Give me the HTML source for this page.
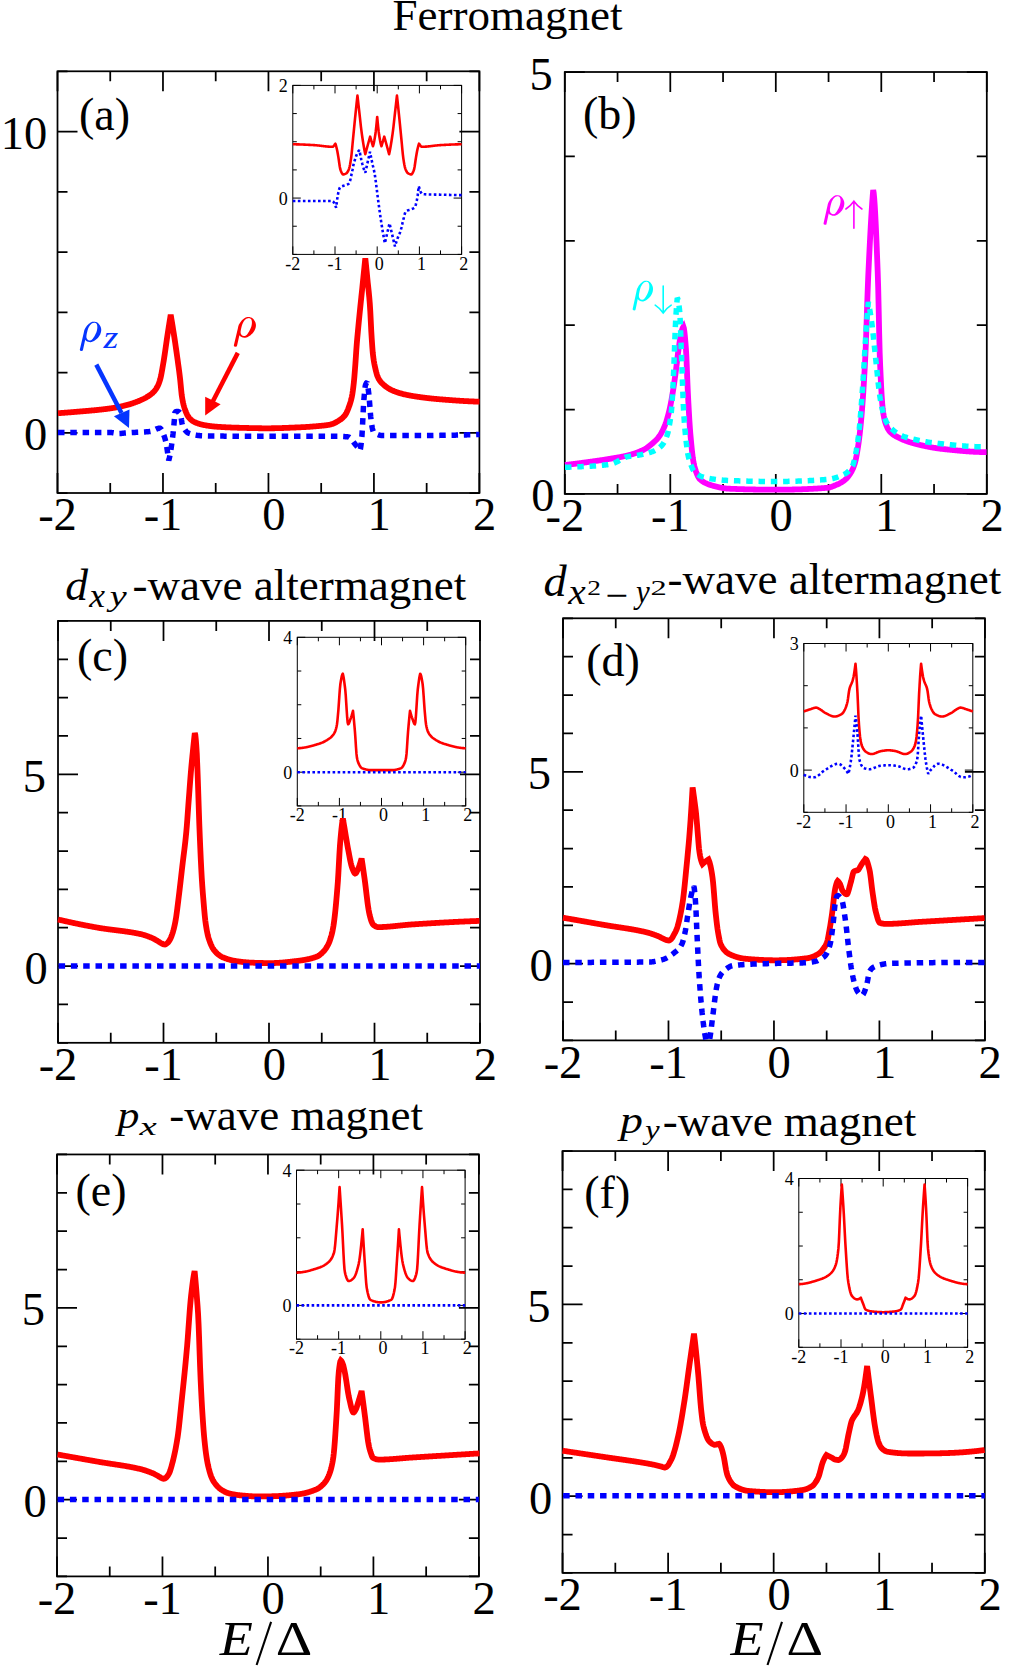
<!DOCTYPE html>
<html><head><meta charset="utf-8"><title>Figure</title>
<style>html,body{margin:0;padding:0;background:#fff;overflow:hidden;} svg{display:block;}</style>
</head><body>
<svg width="1025" height="1668" viewBox="0 0 1025 1668" font-family='"Liberation Serif", serif'>
<rect width="1025" height="1668" fill="#fff"/>
<text x="392.5" y="29.8" font-size="45" text-anchor="start" fill="#000" >Ferromagnet</text>
<rect x="292.8" y="85.4" width="168.8" height="169.0" fill="#fff"/>
<path d="M292.80 254.40L292.80 246.40M292.80 85.40L292.80 93.40M335.00 254.40L335.00 246.40M335.00 85.40L335.00 93.40M377.20 254.40L377.20 246.40M377.20 85.40L377.20 93.40M419.40 254.40L419.40 246.40M419.40 85.40L419.40 93.40M461.60 254.40L461.60 246.40M461.60 85.40L461.60 93.40M313.90 254.40L313.90 250.40M313.90 85.40L313.90 89.40M356.10 254.40L356.10 250.40M356.10 85.40L356.10 89.40M398.30 254.40L398.30 250.40M398.30 85.40L398.30 89.40M440.50 254.40L440.50 250.40M440.50 85.40L440.50 89.40M292.80 198.07L300.80 198.07M461.60 198.07L453.60 198.07M292.80 85.40L300.80 85.40M461.60 85.40L453.60 85.40M292.80 254.40L296.80 254.40M461.60 254.40L457.60 254.40M292.80 226.23L296.80 226.23M461.60 226.23L457.60 226.23M292.80 169.90L296.80 169.90M461.60 169.90L457.60 169.90M292.80 141.73L296.80 141.73M461.60 141.73L457.60 141.73M292.80 113.57L296.80 113.57M461.60 113.57L457.60 113.57" stroke="#000" stroke-width="1.0" fill="none"/>
<rect x="292.8" y="85.4" width="168.8" height="169.0" fill="none" stroke="#000" stroke-width="1.0"/>
<path d="M292.80 144.27 L293.30 144.28 L293.79 144.28 L294.29 144.29 L294.78 144.30 L295.28 144.31 L295.77 144.32 L296.27 144.33 L296.76 144.35 L297.26 144.36 L297.75 144.37 L298.25 144.39 L298.74 144.40 L299.24 144.42 L299.73 144.44 L300.23 144.45 L300.72 144.47 L301.22 144.49 L301.71 144.51 L302.21 144.53 L302.70 144.55 L303.20 144.57 L303.69 144.59 L304.19 144.61 L304.68 144.64 L305.18 144.66 L305.67 144.68 L306.17 144.71 L306.66 144.73 L307.16 144.75 L307.65 144.78 L308.15 144.80 L308.64 144.83 L309.14 144.85 L309.63 144.88 L310.13 144.91 L310.62 144.93 L311.12 144.96 L311.61 144.99 L312.11 145.01 L312.60 145.04 L313.10 145.07 L313.59 145.10 L314.09 145.12 L314.59 145.16 L315.08 145.19 L315.58 145.23 L316.07 145.27 L316.57 145.32 L317.06 145.37 L317.56 145.42 L318.05 145.47 L318.55 145.52 L319.04 145.58 L319.54 145.64 L320.03 145.70 L320.53 145.76 L321.02 145.82 L321.52 145.88 L322.01 145.94 L322.51 146.00 L323.00 146.07 L323.50 146.13 L323.99 146.19 L324.49 146.24 L324.98 146.30 L325.48 146.36 L325.97 146.41 L326.47 146.46 L326.96 146.51 L327.46 146.56 L327.95 146.60 L328.45 146.64 L328.94 146.67 L329.44 146.71 L329.93 146.73 L330.43 146.76 L330.92 146.78 L331.42 146.79 L331.91 146.80 L332.41 146.80 L332.90 146.68 L333.40 146.30 L333.89 145.74 L334.39 145.06 L334.88 144.36 L335.38 143.71 L335.87 145.20 L336.36 147.00 L336.85 149.04 L337.34 151.30 L337.83 154.01 L338.32 156.88 L338.81 160.02 L339.30 163.50 L339.79 166.76 L340.28 169.24 L340.77 170.66 L341.27 171.86 L341.76 172.90 L342.25 173.72 L342.74 174.24 L343.23 174.41 L343.72 174.37 L344.21 174.27 L344.70 174.12 L345.19 173.92 L345.68 173.68 L346.17 173.41 L346.66 173.09 L347.15 172.56 L347.64 171.84 L348.13 170.92 L348.62 169.84 L349.11 168.61 L349.60 166.86 L350.09 164.46 L350.58 161.58 L351.07 158.37 L351.56 154.30 L352.06 149.33 L352.55 144.00 L353.04 138.89 L353.53 133.92 L354.02 128.90 L354.51 123.88 L355.00 118.93 L355.49 114.11 L355.98 109.37 L356.47 104.69 L356.96 100.08 L357.45 95.54 L357.94 99.95 L358.43 104.33 L358.92 108.69 L359.41 113.01 L359.90 117.40 L360.39 121.89 L360.88 126.29 L361.38 130.41 L361.87 134.07 L362.36 137.47 L362.85 140.73 L363.34 143.84 L363.83 146.76 L364.32 149.46 L364.81 151.93 L365.30 154.13 L365.78 152.32 L366.27 150.53 L366.76 148.75 L367.24 146.99 L367.73 145.23 L368.21 143.49 L368.70 141.76 L369.18 140.05 L369.67 138.35 L370.15 136.66 L372.90 146.24 L373.37 144.82 L373.85 142.87 L374.33 140.49 L374.81 137.80 L375.29 134.82 L375.77 131.21 L376.24 126.95 L376.72 122.16 L377.20 116.95 L377.68 122.16 L378.16 126.95 L378.63 131.21 L379.11 134.82 L379.59 137.80 L380.07 140.49 L380.55 142.87 L381.03 144.82 L381.50 146.24 L384.25 136.66 L384.73 138.35 L385.22 140.05 L385.70 141.76 L386.19 143.49 L386.67 145.23 L387.16 146.99 L387.64 148.75 L388.13 150.53 L388.62 152.32 L389.10 154.13 L389.59 151.93 L390.08 149.46 L390.57 146.76 L391.06 143.84 L391.55 140.73 L392.04 137.47 L392.53 134.07 L393.03 130.41 L393.52 126.29 L394.01 121.89 L394.50 117.40 L394.99 113.01 L395.48 108.69 L395.97 104.33 L396.46 99.95 L396.95 95.54 L397.44 100.08 L397.93 104.69 L398.42 109.37 L398.91 114.11 L399.40 118.93 L399.89 123.88 L400.38 128.90 L400.87 133.92 L401.36 138.89 L401.85 144.00 L402.34 149.33 L402.84 154.30 L403.33 158.37 L403.82 161.58 L404.31 164.46 L404.80 166.86 L405.29 168.61 L405.78 169.84 L406.27 170.92 L406.76 171.84 L407.25 172.56 L407.74 173.09 L408.23 173.41 L408.72 173.68 L409.21 173.92 L409.70 174.12 L410.19 174.27 L410.68 174.37 L411.17 174.41 L411.66 174.24 L412.15 173.72 L412.64 172.90 L413.13 171.86 L413.63 170.66 L414.12 169.24 L414.61 166.76 L415.10 163.50 L415.59 160.02 L416.08 156.88 L416.57 154.01 L417.06 151.30 L417.55 149.04 L418.04 147.00 L418.53 145.20 L419.02 143.71 L419.52 144.36 L420.01 145.06 L420.51 145.74 L421.00 146.30 L421.50 146.68 L421.99 146.80 L422.49 146.80 L422.98 146.79 L423.48 146.78 L423.97 146.76 L424.47 146.73 L424.96 146.71 L425.46 146.67 L425.95 146.64 L426.45 146.60 L426.94 146.56 L427.44 146.51 L427.93 146.46 L428.43 146.41 L428.92 146.36 L429.42 146.30 L429.91 146.24 L430.41 146.19 L430.90 146.13 L431.40 146.07 L431.89 146.00 L432.39 145.94 L432.88 145.88 L433.38 145.82 L433.87 145.76 L434.37 145.70 L434.86 145.64 L435.36 145.58 L435.85 145.52 L436.35 145.47 L436.84 145.42 L437.34 145.37 L437.83 145.32 L438.33 145.27 L438.82 145.23 L439.32 145.19 L439.81 145.16 L440.31 145.12 L440.81 145.10 L441.30 145.07 L441.80 145.04 L442.29 145.01 L442.79 144.99 L443.28 144.96 L443.78 144.93 L444.27 144.91 L444.77 144.88 L445.26 144.85 L445.76 144.83 L446.25 144.80 L446.75 144.78 L447.24 144.75 L447.74 144.73 L448.23 144.71 L448.73 144.68 L449.22 144.66 L449.72 144.64 L450.21 144.61 L450.71 144.59 L451.20 144.57 L451.70 144.55 L452.19 144.53 L452.69 144.51 L453.18 144.49 L453.68 144.47 L454.17 144.45 L454.67 144.44 L455.16 144.42 L455.66 144.40 L456.15 144.39 L456.65 144.37 L457.14 144.36 L457.64 144.35 L458.13 144.33 L458.63 144.32 L459.12 144.31 L459.62 144.30 L460.11 144.29 L460.61 144.28 L461.10 144.28 L461.60 144.27" fill="none" stroke="#ff0000" stroke-width="2.6" stroke-miterlimit="4" stroke-linejoin="round"/>
<path d="M292.80 201.00 L293.30 201.00 L293.80 201.00 L294.30 201.00 L294.79 201.00 L295.29 201.00 L295.79 201.00 L296.29 201.00 L296.79 201.00 L297.29 201.00 L297.79 201.00 L298.29 201.00 L298.78 201.00 L299.28 201.00 L299.78 201.00 L300.28 201.00 L300.78 201.00 L301.28 201.00 L301.78 201.00 L302.27 201.00 L302.77 201.00 L303.27 201.00 L303.77 201.00 L304.27 201.00 L304.77 201.00 L305.27 201.00 L305.76 201.00 L306.26 201.00 L306.76 201.00 L307.26 201.00 L307.76 201.00 L308.26 201.00 L308.76 201.00 L309.26 201.00 L309.75 201.00 L310.25 201.00 L310.75 201.00 L311.25 201.00 L311.75 201.00 L312.25 201.00 L312.75 201.00 L313.24 201.00 L313.74 201.00 L314.24 201.00 L314.74 201.00 L315.24 201.00 L315.74 201.00 L316.24 201.00 L316.73 201.00 L317.23 201.00 L317.73 201.00 L318.23 201.00 L318.73 201.00 L319.23 201.00 L319.73 201.00 L320.23 201.00 L320.72 201.00 L321.22 201.00 L321.72 201.00 L322.22 201.00 L322.72 201.00 L323.22 201.00 L323.72 201.00 L324.21 201.00 L324.71 201.00 L325.21 201.00 L325.71 201.00 L326.21 201.00 L326.71 201.00 L327.21 201.00 L327.70 201.00 L328.20 201.00 L328.70 201.00 L329.20 201.00 L329.70 201.00 L330.20 201.00 L330.70 201.00 L331.20 201.00 L331.69 201.00 L332.19 201.00 L332.69 201.04 L333.19 201.43 L333.69 202.15 L334.19 203.12 L334.69 204.24 L335.18 205.43 L335.68 206.59 L336.18 207.64 L336.68 203.31 L337.17 199.43 L337.67 196.10 L338.16 193.39 L338.66 191.29 L339.15 189.44 L339.64 188.02 L340.14 187.30 L340.63 186.94 L341.13 186.64 L341.62 186.40 L342.12 186.20 L342.61 186.03 L343.11 185.88 L343.60 185.75 L344.10 185.61 L344.59 185.47 L345.09 185.30 L345.58 185.10 L346.08 184.90 L346.57 184.72 L347.07 184.54 L347.56 184.35 L348.06 184.11 L348.55 183.81 L349.04 183.43 L349.54 182.58 L350.03 181.02 L350.53 178.98 L351.02 176.68 L351.52 174.33 L352.01 172.13 L352.51 169.69 L353.00 167.08 L353.50 164.64 L353.99 162.71 L354.49 161.10 L354.98 159.53 L355.48 158.00 L355.97 156.56 L356.47 155.21 L356.96 153.97 L357.45 152.87 L357.95 151.92 L358.44 151.14 L358.94 150.56 L359.43 150.18 L359.92 152.86 L360.41 155.41 L360.90 157.82 L361.39 160.07 L361.88 162.14 L362.37 164.04 L362.86 165.77 L363.34 167.41 L363.83 168.95 L364.32 170.35 L364.81 171.61 L365.30 172.72 L369.98 151.87 L370.48 154.34 L370.97 156.77 L371.47 159.15 L371.96 161.50 L372.46 163.81 L372.95 166.01 L373.45 168.06 L373.94 170.19 L374.44 172.63 L374.94 175.54 L375.43 178.90 L375.93 182.58 L376.42 186.48 L376.92 190.50 L377.41 194.52 L377.91 198.44 L378.40 202.15 L378.90 205.76 L379.39 209.37 L379.89 212.95 L380.38 216.46 L380.88 219.86 L381.37 223.11 L381.87 226.23 L382.36 229.27 L382.86 232.23 L383.35 235.10 L383.85 237.88 L384.34 240.56 L384.84 243.13 L389.52 223.42 L394.97 246.51 L395.46 244.81 L395.96 243.17 L396.45 241.59 L396.95 240.09 L397.44 238.67 L397.94 237.38 L398.43 236.23 L398.93 235.13 L399.42 234.02 L399.92 232.81 L400.41 231.43 L400.91 229.76 L401.40 227.80 L401.90 225.66 L402.39 223.47 L402.89 221.35 L403.38 219.41 L403.88 217.45 L404.37 215.40 L404.87 213.53 L405.36 212.14 L405.86 211.48 L406.35 211.12 L406.85 210.82 L407.34 210.58 L407.84 210.38 L408.33 210.21 L408.83 210.06 L409.32 209.91 L409.82 209.76 L410.31 209.60 L410.81 209.40 L411.30 209.19 L411.80 209.00 L412.29 208.83 L412.79 208.65 L413.28 208.44 L413.78 208.17 L414.27 207.83 L414.77 207.34 L415.26 206.32 L415.75 204.83 L416.25 202.94 L416.74 200.74 L417.24 198.32 L417.73 195.23 L418.23 191.02 L418.72 186.24 L419.22 187.62 L419.72 189.11 L420.22 190.58 L420.72 191.92 L421.22 193.04 L421.72 193.81 L422.21 194.12 L422.71 194.16 L423.21 194.20 L423.71 194.23 L424.21 194.26 L424.71 194.29 L425.21 194.32 L425.70 194.34 L426.20 194.36 L426.70 194.39 L427.20 194.41 L427.70 194.42 L428.20 194.44 L428.70 194.46 L429.19 194.47 L429.69 194.49 L430.19 194.50 L430.69 194.51 L431.19 194.52 L431.69 194.53 L432.19 194.54 L432.68 194.55 L433.18 194.56 L433.68 194.57 L434.18 194.57 L434.68 194.58 L435.18 194.59 L435.68 194.60 L436.17 194.60 L436.67 194.61 L437.17 194.62 L437.67 194.63 L438.17 194.64 L438.67 194.65 L439.17 194.66 L439.66 194.67 L440.16 194.68 L440.66 194.69 L441.16 194.70 L441.66 194.72 L442.16 194.73 L442.66 194.74 L443.15 194.75 L443.65 194.77 L444.15 194.78 L444.65 194.79 L445.15 194.80 L445.65 194.81 L446.14 194.82 L446.64 194.84 L447.14 194.85 L447.64 194.86 L448.14 194.87 L448.64 194.88 L449.14 194.89 L449.63 194.90 L450.13 194.92 L450.63 194.93 L451.13 194.94 L451.63 194.95 L452.13 194.96 L452.63 194.97 L453.12 194.98 L453.62 194.99 L454.12 195.00 L454.62 195.01 L455.12 195.02 L455.62 195.03 L456.12 195.04 L456.61 195.05 L457.11 195.06 L457.61 195.07 L458.11 195.08 L458.61 195.09 L459.11 195.09 L459.61 195.10 L460.10 195.11 L460.60 195.12 L461.10 195.13 L461.60 195.14" fill="none" stroke="#0000ff" stroke-width="2.6" stroke-dasharray="2.6 2.44" stroke-linejoin="bevel" stroke-miterlimit="4" />
<text x="292.8" y="269.6" font-size="18" text-anchor="middle" fill="#000" >-2</text>
<text x="335.0" y="269.6" font-size="18" text-anchor="middle" fill="#000" >-1</text>
<text x="379.3" y="269.6" font-size="18" text-anchor="middle" fill="#000" >0</text>
<text x="421.5" y="269.6" font-size="18" text-anchor="middle" fill="#000" >1</text>
<text x="463.7" y="269.6" font-size="18" text-anchor="middle" fill="#000" >2</text>
<text x="287.8" y="92.2" font-size="18" text-anchor="end" fill="#000" >2</text>
<text x="287.8" y="204.9" font-size="18" text-anchor="end" fill="#000" >0</text>
<rect x="297.3" y="637.3" width="168.39999999999998" height="168.60000000000002" fill="#fff"/>
<path d="M297.30 805.90L297.30 797.90M297.30 637.30L297.30 645.30M339.40 805.90L339.40 797.90M339.40 637.30L339.40 645.30M381.50 805.90L381.50 797.90M381.50 637.30L381.50 645.30M423.60 805.90L423.60 797.90M423.60 637.30L423.60 645.30M465.70 805.90L465.70 797.90M465.70 637.30L465.70 645.30M318.35 805.90L318.35 801.90M318.35 637.30L318.35 641.30M360.45 805.90L360.45 801.90M360.45 637.30L360.45 641.30M402.55 805.90L402.55 801.90M402.55 637.30L402.55 641.30M444.65 805.90L444.65 801.90M444.65 637.30L444.65 641.30M297.30 772.18L305.30 772.18M465.70 772.18L457.70 772.18M297.30 637.30L305.30 637.30M465.70 637.30L457.70 637.30M297.30 805.90L301.30 805.90M465.70 805.90L461.70 805.90M297.30 738.46L301.30 738.46M465.70 738.46L461.70 738.46M297.30 704.74L301.30 704.74M465.70 704.74L461.70 704.74M297.30 671.02L301.30 671.02M465.70 671.02L461.70 671.02" stroke="#000" stroke-width="1.0" fill="none"/>
<rect x="297.3" y="637.3" width="168.39999999999998" height="168.60000000000002" fill="none" stroke="#000" stroke-width="1.0"/>
<path d="M297.30 748.24 L297.80 748.23 L298.29 748.22 L298.79 748.20 L299.28 748.17 L299.78 748.14 L300.27 748.10 L300.77 748.05 L301.26 748.00 L301.76 747.95 L302.25 747.89 L302.75 747.82 L303.24 747.75 L303.74 747.68 L304.23 747.59 L304.73 747.51 L305.22 747.42 L305.72 747.33 L306.21 747.23 L306.71 747.13 L307.20 747.02 L307.70 746.91 L308.19 746.80 L308.69 746.69 L309.18 746.57 L309.68 746.45 L310.17 746.32 L310.67 746.19 L311.16 746.06 L311.66 745.93 L312.15 745.80 L312.65 745.66 L313.14 745.52 L313.64 745.38 L314.13 745.24 L314.63 745.09 L315.12 744.95 L315.62 744.80 L316.12 744.66 L316.61 744.51 L317.11 744.36 L317.60 744.21 L318.10 744.06 L318.59 743.91 L319.09 743.76 L319.58 743.60 L320.08 743.43 L320.57 743.25 L321.07 743.06 L321.56 742.87 L322.06 742.66 L322.55 742.45 L323.05 742.22 L323.54 741.99 L324.04 741.74 L324.53 741.49 L325.03 741.23 L325.52 740.95 L326.02 740.67 L326.51 740.38 L327.01 740.08 L327.50 739.76 L328.00 739.44 L328.49 739.11 L328.99 738.77 L329.48 738.41 L329.98 738.04 L330.47 737.65 L330.97 737.23 L331.46 736.77 L331.96 736.27 L332.45 735.72 L332.95 735.12 L333.44 734.45 L333.94 733.72 L334.43 732.92 L334.93 731.92 L335.43 730.65 L335.92 729.07 L336.42 727.12 L336.91 724.78 L337.41 720.82 L337.90 715.45 L338.40 709.77 L338.89 702.85 L339.39 695.49 L339.88 688.83 L340.38 684.00 L340.87 680.94 L341.37 678.15 L341.86 675.85 L342.36 674.29 L342.85 673.72 L343.34 676.00 L343.82 678.81 L344.30 682.09 L344.78 685.75 L345.27 689.74 L345.75 695.45 L346.23 702.86 L346.72 710.70 L347.20 717.73 L347.68 722.67 L348.17 724.29 L348.65 723.88 L349.13 722.91 L349.62 721.60 L350.10 720.14 L350.58 718.72 L351.07 717.37 L351.55 715.89 L352.03 714.29 L352.52 712.60 L353.00 710.81 L353.49 715.68 L353.99 720.86 L354.49 726.35 L354.98 732.10 L355.48 739.09 L355.97 746.97 L356.47 753.88 L356.96 757.92 L357.46 760.06 L357.96 761.76 L358.45 763.12 L358.95 764.22 L359.44 765.15 L359.94 765.99 L360.43 766.76 L360.93 767.42 L361.42 767.91 L361.92 768.18 L362.42 768.38 L362.91 768.57 L363.41 768.75 L363.90 768.92 L364.40 769.07 L364.89 769.22 L365.39 769.35 L365.89 769.48 L366.38 769.59 L366.88 769.69 L367.37 769.79 L367.87 769.87 L368.36 769.94 L368.86 770.00 L369.36 770.05 L369.85 770.10 L370.35 770.13 L370.84 770.15 L371.34 770.16 L371.83 770.16 L372.33 770.16 L372.83 770.16 L373.32 770.16 L373.82 770.16 L374.31 770.16 L374.81 770.16 L375.30 770.16 L375.80 770.16 L376.30 770.16 L376.79 770.16 L377.29 770.16 L377.78 770.16 L378.28 770.16 L378.77 770.16 L379.27 770.16 L379.77 770.16 L380.26 770.16 L380.76 770.16 L381.25 770.16 L381.75 770.16 L382.24 770.16 L382.74 770.16 L383.23 770.16 L383.73 770.16 L384.23 770.16 L384.72 770.16 L385.22 770.16 L385.71 770.16 L386.21 770.16 L386.70 770.16 L387.20 770.16 L387.70 770.16 L388.19 770.16 L388.69 770.16 L389.18 770.16 L389.68 770.16 L390.17 770.16 L390.67 770.16 L391.17 770.16 L391.66 770.16 L392.16 770.15 L392.65 770.13 L393.15 770.10 L393.64 770.05 L394.14 770.00 L394.64 769.94 L395.13 769.87 L395.63 769.79 L396.12 769.69 L396.62 769.59 L397.11 769.48 L397.61 769.35 L398.11 769.22 L398.60 769.07 L399.10 768.92 L399.59 768.75 L400.09 768.57 L400.58 768.38 L401.08 768.18 L401.58 767.91 L402.07 767.42 L402.57 766.76 L403.06 765.99 L403.56 765.15 L404.05 764.22 L404.55 763.12 L405.04 761.76 L405.54 760.06 L406.04 757.92 L406.53 753.88 L407.03 746.97 L407.52 739.09 L408.02 732.10 L408.51 726.35 L409.01 720.86 L409.51 715.68 L410.00 710.81 L410.48 712.60 L410.97 714.29 L411.45 715.89 L411.93 717.37 L412.42 718.72 L412.90 720.14 L413.38 721.60 L413.87 722.91 L414.35 723.88 L414.83 724.29 L415.32 722.67 L415.80 717.73 L416.28 710.70 L416.77 702.86 L417.25 695.45 L417.73 689.74 L418.22 685.75 L418.70 682.09 L419.18 678.81 L419.66 676.00 L420.15 673.72 L420.64 674.29 L421.14 675.85 L421.63 678.15 L422.13 680.94 L422.62 684.00 L423.12 688.83 L423.61 695.49 L424.11 702.85 L424.60 709.77 L425.10 715.45 L425.59 720.82 L426.09 724.78 L426.58 727.12 L427.08 729.07 L427.57 730.65 L428.07 731.92 L428.57 732.92 L429.06 733.72 L429.56 734.45 L430.05 735.12 L430.55 735.72 L431.04 736.27 L431.54 736.77 L432.03 737.23 L432.53 737.65 L433.02 738.04 L433.52 738.41 L434.01 738.77 L434.51 739.11 L435.00 739.44 L435.50 739.76 L435.99 740.08 L436.49 740.38 L436.98 740.67 L437.48 740.95 L437.97 741.23 L438.47 741.49 L438.96 741.74 L439.46 741.99 L439.95 742.22 L440.45 742.45 L440.94 742.66 L441.44 742.87 L441.93 743.06 L442.43 743.25 L442.92 743.43 L443.42 743.60 L443.91 743.76 L444.41 743.91 L444.90 744.06 L445.40 744.21 L445.89 744.36 L446.39 744.51 L446.88 744.66 L447.38 744.80 L447.88 744.95 L448.37 745.09 L448.87 745.24 L449.36 745.38 L449.86 745.52 L450.35 745.66 L450.85 745.80 L451.34 745.93 L451.84 746.06 L452.33 746.19 L452.83 746.32 L453.32 746.45 L453.82 746.57 L454.31 746.69 L454.81 746.80 L455.30 746.91 L455.80 747.02 L456.29 747.13 L456.79 747.23 L457.28 747.33 L457.78 747.42 L458.27 747.51 L458.77 747.59 L459.26 747.68 L459.76 747.75 L460.25 747.82 L460.75 747.89 L461.24 747.95 L461.74 748.00 L462.23 748.05 L462.73 748.10 L463.22 748.14 L463.72 748.17 L464.21 748.20 L464.71 748.22 L465.20 748.23 L465.70 748.24" fill="none" stroke="#ff0000" stroke-width="2.6" stroke-miterlimit="4" stroke-linejoin="round"/>
<path d="M297.30 772.18 L465.70 772.18" fill="none" stroke="#0000ff" stroke-width="2.6" stroke-dasharray="2.6 2.44" stroke-linejoin="bevel" stroke-miterlimit="4" />
<text x="297.3" y="821.1" font-size="18" text-anchor="middle" fill="#000" >-2</text>
<text x="339.4" y="821.1" font-size="18" text-anchor="middle" fill="#000" >-1</text>
<text x="383.6" y="821.1" font-size="18" text-anchor="middle" fill="#000" >0</text>
<text x="425.7" y="821.1" font-size="18" text-anchor="middle" fill="#000" >1</text>
<text x="467.8" y="821.1" font-size="18" text-anchor="middle" fill="#000" >2</text>
<text x="292.3" y="644.1" font-size="18" text-anchor="end" fill="#000" >4</text>
<text x="292.3" y="779.0" font-size="18" text-anchor="end" fill="#000" >0</text>
<rect x="803.8" y="643.5" width="169.0" height="168.79999999999995" fill="#fff"/>
<path d="M803.80 812.30L803.80 804.30M803.80 643.50L803.80 651.50M846.05 812.30L846.05 804.30M846.05 643.50L846.05 651.50M888.30 812.30L888.30 804.30M888.30 643.50L888.30 651.50M930.55 812.30L930.55 804.30M930.55 643.50L930.55 651.50M972.80 812.30L972.80 804.30M972.80 643.50L972.80 651.50M824.92 812.30L824.92 808.30M824.92 643.50L824.92 647.50M867.17 812.30L867.17 808.30M867.17 643.50L867.17 647.50M909.42 812.30L909.42 808.30M909.42 643.50L909.42 647.50M951.67 812.30L951.67 808.30M951.67 643.50L951.67 647.50M803.80 770.10L811.80 770.10M972.80 770.10L964.80 770.10M803.80 643.50L811.80 643.50M972.80 643.50L964.80 643.50M803.80 812.30L807.80 812.30M972.80 812.30L968.80 812.30M803.80 727.90L807.80 727.90M972.80 727.90L968.80 727.90M803.80 685.70L807.80 685.70M972.80 685.70L968.80 685.70" stroke="#000" stroke-width="1.0" fill="none"/>
<rect x="803.8" y="643.5" width="169.0" height="168.79999999999995" fill="none" stroke="#000" stroke-width="1.0"/>
<path d="M803.80 711.44 L804.30 711.27 L804.79 711.09 L805.29 710.92 L805.79 710.75 L806.29 710.58 L806.78 710.41 L807.28 710.24 L807.78 710.08 L808.28 709.92 L808.77 709.76 L809.27 709.60 L809.77 709.45 L810.26 709.29 L810.76 709.13 L811.26 708.95 L811.76 708.76 L812.25 708.57 L812.75 708.38 L813.25 708.21 L813.74 708.05 L814.24 707.90 L814.74 707.79 L815.24 707.70 L815.73 707.65 L816.23 707.65 L816.73 707.72 L817.23 707.86 L817.72 708.05 L818.22 708.29 L818.72 708.57 L819.21 708.87 L819.71 709.17 L820.21 709.47 L820.71 709.76 L821.20 710.06 L821.70 710.40 L822.20 710.77 L822.70 711.16 L823.19 711.54 L823.69 711.92 L824.19 712.27 L824.68 712.58 L825.18 712.84 L825.68 713.11 L826.18 713.38 L826.67 713.64 L827.17 713.91 L827.67 714.18 L828.17 714.44 L828.66 714.70 L829.16 714.95 L829.66 715.18 L830.15 715.40 L830.65 715.61 L831.15 715.81 L831.65 715.98 L832.14 716.13 L832.64 716.26 L833.14 716.36 L833.63 716.44 L834.13 716.49 L834.63 716.51 L835.13 716.49 L835.62 716.45 L836.12 716.38 L836.62 716.28 L837.12 716.16 L837.61 716.01 L838.11 715.84 L838.61 715.65 L839.10 715.43 L839.60 715.20 L840.10 714.95 L840.60 714.69 L841.09 714.41 L841.59 714.12 L842.09 713.79 L842.59 713.30 L843.08 712.67 L843.58 711.92 L844.08 711.09 L844.57 710.21 L845.07 709.21 L845.57 708.06 L846.07 706.75 L846.56 705.25 L847.06 703.55 L847.56 701.46 L848.06 698.24 L848.55 694.49 L849.05 691.03 L849.55 688.63 L850.04 686.98 L850.54 685.66 L851.04 684.54 L851.54 683.47 L852.03 682.31 L852.53 680.92 L853.03 679.18 L853.52 676.91 L854.02 674.13 L854.52 670.95 L855.02 667.46 L855.51 663.76 L856.01 669.80 L856.51 676.94 L857.00 684.96 L857.50 693.68 L858.00 704.96 L858.49 716.80 L858.99 724.88 L859.49 731.04 L859.98 736.18 L860.48 740.09 L860.98 742.63 L861.48 744.50 L861.97 746.00 L862.47 747.20 L862.97 748.18 L863.46 749.04 L863.96 749.80 L864.46 750.46 L864.95 751.01 L865.45 751.44 L865.95 751.79 L866.44 752.12 L866.94 752.44 L867.44 752.74 L867.93 753.02 L868.43 753.28 L868.93 753.50 L869.42 753.70 L869.92 753.85 L870.42 753.97 L870.91 754.04 L871.41 754.06 L871.91 754.04 L872.40 753.99 L872.90 753.91 L873.40 753.79 L873.89 753.66 L874.39 753.50 L874.89 753.32 L875.38 753.13 L875.88 752.93 L876.38 752.73 L876.87 752.52 L877.37 752.31 L877.87 752.11 L878.36 751.91 L878.86 751.72 L879.36 751.55 L879.86 751.39 L880.35 751.26 L880.85 751.15 L881.35 751.07 L881.84 750.98 L882.34 750.90 L882.84 750.82 L883.33 750.74 L883.83 750.66 L884.33 750.59 L884.82 750.52 L885.32 750.46 L885.82 750.40 L886.31 750.36 L886.81 750.32 L887.31 750.29 L887.80 750.27 L888.30 750.27 L888.80 750.27 L889.29 750.29 L889.79 750.32 L890.29 750.36 L890.78 750.40 L891.28 750.46 L891.78 750.52 L892.27 750.59 L892.77 750.66 L893.27 750.74 L893.76 750.82 L894.26 750.90 L894.76 750.98 L895.25 751.07 L895.75 751.15 L896.25 751.26 L896.74 751.39 L897.24 751.55 L897.74 751.72 L898.24 751.91 L898.73 752.11 L899.23 752.31 L899.73 752.52 L900.22 752.73 L900.72 752.93 L901.22 753.13 L901.71 753.32 L902.21 753.50 L902.71 753.66 L903.20 753.79 L903.70 753.91 L904.20 753.99 L904.69 754.04 L905.19 754.06 L905.69 754.04 L906.18 753.97 L906.68 753.85 L907.18 753.70 L907.67 753.50 L908.17 753.28 L908.67 753.02 L909.16 752.74 L909.66 752.44 L910.16 752.12 L910.65 751.79 L911.15 751.44 L911.65 751.01 L912.14 750.46 L912.64 749.80 L913.14 749.04 L913.63 748.18 L914.13 747.20 L914.63 746.00 L915.12 744.50 L915.62 742.63 L916.12 740.09 L916.62 736.18 L917.11 731.04 L917.61 724.88 L918.11 716.80 L918.60 704.96 L919.10 693.68 L919.60 684.96 L920.09 676.94 L920.59 669.80 L921.09 663.76 L921.58 667.46 L922.08 670.95 L922.58 674.13 L923.07 676.91 L923.57 679.18 L924.07 680.92 L924.57 682.31 L925.06 683.47 L925.56 684.54 L926.06 685.66 L926.56 686.98 L927.05 688.63 L927.55 691.03 L928.05 694.49 L928.54 698.24 L929.04 701.46 L929.54 703.55 L930.04 705.25 L930.53 706.75 L931.03 708.06 L931.53 709.21 L932.03 710.21 L932.52 711.09 L933.02 711.92 L933.52 712.67 L934.01 713.30 L934.51 713.79 L935.01 714.12 L935.51 714.41 L936.00 714.69 L936.50 714.95 L937.00 715.20 L937.50 715.43 L937.99 715.65 L938.49 715.84 L938.99 716.01 L939.48 716.16 L939.98 716.28 L940.48 716.38 L940.98 716.45 L941.47 716.49 L941.97 716.51 L942.47 716.49 L942.96 716.44 L943.46 716.36 L943.96 716.26 L944.46 716.13 L944.95 715.98 L945.45 715.81 L945.95 715.61 L946.45 715.40 L946.94 715.18 L947.44 714.95 L947.94 714.70 L948.43 714.44 L948.93 714.18 L949.43 713.91 L949.93 713.64 L950.42 713.38 L950.92 713.11 L951.42 712.84 L951.92 712.58 L952.41 712.27 L952.91 711.92 L953.41 711.54 L953.90 711.16 L954.40 710.77 L954.90 710.40 L955.40 710.06 L955.89 709.76 L956.39 709.47 L956.89 709.17 L957.39 708.87 L957.88 708.57 L958.38 708.29 L958.88 708.05 L959.37 707.86 L959.87 707.72 L960.37 707.65 L960.87 707.65 L961.36 707.70 L961.86 707.79 L962.36 707.90 L962.85 708.05 L963.35 708.21 L963.85 708.38 L964.35 708.57 L964.84 708.76 L965.34 708.95 L965.84 709.13 L966.34 709.29 L966.83 709.45 L967.33 709.60 L967.83 709.76 L968.32 709.92 L968.82 710.08 L969.32 710.24 L969.82 710.41 L970.31 710.58 L970.81 710.75 L971.31 710.92 L971.81 711.09 L972.30 711.27 L972.80 711.44" fill="none" stroke="#ff0000" stroke-width="2.6" stroke-miterlimit="4" stroke-linejoin="round"/>
<path d="M803.80 774.57 L804.30 774.92 L804.80 775.23 L805.30 775.51 L805.80 775.77 L806.30 776.00 L806.80 776.20 L807.30 776.39 L807.80 776.55 L808.30 776.69 L808.80 776.81 L809.30 776.91 L809.80 777.00 L810.30 777.07 L810.80 777.13 L811.30 777.18 L811.80 777.21 L812.30 777.24 L812.80 777.26 L813.30 777.27 L813.80 777.27 L814.30 777.27 L814.80 777.22 L815.30 777.11 L815.80 776.94 L816.30 776.73 L816.80 776.46 L817.30 776.16 L817.80 775.82 L818.30 775.45 L818.80 775.06 L819.30 774.65 L819.80 774.22 L820.30 773.78 L820.80 773.33 L821.30 772.89 L821.80 772.45 L822.30 772.01 L822.80 771.60 L823.30 771.20 L823.80 770.83 L824.30 770.48 L824.79 770.17 L825.29 769.89 L825.79 769.60 L826.29 769.29 L826.79 768.98 L827.29 768.67 L827.79 768.35 L828.29 768.03 L828.79 767.71 L829.29 767.39 L829.79 767.07 L830.29 766.76 L830.79 766.45 L831.29 766.15 L831.79 765.86 L832.29 765.59 L832.79 765.32 L833.29 765.07 L833.79 764.84 L834.29 764.62 L834.79 764.43 L835.29 764.26 L835.79 764.11 L836.29 763.98 L836.79 763.89 L837.29 763.82 L837.79 763.78 L838.29 763.77 L838.79 763.84 L839.29 763.97 L839.79 764.18 L840.29 764.44 L840.79 764.77 L841.29 765.14 L841.79 765.57 L842.29 766.03 L842.79 766.52 L843.29 767.05 L843.79 767.60 L844.29 768.16 L844.79 768.74 L845.29 769.32 L845.79 769.90 L846.29 770.51 L846.79 771.25 L847.29 772.08 L847.79 772.98 L848.29 773.90 L848.77 772.26 L849.25 770.19 L849.73 767.76 L850.22 765.02 L850.70 762.05 L851.18 758.72 L851.66 754.70 L852.14 750.18 L852.62 745.39 L853.11 740.53 L853.59 735.79 L854.07 730.95 L854.55 725.98 L855.03 720.88 L855.51 715.66 L856.01 719.61 L856.51 724.07 L857.00 728.99 L857.50 734.30 L858.00 741.35 L858.49 749.49 L858.99 756.40 L859.49 759.87 L859.98 761.56 L860.48 763.03 L860.98 764.28 L861.48 765.34 L861.97 766.22 L862.47 766.91 L862.97 767.44 L863.46 767.82 L863.96 768.06 L864.46 768.26 L864.95 768.44 L865.45 768.61 L865.95 768.76 L866.44 768.89 L866.94 769.00 L867.44 769.10 L867.93 769.17 L868.43 769.22 L868.93 769.25 L869.42 769.25 L869.92 769.23 L870.42 769.16 L870.91 769.07 L871.41 768.94 L871.91 768.80 L872.40 768.63 L872.90 768.44 L873.40 768.24 L873.89 768.03 L874.39 767.81 L874.89 767.59 L875.38 767.37 L875.88 767.15 L876.38 766.93 L876.87 766.72 L877.37 766.53 L877.87 766.36 L878.36 766.20 L878.86 766.06 L879.36 765.96 L879.86 765.88 L880.35 765.82 L880.85 765.76 L881.35 765.70 L881.84 765.64 L882.34 765.58 L882.84 765.53 L883.33 765.48 L883.83 765.43 L884.33 765.39 L884.82 765.35 L885.32 765.31 L885.82 765.28 L886.31 765.25 L886.81 765.23 L887.31 765.22 L887.80 765.21 L888.30 765.20 L888.80 765.21 L889.29 765.22 L889.79 765.23 L890.29 765.25 L890.78 765.28 L891.28 765.31 L891.78 765.35 L892.27 765.39 L892.77 765.43 L893.27 765.48 L893.76 765.53 L894.26 765.58 L894.76 765.64 L895.25 765.70 L895.75 765.76 L896.25 765.82 L896.74 765.88 L897.24 765.96 L897.74 766.06 L898.24 766.20 L898.73 766.36 L899.23 766.53 L899.73 766.72 L900.22 766.93 L900.72 767.15 L901.22 767.37 L901.71 767.59 L902.21 767.81 L902.71 768.03 L903.20 768.24 L903.70 768.44 L904.20 768.63 L904.69 768.80 L905.19 768.94 L905.69 769.07 L906.18 769.16 L906.68 769.23 L907.18 769.25 L907.67 769.25 L908.17 769.22 L908.67 769.17 L909.16 769.10 L909.66 769.00 L910.16 768.89 L910.65 768.76 L911.15 768.61 L911.65 768.44 L912.14 768.26 L912.64 768.06 L913.14 767.82 L913.63 767.44 L914.13 766.91 L914.63 766.22 L915.12 765.34 L915.62 764.28 L916.12 763.03 L916.62 761.56 L917.11 759.87 L917.61 756.40 L918.11 749.49 L918.60 741.35 L919.10 734.30 L919.60 728.99 L920.09 724.07 L920.59 719.61 L921.09 715.66 L921.57 720.88 L922.05 725.98 L922.53 730.95 L923.01 735.79 L923.49 740.53 L923.98 745.39 L924.46 750.18 L924.94 754.70 L925.42 758.72 L925.90 762.05 L926.38 765.02 L926.87 767.76 L927.35 770.19 L927.83 772.26 L928.31 773.90 L928.81 772.98 L929.31 772.08 L929.81 771.25 L930.31 770.51 L930.81 769.90 L931.31 769.32 L931.81 768.74 L932.31 768.16 L932.81 767.60 L933.31 767.05 L933.81 766.52 L934.31 766.03 L934.81 765.57 L935.31 765.14 L935.81 764.77 L936.31 764.44 L936.81 764.18 L937.31 763.97 L937.81 763.84 L938.31 763.77 L938.81 763.78 L939.31 763.82 L939.81 763.89 L940.31 763.98 L940.81 764.11 L941.31 764.26 L941.81 764.43 L942.31 764.62 L942.81 764.84 L943.31 765.07 L943.81 765.32 L944.31 765.59 L944.81 765.86 L945.31 766.15 L945.81 766.45 L946.31 766.76 L946.81 767.07 L947.31 767.39 L947.81 767.71 L948.31 768.03 L948.81 768.35 L949.31 768.67 L949.81 768.98 L950.31 769.29 L950.81 769.60 L951.31 769.89 L951.81 770.17 L952.30 770.48 L952.80 770.83 L953.30 771.20 L953.80 771.60 L954.30 772.01 L954.80 772.45 L955.30 772.89 L955.80 773.33 L956.30 773.78 L956.80 774.22 L957.30 774.65 L957.80 775.06 L958.30 775.45 L958.80 775.82 L959.30 776.16 L959.80 776.46 L960.30 776.73 L960.80 776.94 L961.30 777.11 L961.80 777.22 L962.30 777.27 L962.80 777.27 L963.30 777.27 L963.80 777.26 L964.30 777.24 L964.80 777.21 L965.30 777.18 L965.80 777.13 L966.30 777.07 L966.80 777.00 L967.30 776.91 L967.80 776.81 L968.30 776.69 L968.80 776.55 L969.30 776.39 L969.80 776.20 L970.30 776.00 L970.80 775.77 L971.30 775.51 L971.80 775.23 L972.30 774.92 L972.80 774.57" fill="none" stroke="#0000ff" stroke-width="2.6" stroke-dasharray="2.6 2.44" stroke-linejoin="bevel" stroke-miterlimit="4" />
<text x="803.8" y="827.5" font-size="18" text-anchor="middle" fill="#000" >-2</text>
<text x="846.0" y="827.5" font-size="18" text-anchor="middle" fill="#000" >-1</text>
<text x="890.4" y="827.5" font-size="18" text-anchor="middle" fill="#000" >0</text>
<text x="932.6" y="827.5" font-size="18" text-anchor="middle" fill="#000" >1</text>
<text x="974.9" y="827.5" font-size="18" text-anchor="middle" fill="#000" >2</text>
<text x="798.8" y="650.3" font-size="18" text-anchor="end" fill="#000" >3</text>
<text x="798.8" y="776.9" font-size="18" text-anchor="end" fill="#000" >0</text>
<rect x="296.5" y="1170.2" width="168.60000000000002" height="169.0" fill="#fff"/>
<path d="M296.50 1339.20L296.50 1331.20M296.50 1170.20L296.50 1178.20M338.65 1339.20L338.65 1331.20M338.65 1170.20L338.65 1178.20M380.80 1339.20L380.80 1331.20M380.80 1170.20L380.80 1178.20M422.95 1339.20L422.95 1331.20M422.95 1170.20L422.95 1178.20M465.10 1339.20L465.10 1331.20M465.10 1170.20L465.10 1178.20M317.57 1339.20L317.57 1335.20M317.57 1170.20L317.57 1174.20M359.73 1339.20L359.73 1335.20M359.73 1170.20L359.73 1174.20M401.88 1339.20L401.88 1335.20M401.88 1170.20L401.88 1174.20M444.03 1339.20L444.03 1335.20M444.03 1170.20L444.03 1174.20M296.50 1305.40L304.50 1305.40M465.10 1305.40L457.10 1305.40M296.50 1170.20L304.50 1170.20M465.10 1170.20L457.10 1170.20M296.50 1339.20L300.50 1339.20M465.10 1339.20L461.10 1339.20M296.50 1271.60L300.50 1271.60M465.10 1271.60L461.10 1271.60M296.50 1237.80L300.50 1237.80M465.10 1237.80L461.10 1237.80M296.50 1204.00L300.50 1204.00M465.10 1204.00L461.10 1204.00" stroke="#000" stroke-width="1.0" fill="none"/>
<rect x="296.5" y="1170.2" width="168.60000000000002" height="169.0" fill="none" stroke="#000" stroke-width="1.0"/>
<path d="M296.50 1272.61 L297.00 1272.61 L297.49 1272.60 L297.99 1272.58 L298.48 1272.56 L298.98 1272.53 L299.47 1272.49 L299.97 1272.45 L300.46 1272.40 L300.96 1272.34 L301.45 1272.28 L301.95 1272.22 L302.44 1272.15 L302.94 1272.07 L303.43 1271.99 L303.93 1271.90 L304.42 1271.81 L304.92 1271.71 L305.41 1271.61 L305.91 1271.51 L306.40 1271.40 L306.90 1271.29 L307.39 1271.17 L307.89 1271.05 L308.38 1270.92 L308.88 1270.80 L309.37 1270.66 L309.87 1270.53 L310.36 1270.39 L310.86 1270.25 L311.35 1270.11 L311.85 1269.97 L312.34 1269.82 L312.84 1269.67 L313.33 1269.52 L313.83 1269.36 L314.33 1269.21 L314.82 1269.05 L315.32 1268.89 L315.81 1268.74 L316.31 1268.57 L316.80 1268.41 L317.30 1268.25 L317.79 1268.09 L318.29 1267.93 L318.78 1267.76 L319.28 1267.59 L319.77 1267.41 L320.27 1267.22 L320.76 1267.02 L321.26 1266.81 L321.75 1266.58 L322.25 1266.35 L322.74 1266.11 L323.24 1265.85 L323.73 1265.58 L324.23 1265.29 L324.72 1264.99 L325.22 1264.67 L325.71 1264.34 L326.21 1263.99 L326.70 1263.62 L327.20 1263.24 L327.69 1262.83 L328.19 1262.41 L328.68 1261.96 L329.18 1261.49 L329.67 1260.98 L330.17 1260.42 L330.66 1259.78 L331.16 1259.07 L331.66 1258.25 L332.15 1257.33 L332.65 1256.29 L333.14 1255.12 L333.64 1253.79 L334.13 1252.25 L334.63 1249.38 L335.12 1245.03 L335.62 1239.66 L336.11 1233.68 L336.61 1227.55 L337.10 1221.65 L337.60 1215.52 L338.09 1208.97 L338.59 1202.02 L339.08 1194.71 L339.58 1187.10 L340.07 1194.41 L340.56 1201.83 L341.05 1209.37 L341.54 1217.03 L342.03 1224.85 L342.53 1233.95 L343.02 1244.03 L343.51 1254.01 L344.00 1262.81 L344.49 1269.37 L344.98 1272.67 L345.47 1274.56 L345.97 1276.26 L346.46 1277.73 L346.95 1278.95 L347.44 1279.92 L347.93 1280.60 L348.42 1280.98 L348.91 1281.06 L349.41 1281.00 L349.90 1280.85 L350.39 1280.65 L350.88 1280.38 L351.37 1280.05 L351.86 1279.68 L352.36 1279.26 L352.85 1278.82 L353.34 1278.34 L353.83 1277.83 L354.32 1277.17 L354.81 1276.31 L355.30 1275.27 L355.80 1274.06 L356.29 1272.69 L356.78 1271.16 L357.27 1269.48 L357.76 1267.67 L358.25 1265.72 L358.74 1263.60 L359.24 1260.93 L359.73 1257.65 L360.22 1253.85 L360.71 1249.60 L361.20 1244.95 L361.69 1239.98 L362.18 1234.76 L362.68 1229.35 L363.17 1237.68 L363.67 1245.70 L364.17 1253.39 L364.66 1260.73 L365.16 1268.10 L365.65 1275.79 L366.15 1282.62 L366.65 1287.37 L367.14 1290.12 L367.64 1292.55 L368.14 1294.68 L368.63 1296.47 L369.13 1297.90 L369.63 1298.94 L370.12 1299.56 L370.62 1299.85 L371.12 1300.11 L371.61 1300.35 L372.11 1300.57 L372.61 1300.78 L373.10 1300.98 L373.60 1301.16 L374.10 1301.33 L374.59 1301.48 L375.09 1301.62 L375.59 1301.75 L376.08 1301.87 L376.58 1301.97 L377.08 1302.06 L377.57 1302.13 L378.07 1302.20 L378.57 1302.25 L379.06 1302.29 L379.56 1302.33 L380.06 1302.35 L380.55 1302.36 L381.05 1302.36 L381.54 1302.35 L382.04 1302.33 L382.54 1302.29 L383.03 1302.25 L383.53 1302.20 L384.03 1302.13 L384.52 1302.06 L385.02 1301.97 L385.52 1301.87 L386.01 1301.75 L386.51 1301.62 L387.01 1301.48 L387.50 1301.33 L388.00 1301.16 L388.50 1300.98 L388.99 1300.78 L389.49 1300.57 L389.99 1300.35 L390.48 1300.11 L390.98 1299.85 L391.48 1299.56 L391.97 1298.94 L392.47 1297.90 L392.97 1296.47 L393.46 1294.68 L393.96 1292.55 L394.46 1290.12 L394.95 1287.37 L395.45 1282.62 L395.95 1275.79 L396.44 1268.10 L396.94 1260.73 L397.43 1253.39 L397.93 1245.70 L398.43 1237.68 L398.92 1229.35 L399.42 1234.76 L399.91 1239.98 L400.40 1244.95 L400.89 1249.60 L401.38 1253.85 L401.87 1257.65 L402.36 1260.93 L402.86 1263.60 L403.35 1265.72 L403.84 1267.67 L404.33 1269.48 L404.82 1271.16 L405.31 1272.69 L405.80 1274.06 L406.30 1275.27 L406.79 1276.31 L407.28 1277.17 L407.77 1277.83 L408.26 1278.34 L408.75 1278.82 L409.24 1279.26 L409.74 1279.68 L410.23 1280.05 L410.72 1280.38 L411.21 1280.65 L411.70 1280.85 L412.19 1281.00 L412.69 1281.06 L413.18 1280.98 L413.67 1280.60 L414.16 1279.92 L414.65 1278.95 L415.14 1277.73 L415.63 1276.26 L416.13 1274.56 L416.62 1272.67 L417.11 1269.37 L417.60 1262.81 L418.09 1254.01 L418.58 1244.03 L419.07 1233.95 L419.57 1224.85 L420.06 1217.03 L420.55 1209.37 L421.04 1201.83 L421.53 1194.41 L422.02 1187.10 L422.52 1194.71 L423.01 1202.02 L423.51 1208.97 L424.00 1215.52 L424.50 1221.65 L424.99 1227.55 L425.49 1233.68 L425.98 1239.66 L426.48 1245.03 L426.97 1249.38 L427.47 1252.25 L427.96 1253.79 L428.46 1255.12 L428.95 1256.29 L429.45 1257.33 L429.94 1258.25 L430.44 1259.07 L430.94 1259.78 L431.43 1260.42 L431.93 1260.98 L432.42 1261.49 L432.92 1261.96 L433.41 1262.41 L433.91 1262.83 L434.40 1263.24 L434.90 1263.62 L435.39 1263.99 L435.89 1264.34 L436.38 1264.67 L436.88 1264.99 L437.37 1265.29 L437.87 1265.58 L438.36 1265.85 L438.86 1266.11 L439.35 1266.35 L439.85 1266.58 L440.34 1266.81 L440.84 1267.02 L441.33 1267.22 L441.83 1267.41 L442.32 1267.59 L442.82 1267.76 L443.31 1267.93 L443.81 1268.09 L444.30 1268.25 L444.80 1268.41 L445.29 1268.57 L445.79 1268.74 L446.28 1268.89 L446.78 1269.05 L447.27 1269.21 L447.77 1269.36 L448.27 1269.52 L448.76 1269.67 L449.26 1269.82 L449.75 1269.97 L450.25 1270.11 L450.74 1270.25 L451.24 1270.39 L451.73 1270.53 L452.23 1270.66 L452.72 1270.80 L453.22 1270.92 L453.71 1271.05 L454.21 1271.17 L454.70 1271.29 L455.20 1271.40 L455.69 1271.51 L456.19 1271.61 L456.68 1271.71 L457.18 1271.81 L457.67 1271.90 L458.17 1271.99 L458.66 1272.07 L459.16 1272.15 L459.65 1272.22 L460.15 1272.28 L460.64 1272.34 L461.14 1272.40 L461.63 1272.45 L462.13 1272.49 L462.62 1272.53 L463.12 1272.56 L463.61 1272.58 L464.11 1272.60 L464.60 1272.61 L465.10 1272.61" fill="none" stroke="#ff0000" stroke-width="2.6" stroke-miterlimit="4" stroke-linejoin="round"/>
<path d="M296.50 1305.40 L465.10 1305.40" fill="none" stroke="#0000ff" stroke-width="2.6" stroke-dasharray="2.6 2.44" stroke-linejoin="bevel" stroke-miterlimit="4" />
<text x="296.5" y="1354.4" font-size="18" text-anchor="middle" fill="#000" >-2</text>
<text x="338.6" y="1354.4" font-size="18" text-anchor="middle" fill="#000" >-1</text>
<text x="382.9" y="1354.4" font-size="18" text-anchor="middle" fill="#000" >0</text>
<text x="425.1" y="1354.4" font-size="18" text-anchor="middle" fill="#000" >1</text>
<text x="467.2" y="1354.4" font-size="18" text-anchor="middle" fill="#000" >2</text>
<text x="291.5" y="1177.0" font-size="18" text-anchor="end" fill="#000" >4</text>
<text x="291.5" y="1312.2" font-size="18" text-anchor="end" fill="#000" >0</text>
<rect x="798.8" y="1178.5" width="168.80000000000007" height="168.79999999999995" fill="#fff"/>
<path d="M798.80 1347.30L798.80 1339.30M798.80 1178.50L798.80 1186.50M841.00 1347.30L841.00 1339.30M841.00 1178.50L841.00 1186.50M883.20 1347.30L883.20 1339.30M883.20 1178.50L883.20 1186.50M925.40 1347.30L925.40 1339.30M925.40 1178.50L925.40 1186.50M967.60 1347.30L967.60 1339.30M967.60 1178.50L967.60 1186.50M819.90 1347.30L819.90 1343.30M819.90 1178.50L819.90 1182.50M862.10 1347.30L862.10 1343.30M862.10 1178.50L862.10 1182.50M904.30 1347.30L904.30 1343.30M904.30 1178.50L904.30 1182.50M946.50 1347.30L946.50 1343.30M946.50 1178.50L946.50 1182.50M798.80 1313.54L806.80 1313.54M967.60 1313.54L959.60 1313.54M798.80 1178.50L806.80 1178.50M967.60 1178.50L959.60 1178.50M798.80 1347.30L802.80 1347.30M967.60 1347.30L963.60 1347.30M798.80 1279.78L802.80 1279.78M967.60 1279.78L963.60 1279.78M798.80 1246.02L802.80 1246.02M967.60 1246.02L963.60 1246.02M798.80 1212.26L802.80 1212.26M967.60 1212.26L963.60 1212.26" stroke="#000" stroke-width="1.0" fill="none"/>
<rect x="798.8" y="1178.5" width="168.80000000000007" height="168.79999999999995" fill="none" stroke="#000" stroke-width="1.0"/>
<path d="M798.80 1284.17 L799.29 1284.16 L799.79 1284.14 L800.28 1284.11 L800.78 1284.07 L801.27 1284.03 L801.77 1283.99 L802.26 1283.94 L802.76 1283.88 L803.25 1283.81 L803.75 1283.75 L804.24 1283.67 L804.74 1283.59 L805.23 1283.51 L805.73 1283.42 L806.22 1283.32 L806.72 1283.22 L807.21 1283.12 L807.71 1283.01 L808.20 1282.90 L808.70 1282.78 L809.19 1282.66 L809.68 1282.54 L810.18 1282.41 L810.67 1282.28 L811.17 1282.15 L811.66 1282.01 L812.16 1281.87 L812.65 1281.73 L813.15 1281.58 L813.64 1281.44 L814.14 1281.29 L814.63 1281.14 L815.13 1280.98 L815.62 1280.83 L816.12 1280.67 L816.61 1280.51 L817.11 1280.36 L817.60 1280.20 L818.10 1280.03 L818.59 1279.87 L819.09 1279.71 L819.58 1279.55 L820.07 1279.38 L820.57 1279.22 L821.06 1279.04 L821.56 1278.86 L822.05 1278.67 L822.55 1278.48 L823.04 1278.27 L823.54 1278.06 L824.03 1277.83 L824.53 1277.60 L825.02 1277.35 L825.52 1277.09 L826.01 1276.82 L826.51 1276.53 L827.00 1276.23 L827.50 1275.91 L827.99 1275.58 L828.49 1275.23 L828.98 1274.87 L829.48 1274.48 L829.97 1274.08 L830.46 1273.64 L830.96 1273.17 L831.45 1272.65 L831.95 1272.07 L832.44 1271.44 L832.94 1270.73 L833.43 1269.94 L833.93 1269.07 L834.42 1268.10 L834.92 1267.04 L835.41 1265.86 L835.91 1264.44 L836.40 1262.51 L836.90 1260.02 L837.39 1256.94 L837.89 1253.24 L838.38 1248.89 L838.88 1241.95 L839.37 1230.66 L839.86 1218.20 L840.36 1207.83 L840.85 1199.32 L841.35 1191.54 L841.84 1184.58 L842.34 1191.29 L842.84 1198.50 L843.34 1206.19 L843.84 1214.56 L844.34 1224.03 L844.84 1233.83 L845.34 1243.10 L845.84 1251.17 L846.34 1259.09 L846.84 1266.73 L847.34 1273.53 L847.84 1278.93 L848.34 1282.48 L848.84 1285.33 L849.34 1287.89 L849.84 1290.15 L850.34 1292.08 L850.84 1293.68 L851.34 1294.93 L851.84 1295.81 L852.34 1296.41 L852.84 1296.95 L853.34 1297.44 L853.84 1297.90 L854.34 1298.30 L854.84 1298.64 L855.34 1298.92 L855.84 1299.14 L856.34 1299.28 L856.84 1299.35 L857.34 1299.35 L857.84 1299.29 L858.34 1299.17 L858.84 1299.00 L859.33 1298.76 L859.83 1298.46 L860.33 1298.10 L860.83 1297.67 L861.33 1299.07 L861.83 1300.44 L862.33 1301.75 L862.82 1303.03 L863.32 1304.28 L863.82 1305.65 L864.31 1307.03 L864.81 1308.26 L865.31 1309.16 L865.80 1309.58 L866.30 1309.85 L866.80 1310.10 L867.30 1310.32 L867.79 1310.51 L868.29 1310.69 L868.79 1310.84 L869.28 1310.97 L869.78 1311.09 L870.28 1311.19 L870.77 1311.28 L871.27 1311.36 L871.77 1311.43 L872.27 1311.49 L872.76 1311.54 L873.26 1311.60 L873.76 1311.65 L874.25 1311.70 L874.75 1311.75 L875.25 1311.79 L875.74 1311.84 L876.24 1311.88 L876.74 1311.92 L877.24 1311.96 L877.73 1311.99 L878.23 1312.02 L878.73 1312.05 L879.22 1312.08 L879.72 1312.11 L880.22 1312.13 L880.71 1312.15 L881.21 1312.16 L881.71 1312.17 L882.21 1312.18 L882.70 1312.19 L883.20 1312.19 L883.70 1312.19 L884.19 1312.18 L884.69 1312.17 L885.19 1312.16 L885.69 1312.15 L886.18 1312.13 L886.68 1312.11 L887.18 1312.08 L887.67 1312.05 L888.17 1312.02 L888.67 1311.99 L889.16 1311.96 L889.66 1311.92 L890.16 1311.88 L890.66 1311.84 L891.15 1311.79 L891.65 1311.75 L892.15 1311.70 L892.64 1311.65 L893.14 1311.60 L893.64 1311.54 L894.13 1311.49 L894.63 1311.43 L895.13 1311.36 L895.63 1311.28 L896.12 1311.19 L896.62 1311.09 L897.12 1310.97 L897.61 1310.84 L898.11 1310.69 L898.61 1310.51 L899.10 1310.32 L899.60 1310.10 L900.10 1309.85 L900.60 1309.58 L901.09 1309.16 L901.59 1308.26 L902.09 1307.03 L902.58 1305.65 L903.08 1304.28 L903.58 1303.03 L904.07 1301.75 L904.57 1300.44 L905.07 1299.07 L905.57 1297.67 L906.07 1298.10 L906.57 1298.46 L907.07 1298.76 L907.56 1299.00 L908.06 1299.17 L908.56 1299.29 L909.06 1299.35 L909.56 1299.35 L910.06 1299.28 L910.56 1299.14 L911.06 1298.92 L911.56 1298.64 L912.06 1298.30 L912.56 1297.90 L913.06 1297.44 L913.56 1296.95 L914.06 1296.41 L914.56 1295.81 L915.06 1294.93 L915.56 1293.68 L916.06 1292.08 L916.56 1290.15 L917.06 1287.89 L917.56 1285.33 L918.06 1282.48 L918.56 1278.93 L919.06 1273.53 L919.56 1266.73 L920.06 1259.09 L920.56 1251.17 L921.06 1243.10 L921.56 1233.83 L922.06 1224.03 L922.56 1214.56 L923.06 1206.19 L923.56 1198.50 L924.06 1191.29 L924.56 1184.58 L925.05 1191.54 L925.55 1199.32 L926.04 1207.83 L926.54 1218.20 L927.03 1230.66 L927.52 1241.95 L928.02 1248.89 L928.51 1253.24 L929.01 1256.94 L929.50 1260.02 L930.00 1262.51 L930.49 1264.44 L930.99 1265.86 L931.48 1267.04 L931.98 1268.10 L932.47 1269.07 L932.97 1269.94 L933.46 1270.73 L933.96 1271.44 L934.45 1272.07 L934.95 1272.65 L935.44 1273.17 L935.94 1273.64 L936.43 1274.08 L936.92 1274.48 L937.42 1274.87 L937.91 1275.23 L938.41 1275.58 L938.90 1275.91 L939.40 1276.23 L939.89 1276.53 L940.39 1276.82 L940.88 1277.09 L941.38 1277.35 L941.87 1277.60 L942.37 1277.83 L942.86 1278.06 L943.36 1278.27 L943.85 1278.48 L944.35 1278.67 L944.84 1278.86 L945.34 1279.04 L945.83 1279.22 L946.33 1279.38 L946.82 1279.55 L947.31 1279.71 L947.81 1279.87 L948.30 1280.03 L948.80 1280.20 L949.29 1280.36 L949.79 1280.51 L950.28 1280.67 L950.78 1280.83 L951.27 1280.98 L951.77 1281.14 L952.26 1281.29 L952.76 1281.44 L953.25 1281.58 L953.75 1281.73 L954.24 1281.87 L954.74 1282.01 L955.23 1282.15 L955.73 1282.28 L956.22 1282.41 L956.72 1282.54 L957.21 1282.66 L957.70 1282.78 L958.20 1282.90 L958.69 1283.01 L959.19 1283.12 L959.68 1283.22 L960.18 1283.32 L960.67 1283.42 L961.17 1283.51 L961.66 1283.59 L962.16 1283.67 L962.65 1283.75 L963.15 1283.81 L963.64 1283.88 L964.14 1283.94 L964.63 1283.99 L965.13 1284.03 L965.62 1284.07 L966.12 1284.11 L966.61 1284.14 L967.11 1284.16 L967.60 1284.17" fill="none" stroke="#ff0000" stroke-width="2.6" stroke-miterlimit="4" stroke-linejoin="round"/>
<path d="M798.80 1313.54 L967.60 1313.54" fill="none" stroke="#0000ff" stroke-width="2.6" stroke-dasharray="2.6 2.44" stroke-linejoin="bevel" stroke-miterlimit="4" />
<text x="798.8" y="1362.5" font-size="18" text-anchor="middle" fill="#000" >-2</text>
<text x="841.0" y="1362.5" font-size="18" text-anchor="middle" fill="#000" >-1</text>
<text x="885.3" y="1362.5" font-size="18" text-anchor="middle" fill="#000" >0</text>
<text x="927.5" y="1362.5" font-size="18" text-anchor="middle" fill="#000" >1</text>
<text x="969.7" y="1362.5" font-size="18" text-anchor="middle" fill="#000" >2</text>
<text x="793.8" y="1185.3" font-size="18" text-anchor="end" fill="#000" >4</text>
<text x="793.8" y="1320.3" font-size="18" text-anchor="end" fill="#000" >0</text>
<path d="M57.50 493.00L57.50 473.00M57.50 71.30L57.50 91.30M162.97 493.00L162.97 473.00M162.97 71.30L162.97 91.30M268.45 493.00L268.45 473.00M268.45 71.30L268.45 91.30M373.92 493.00L373.92 473.00M373.92 71.30L373.92 91.30M479.40 493.00L479.40 473.00M479.40 71.30L479.40 91.30M110.24 493.00L110.24 483.00M110.24 71.30L110.24 81.30M215.71 493.00L215.71 483.00M215.71 71.30L215.71 81.30M321.19 493.00L321.19 483.00M321.19 71.30L321.19 81.30M426.66 493.00L426.66 483.00M426.66 71.30L426.66 81.30M57.50 432.76L77.50 432.76M479.40 432.76L459.40 432.76M57.50 131.54L77.50 131.54M479.40 131.54L459.40 131.54M57.50 493.00L67.50 493.00M479.40 493.00L469.40 493.00M57.50 372.51L67.50 372.51M479.40 372.51L469.40 372.51M57.50 312.27L67.50 312.27M479.40 312.27L469.40 312.27M57.50 252.03L67.50 252.03M479.40 252.03L469.40 252.03M57.50 191.79L67.50 191.79M479.40 191.79L469.40 191.79M57.50 71.30L67.50 71.30M479.40 71.30L469.40 71.30" stroke="#000" stroke-width="1.75" fill="none"/>
<rect x="57.5" y="71.3" width="421.9" height="421.7" fill="none" stroke="#000" stroke-width="1.75"/>
<text x="57.5" y="530.2" font-size="46.5" text-anchor="middle" fill="#000" >-2</text>
<text x="163.0" y="530.2" font-size="46.5" text-anchor="middle" fill="#000" >-1</text>
<text x="273.8" y="530.2" font-size="46.5" text-anchor="middle" fill="#000" >0</text>
<text x="379.2" y="530.2" font-size="46.5" text-anchor="middle" fill="#000" >1</text>
<text x="484.7" y="530.2" font-size="46.5" text-anchor="middle" fill="#000" >2</text>
<text x="47.3" y="149.0" font-size="46.5" text-anchor="end" fill="#000" >10</text>
<text x="47.3" y="450.3" font-size="46.5" text-anchor="end" fill="#000" >0</text>
<path d="M564.80 493.90L564.80 473.90M564.80 72.00L564.80 92.00M670.30 493.90L670.30 473.90M670.30 72.00L670.30 92.00M775.80 493.90L775.80 473.90M775.80 72.00L775.80 92.00M881.30 493.90L881.30 473.90M881.30 72.00L881.30 92.00M986.80 493.90L986.80 473.90M986.80 72.00L986.80 92.00M617.55 493.90L617.55 483.90M617.55 72.00L617.55 82.00M723.05 493.90L723.05 483.90M723.05 72.00L723.05 82.00M828.55 493.90L828.55 483.90M828.55 72.00L828.55 82.00M934.05 493.90L934.05 483.90M934.05 72.00L934.05 82.00M564.80 493.90L584.80 493.90M986.80 493.90L966.80 493.90M564.80 72.00L584.80 72.00M986.80 72.00L966.80 72.00M564.80 409.52L574.80 409.52M986.80 409.52L976.80 409.52M564.80 325.14L574.80 325.14M986.80 325.14L976.80 325.14M564.80 240.76L574.80 240.76M986.80 240.76L976.80 240.76M564.80 156.38L574.80 156.38M986.80 156.38L976.80 156.38" stroke="#000" stroke-width="1.75" fill="none"/>
<rect x="564.8" y="72.0" width="422.0" height="421.9" fill="none" stroke="#000" stroke-width="1.75"/>
<text x="564.8" y="531.1" font-size="46.5" text-anchor="middle" fill="#000" >-2</text>
<text x="670.3" y="531.1" font-size="46.5" text-anchor="middle" fill="#000" >-1</text>
<text x="781.1" y="531.1" font-size="46.5" text-anchor="middle" fill="#000" >0</text>
<text x="886.6" y="531.1" font-size="46.5" text-anchor="middle" fill="#000" >1</text>
<text x="992.1" y="531.1" font-size="46.5" text-anchor="middle" fill="#000" >2</text>
<text x="552.8" y="89.5" font-size="46.5" text-anchor="end" fill="#000" >5</text>
<text x="554.6" y="511.4" font-size="46.5" text-anchor="end" fill="#000" >0</text>
<path d="M58.00 1042.80L58.00 1022.80M58.00 620.90L58.00 640.90M163.50 1042.80L163.50 1022.80M163.50 620.90L163.50 640.90M269.00 1042.80L269.00 1022.80M269.00 620.90L269.00 640.90M374.50 1042.80L374.50 1022.80M374.50 620.90L374.50 640.90M480.00 1042.80L480.00 1022.80M480.00 620.90L480.00 640.90M110.75 1042.80L110.75 1032.80M110.75 620.90L110.75 630.90M216.25 1042.80L216.25 1032.80M216.25 620.90L216.25 630.90M321.75 1042.80L321.75 1032.80M321.75 620.90L321.75 630.90M427.25 1042.80L427.25 1032.80M427.25 620.90L427.25 630.90M58.00 966.09L78.00 966.09M480.00 966.09L460.00 966.09M58.00 774.32L78.00 774.32M480.00 774.32L460.00 774.32M58.00 1042.80L68.00 1042.80M480.00 1042.80L470.00 1042.80M58.00 1004.45L68.00 1004.45M480.00 1004.45L470.00 1004.45M58.00 927.74L68.00 927.74M480.00 927.74L470.00 927.74M58.00 889.38L68.00 889.38M480.00 889.38L470.00 889.38M58.00 851.03L68.00 851.03M480.00 851.03L470.00 851.03M58.00 812.67L68.00 812.67M480.00 812.67L470.00 812.67M58.00 735.96L68.00 735.96M480.00 735.96L470.00 735.96M58.00 697.61L68.00 697.61M480.00 697.61L470.00 697.61M58.00 659.25L68.00 659.25M480.00 659.25L470.00 659.25M58.00 620.90L68.00 620.90M480.00 620.90L470.00 620.90" stroke="#000" stroke-width="1.75" fill="none"/>
<rect x="58.0" y="620.9" width="422.0" height="421.9" fill="none" stroke="#000" stroke-width="1.75"/>
<text x="58.0" y="1080.0" font-size="46.5" text-anchor="middle" fill="#000" >-2</text>
<text x="163.5" y="1080.0" font-size="46.5" text-anchor="middle" fill="#000" >-1</text>
<text x="274.3" y="1080.0" font-size="46.5" text-anchor="middle" fill="#000" >0</text>
<text x="379.8" y="1080.0" font-size="46.5" text-anchor="middle" fill="#000" >1</text>
<text x="485.3" y="1080.0" font-size="46.5" text-anchor="middle" fill="#000" >2</text>
<text x="46.0" y="791.8" font-size="46.5" text-anchor="end" fill="#000" >5</text>
<text x="47.8" y="983.6" font-size="46.5" text-anchor="end" fill="#000" >0</text>
<path d="M563.00 1040.40L563.00 1020.40M563.00 618.30L563.00 638.30M668.48 1040.40L668.48 1020.40M668.48 618.30L668.48 638.30M773.95 1040.40L773.95 1020.40M773.95 618.30L773.95 638.30M879.42 1040.40L879.42 1020.40M879.42 618.30L879.42 638.30M984.90 1040.40L984.90 1020.40M984.90 618.30L984.90 638.30M615.74 1040.40L615.74 1030.40M615.74 618.30L615.74 628.30M721.21 1040.40L721.21 1030.40M721.21 618.30L721.21 628.30M826.69 1040.40L826.69 1030.40M826.69 618.30L826.69 628.30M932.16 1040.40L932.16 1030.40M932.16 618.30L932.16 628.30M563.00 963.65L583.00 963.65M984.90 963.65L964.90 963.65M563.00 771.79L583.00 771.79M984.90 771.79L964.90 771.79M563.00 1040.40L573.00 1040.40M984.90 1040.40L974.90 1040.40M563.00 1002.03L573.00 1002.03M984.90 1002.03L974.90 1002.03M563.00 925.28L573.00 925.28M984.90 925.28L974.90 925.28M563.00 886.91L573.00 886.91M984.90 886.91L974.90 886.91M563.00 848.54L573.00 848.54M984.90 848.54L974.90 848.54M563.00 810.16L573.00 810.16M984.90 810.16L974.90 810.16M563.00 733.42L573.00 733.42M984.90 733.42L974.90 733.42M563.00 695.05L573.00 695.05M984.90 695.05L974.90 695.05M563.00 656.67L573.00 656.67M984.90 656.67L974.90 656.67M563.00 618.30L573.00 618.30M984.90 618.30L974.90 618.30" stroke="#000" stroke-width="1.75" fill="none"/>
<rect x="563.0" y="618.3" width="421.9" height="422.10000000000014" fill="none" stroke="#000" stroke-width="1.75"/>
<text x="563.0" y="1077.6" font-size="46.5" text-anchor="middle" fill="#000" >-2</text>
<text x="668.5" y="1077.6" font-size="46.5" text-anchor="middle" fill="#000" >-1</text>
<text x="779.2" y="1077.6" font-size="46.5" text-anchor="middle" fill="#000" >0</text>
<text x="884.7" y="1077.6" font-size="46.5" text-anchor="middle" fill="#000" >1</text>
<text x="990.2" y="1077.6" font-size="46.5" text-anchor="middle" fill="#000" >2</text>
<text x="551.0" y="789.3" font-size="46.5" text-anchor="end" fill="#000" >5</text>
<text x="552.8" y="981.2" font-size="46.5" text-anchor="end" fill="#000" >0</text>
<path d="M57.00 1576.40L57.00 1556.40M57.00 1154.45L57.00 1174.45M162.47 1576.40L162.47 1556.40M162.47 1154.45L162.47 1174.45M267.95 1576.40L267.95 1556.40M267.95 1154.45L267.95 1174.45M373.42 1576.40L373.42 1556.40M373.42 1154.45L373.42 1174.45M478.90 1576.40L478.90 1556.40M478.90 1154.45L478.90 1174.45M109.74 1576.40L109.74 1566.40M109.74 1154.45L109.74 1164.45M215.21 1576.40L215.21 1566.40M215.21 1154.45L215.21 1164.45M320.69 1576.40L320.69 1566.40M320.69 1154.45L320.69 1164.45M426.16 1576.40L426.16 1566.40M426.16 1154.45L426.16 1164.45M57.00 1499.68L77.00 1499.68M478.90 1499.68L458.90 1499.68M57.00 1307.89L77.00 1307.89M478.90 1307.89L458.90 1307.89M57.00 1576.40L67.00 1576.40M478.90 1576.40L468.90 1576.40M57.00 1538.04L67.00 1538.04M478.90 1538.04L468.90 1538.04M57.00 1461.32L67.00 1461.32M478.90 1461.32L468.90 1461.32M57.00 1422.96L67.00 1422.96M478.90 1422.96L468.90 1422.96M57.00 1384.60L67.00 1384.60M478.90 1384.60L468.90 1384.60M57.00 1346.25L67.00 1346.25M478.90 1346.25L468.90 1346.25M57.00 1269.53L67.00 1269.53M478.90 1269.53L468.90 1269.53M57.00 1231.17L67.00 1231.17M478.90 1231.17L468.90 1231.17M57.00 1192.81L67.00 1192.81M478.90 1192.81L468.90 1192.81M57.00 1154.45L67.00 1154.45M478.90 1154.45L468.90 1154.45" stroke="#000" stroke-width="1.75" fill="none"/>
<rect x="57.0" y="1154.45" width="421.9" height="421.95000000000005" fill="none" stroke="#000" stroke-width="1.75"/>
<text x="57.0" y="1613.6" font-size="46.5" text-anchor="middle" fill="#000" >-2</text>
<text x="162.5" y="1613.6" font-size="46.5" text-anchor="middle" fill="#000" >-1</text>
<text x="273.2" y="1613.6" font-size="46.5" text-anchor="middle" fill="#000" >0</text>
<text x="378.7" y="1613.6" font-size="46.5" text-anchor="middle" fill="#000" >1</text>
<text x="484.2" y="1613.6" font-size="46.5" text-anchor="middle" fill="#000" >2</text>
<text x="45.0" y="1325.4" font-size="46.5" text-anchor="end" fill="#000" >5</text>
<text x="46.8" y="1517.2" font-size="46.5" text-anchor="end" fill="#000" >0</text>
<path d="M562.55 1572.85L562.55 1552.85M562.55 1151.05L562.55 1171.05M668.11 1572.85L668.11 1552.85M668.11 1151.05L668.11 1171.05M773.67 1572.85L773.67 1552.85M773.67 1151.05L773.67 1171.05M879.24 1572.85L879.24 1552.85M879.24 1151.05L879.24 1171.05M984.80 1572.85L984.80 1552.85M984.80 1151.05L984.80 1171.05M615.33 1572.85L615.33 1562.85M615.33 1151.05L615.33 1161.05M720.89 1572.85L720.89 1562.85M720.89 1151.05L720.89 1161.05M826.46 1572.85L826.46 1562.85M826.46 1151.05L826.46 1161.05M932.02 1572.85L932.02 1562.85M932.02 1151.05L932.02 1161.05M562.55 1496.16L582.55 1496.16M984.80 1496.16L964.80 1496.16M562.55 1304.43L582.55 1304.43M984.80 1304.43L964.80 1304.43M562.55 1572.85L572.55 1572.85M984.80 1572.85L974.80 1572.85M562.55 1534.50L572.55 1534.50M984.80 1534.50L974.80 1534.50M562.55 1457.81L572.55 1457.81M984.80 1457.81L974.80 1457.81M562.55 1419.47L572.55 1419.47M984.80 1419.47L974.80 1419.47M562.55 1381.12L572.55 1381.12M984.80 1381.12L974.80 1381.12M562.55 1342.78L572.55 1342.78M984.80 1342.78L974.80 1342.78M562.55 1266.09L572.55 1266.09M984.80 1266.09L974.80 1266.09M562.55 1227.74L572.55 1227.74M984.80 1227.74L974.80 1227.74M562.55 1189.40L572.55 1189.40M984.80 1189.40L974.80 1189.40M562.55 1151.05L572.55 1151.05M984.80 1151.05L974.80 1151.05" stroke="#000" stroke-width="1.75" fill="none"/>
<rect x="562.55" y="1151.05" width="422.25" height="421.79999999999995" fill="none" stroke="#000" stroke-width="1.75"/>
<text x="562.5" y="1610.0" font-size="46.5" text-anchor="middle" fill="#000" >-2</text>
<text x="668.1" y="1610.0" font-size="46.5" text-anchor="middle" fill="#000" >-1</text>
<text x="779.0" y="1610.0" font-size="46.5" text-anchor="middle" fill="#000" >0</text>
<text x="884.5" y="1610.0" font-size="46.5" text-anchor="middle" fill="#000" >1</text>
<text x="990.1" y="1610.0" font-size="46.5" text-anchor="middle" fill="#000" >2</text>
<text x="550.5" y="1321.9" font-size="46.5" text-anchor="end" fill="#000" >5</text>
<text x="552.3" y="1513.7" font-size="46.5" text-anchor="end" fill="#000" >0</text>
<path d="M58.00 413.20 L58.50 413.17 L59.00 413.13 L59.50 413.10 L59.99 413.06 L60.49 413.03 L60.99 412.99 L61.49 412.96 L61.99 412.92 L62.49 412.89 L62.99 412.85 L63.49 412.82 L63.98 412.78 L64.48 412.74 L64.98 412.71 L65.48 412.67 L65.98 412.63 L66.48 412.59 L66.98 412.56 L67.47 412.52 L67.97 412.48 L68.47 412.44 L68.97 412.40 L69.47 412.37 L69.97 412.33 L70.47 412.29 L70.97 412.25 L71.46 412.21 L71.96 412.17 L72.46 412.13 L72.96 412.09 L73.46 412.05 L73.96 412.01 L74.46 411.97 L74.95 411.93 L75.45 411.88 L75.95 411.84 L76.45 411.80 L76.95 411.76 L77.45 411.72 L77.95 411.68 L78.45 411.63 L78.94 411.59 L79.44 411.55 L79.94 411.51 L80.44 411.46 L80.94 411.42 L81.44 411.38 L81.94 411.33 L82.43 411.29 L82.93 411.25 L83.43 411.21 L83.93 411.16 L84.43 411.12 L84.93 411.08 L85.43 411.04 L85.93 410.99 L86.42 410.95 L86.92 410.91 L87.42 410.86 L87.92 410.82 L88.42 410.78 L88.92 410.74 L89.42 410.69 L89.92 410.65 L90.41 410.60 L90.91 410.56 L91.41 410.51 L91.91 410.47 L92.41 410.42 L92.91 410.38 L93.41 410.33 L93.90 410.29 L94.40 410.24 L94.90 410.19 L95.40 410.14 L95.90 410.10 L96.40 410.05 L96.90 410.00 L97.40 409.95 L97.89 409.90 L98.39 409.85 L98.89 409.80 L99.39 409.74 L99.89 409.69 L100.39 409.64 L100.89 409.58 L101.38 409.53 L101.88 409.47 L102.38 409.42 L102.88 409.36 L103.38 409.30 L103.88 409.24 L104.38 409.18 L104.88 409.12 L105.37 409.06 L105.87 409.00 L106.37 408.94 L106.87 408.87 L107.37 408.81 L107.87 408.74 L108.37 408.68 L108.86 408.61 L109.36 408.54 L109.86 408.47 L110.36 408.39 L110.86 408.32 L111.36 408.24 L111.86 408.16 L112.36 408.08 L112.85 408.00 L113.35 407.92 L113.85 407.83 L114.35 407.74 L114.85 407.65 L115.35 407.56 L115.85 407.47 L116.34 407.38 L116.84 407.28 L117.34 407.19 L117.84 407.09 L118.34 406.99 L118.84 406.88 L119.34 406.78 L119.84 406.68 L120.33 406.57 L120.83 406.46 L121.33 406.35 L121.83 406.24 L122.33 406.13 L122.83 406.01 L123.33 405.90 L123.82 405.78 L124.32 405.66 L124.82 405.54 L125.32 405.42 L125.82 405.30 L126.32 405.17 L126.82 405.04 L127.32 404.90 L127.81 404.77 L128.31 404.63 L128.81 404.48 L129.31 404.34 L129.81 404.19 L130.31 404.03 L130.81 403.88 L131.30 403.72 L131.80 403.56 L132.30 403.39 L132.80 403.23 L133.30 403.06 L133.80 402.88 L134.30 402.71 L134.80 402.53 L135.29 402.35 L135.79 402.16 L136.29 401.97 L136.79 401.78 L137.29 401.59 L137.79 401.39 L138.29 401.19 L138.78 400.99 L139.28 400.78 L139.78 400.57 L140.28 400.36 L140.78 400.15 L141.28 399.93 L141.78 399.70 L142.28 399.47 L142.77 399.23 L143.27 398.99 L143.77 398.75 L144.27 398.49 L144.77 398.23 L145.27 397.96 L145.77 397.69 L146.27 397.41 L146.76 397.12 L147.26 396.82 L147.76 396.51 L148.26 396.19 L148.76 395.86 L149.26 395.52 L149.76 395.17 L150.25 394.82 L150.75 394.44 L151.25 394.06 L151.75 393.65 L152.25 393.22 L152.75 392.77 L153.25 392.28 L153.75 391.77 L154.24 391.23 L154.74 390.65 L155.24 390.03 L155.74 389.36 L156.24 388.65 L156.74 387.85 L157.24 386.95 L157.73 385.95 L158.23 384.84 L158.73 383.62 L159.23 382.29 L159.73 380.84 L160.23 379.23 L160.73 377.25 L161.23 374.92 L161.72 372.31 L162.22 369.51 L162.72 366.59 L163.22 363.64 L163.72 360.70 L164.22 357.58 L164.72 354.28 L165.21 350.85 L165.71 347.34 L166.21 343.82 L166.71 340.33 L167.21 336.92 L167.71 333.65 L168.21 330.43 L168.71 327.24 L169.20 324.09 L169.70 320.96 L170.20 317.87 L170.70 314.80 L171.20 317.70 L171.70 320.65 L172.20 323.66 L172.70 326.73 L173.19 329.85 L173.69 333.02 L174.19 336.26 L174.69 339.55 L175.19 342.90 L175.69 346.31 L176.19 349.77 L176.69 353.28 L177.19 356.84 L177.69 360.44 L178.18 364.07 L178.68 367.71 L179.18 371.44 L179.68 375.36 L180.18 379.62 L180.68 384.71 L181.18 390.04 L181.68 394.77 L182.18 398.14 L182.68 400.83 L183.17 403.18 L183.67 405.23 L184.17 407.03 L184.67 408.61 L185.17 410.06 L185.67 411.42 L186.17 412.68 L186.67 413.84 L187.17 414.88 L187.67 415.80 L188.16 416.58 L188.66 417.23 L189.16 417.83 L189.66 418.39 L190.16 418.92 L190.66 419.40 L191.16 419.85 L191.66 420.26 L192.16 420.64 L192.65 420.98 L193.15 421.29 L193.65 421.57 L194.15 421.83 L194.65 422.07 L195.15 422.30 L195.65 422.52 L196.15 422.73 L196.65 422.94 L197.15 423.13 L197.64 423.32 L198.14 423.50 L198.64 423.67 L199.14 423.84 L199.64 423.99 L200.14 424.14 L200.64 424.28 L201.14 424.42 L201.64 424.55 L202.14 424.67 L202.63 424.78 L203.13 424.89 L203.63 424.99 L204.13 425.09 L204.63 425.18 L205.13 425.27 L205.63 425.35 L206.13 425.44 L206.63 425.52 L207.13 425.60 L207.62 425.68 L208.12 425.76 L208.62 425.83 L209.12 425.90 L209.62 425.97 L210.12 426.04 L210.62 426.10 L211.12 426.16 L211.62 426.22 L212.11 426.28 L212.61 426.34 L213.11 426.39 L213.61 426.44 L214.11 426.49 L214.61 426.54 L215.11 426.59 L215.61 426.63 L216.11 426.67 L216.61 426.71 L217.10 426.75 L217.60 426.79 L218.10 426.82 L218.60 426.85 L219.10 426.89 L219.60 426.92 L220.10 426.95 L220.60 426.98 L221.10 427.01 L221.60 427.04 L222.09 427.07 L222.59 427.10 L223.09 427.13 L223.59 427.16 L224.09 427.18 L224.59 427.21 L225.09 427.24 L225.59 427.26 L226.09 427.29 L226.59 427.31 L227.08 427.33 L227.58 427.36 L228.08 427.38 L228.58 427.40 L229.08 427.42 L229.58 427.45 L230.08 427.47 L230.58 427.49 L231.08 427.51 L231.57 427.53 L232.07 427.55 L232.57 427.57 L233.07 427.58 L233.57 427.60 L234.07 427.62 L234.57 427.64 L235.07 427.65 L235.57 427.67 L236.07 427.69 L236.56 427.70 L237.06 427.72 L237.56 427.73 L238.06 427.75 L238.56 427.76 L239.06 427.77 L239.56 427.79 L240.06 427.80 L240.56 427.81 L241.06 427.83 L241.55 427.84 L242.05 427.85 L242.55 427.87 L243.05 427.88 L243.55 427.89 L244.05 427.91 L244.55 427.92 L245.05 427.93 L245.55 427.95 L246.05 427.96 L246.54 427.97 L247.04 427.99 L247.54 428.00 L248.04 428.01 L248.54 428.02 L249.04 428.04 L249.54 428.05 L250.04 428.06 L250.54 428.07 L251.03 428.08 L251.53 428.10 L252.03 428.11 L252.53 428.12 L253.03 428.13 L253.53 428.14 L254.03 428.15 L254.53 428.16 L255.03 428.17 L255.53 428.18 L256.02 428.19 L256.52 428.20 L257.02 428.21 L257.52 428.22 L258.02 428.22 L258.52 428.23 L259.02 428.24 L259.52 428.25 L260.02 428.25 L260.52 428.26 L261.01 428.26 L261.51 428.27 L262.01 428.28 L262.51 428.28 L263.01 428.28 L263.51 428.29 L264.01 428.29 L264.51 428.29 L265.01 428.30 L265.51 428.30 L266.00 428.30 L266.50 428.30 L267.00 428.30 L267.50 428.30 L268.00 428.30 L268.50 428.30 L269.00 428.29 L269.50 428.29 L270.00 428.29 L270.49 428.28 L270.99 428.28 L271.49 428.27 L271.99 428.27 L272.49 428.26 L272.99 428.25 L273.49 428.24 L273.99 428.24 L274.49 428.23 L274.99 428.22 L275.48 428.21 L275.98 428.20 L276.48 428.18 L276.98 428.17 L277.48 428.16 L277.98 428.15 L278.48 428.13 L278.98 428.12 L279.48 428.11 L279.98 428.09 L280.47 428.08 L280.97 428.06 L281.47 428.05 L281.97 428.03 L282.47 428.01 L282.97 428.00 L283.47 427.98 L283.97 427.96 L284.47 427.95 L284.97 427.93 L285.46 427.91 L285.96 427.89 L286.46 427.87 L286.96 427.85 L287.46 427.83 L287.96 427.81 L288.46 427.79 L288.96 427.77 L289.46 427.75 L289.95 427.73 L290.45 427.71 L290.95 427.69 L291.45 427.67 L291.95 427.65 L292.45 427.63 L292.95 427.61 L293.45 427.59 L293.95 427.56 L294.45 427.54 L294.94 427.52 L295.44 427.50 L295.94 427.48 L296.44 427.46 L296.94 427.43 L297.44 427.41 L297.94 427.39 L298.44 427.37 L298.94 427.35 L299.44 427.32 L299.93 427.30 L300.43 427.28 L300.93 427.26 L301.43 427.23 L301.93 427.21 L302.43 427.19 L302.93 427.16 L303.43 427.13 L303.93 427.11 L304.43 427.08 L304.92 427.05 L305.42 427.02 L305.92 426.99 L306.42 426.96 L306.92 426.93 L307.42 426.90 L307.92 426.87 L308.42 426.84 L308.92 426.80 L309.41 426.77 L309.91 426.74 L310.41 426.70 L310.91 426.66 L311.41 426.63 L311.91 426.59 L312.41 426.55 L312.91 426.51 L313.41 426.48 L313.91 426.44 L314.40 426.40 L314.90 426.36 L315.40 426.31 L315.90 426.27 L316.40 426.23 L316.90 426.19 L317.40 426.14 L317.90 426.10 L318.40 426.05 L318.90 426.01 L319.39 425.96 L319.89 425.92 L320.39 425.87 L320.89 425.83 L321.39 425.78 L321.89 425.73 L322.39 425.68 L322.89 425.63 L323.39 425.58 L323.89 425.52 L324.38 425.47 L324.88 425.41 L325.38 425.35 L325.88 425.28 L326.38 425.21 L326.88 425.14 L327.38 425.07 L327.88 424.99 L328.38 424.90 L328.87 424.82 L329.37 424.72 L329.87 424.63 L330.37 424.52 L330.87 424.40 L331.37 424.26 L331.87 424.10 L332.37 423.93 L332.87 423.75 L333.37 423.55 L333.86 423.34 L334.36 423.11 L334.86 422.87 L335.36 422.62 L335.86 422.36 L336.36 422.09 L336.86 421.81 L337.36 421.52 L337.86 421.22 L338.36 420.91 L338.85 420.59 L339.35 420.27 L339.85 419.94 L340.35 419.60 L340.85 419.26 L341.35 418.89 L341.85 418.49 L342.35 418.07 L342.85 417.61 L343.35 417.11 L343.84 416.58 L344.34 416.01 L344.84 415.39 L345.34 414.72 L345.84 413.98 L346.34 413.10 L346.84 412.10 L347.34 410.98 L347.84 409.76 L348.33 408.47 L348.83 407.11 L349.33 405.71 L349.83 404.25 L350.33 402.68 L350.83 400.96 L351.33 399.03 L351.83 396.83 L352.33 394.23 L352.83 390.97 L353.32 387.12 L353.82 382.76 L354.32 377.41 L354.82 371.25 L355.32 364.73 L355.82 357.45 L356.32 349.86 L356.82 343.30 L357.32 337.53 L357.82 332.15 L358.31 326.94 L358.81 321.75 L359.31 316.69 L359.81 311.75 L360.31 306.86 L360.81 301.99 L361.31 297.19 L361.81 292.44 L362.31 287.69 L362.81 282.89 L363.30 278.03 L363.80 273.12 L364.30 268.18 L364.80 263.21 L365.30 258.20 L365.80 263.04 L366.30 267.94 L366.80 272.90 L367.29 277.91 L367.79 282.93 L368.29 287.67 L368.79 292.40 L369.29 297.54 L369.79 303.51 L370.29 311.34 L370.79 321.40 L371.28 331.34 L371.78 339.40 L372.28 346.78 L372.78 352.92 L373.28 357.23 L373.78 360.65 L374.28 363.51 L374.78 365.97 L375.27 368.22 L375.77 370.34 L376.27 372.31 L376.77 374.10 L377.27 375.67 L377.77 376.98 L378.27 378.04 L378.76 378.97 L379.26 379.81 L379.76 380.56 L380.26 381.24 L380.76 381.86 L381.26 382.43 L381.76 382.96 L382.26 383.45 L382.75 383.94 L383.25 384.40 L383.75 384.85 L384.25 385.28 L384.75 385.70 L385.25 386.11 L385.75 386.49 L386.24 386.87 L386.74 387.23 L387.24 387.57 L387.74 387.91 L388.24 388.22 L388.74 388.53 L389.24 388.82 L389.74 389.10 L390.23 389.37 L390.73 389.63 L391.23 389.87 L391.73 390.11 L392.23 390.33 L392.73 390.56 L393.23 390.77 L393.73 390.98 L394.22 391.19 L394.72 391.38 L395.22 391.58 L395.72 391.77 L396.22 391.95 L396.72 392.13 L397.22 392.30 L397.71 392.47 L398.21 392.64 L398.71 392.80 L399.21 392.95 L399.71 393.11 L400.21 393.25 L400.71 393.40 L401.21 393.54 L401.70 393.67 L402.20 393.81 L402.70 393.94 L403.20 394.06 L403.70 394.19 L404.20 394.31 L404.70 394.42 L405.20 394.54 L405.69 394.65 L406.19 394.76 L406.69 394.87 L407.19 394.97 L407.69 395.07 L408.19 395.17 L408.69 395.27 L409.18 395.37 L409.68 395.46 L410.18 395.56 L410.68 395.65 L411.18 395.74 L411.68 395.83 L412.18 395.91 L412.68 396.00 L413.17 396.08 L413.67 396.16 L414.17 396.24 L414.67 396.32 L415.17 396.40 L415.67 396.48 L416.17 396.55 L416.67 396.63 L417.16 396.70 L417.66 396.77 L418.16 396.84 L418.66 396.91 L419.16 396.98 L419.66 397.05 L420.16 397.12 L420.65 397.19 L421.15 397.26 L421.65 397.32 L422.15 397.39 L422.65 397.45 L423.15 397.52 L423.65 397.58 L424.15 397.65 L424.64 397.71 L425.14 397.77 L425.64 397.83 L426.14 397.89 L426.64 397.95 L427.14 398.01 L427.64 398.07 L428.13 398.13 L428.63 398.19 L429.13 398.24 L429.63 398.30 L430.13 398.35 L430.63 398.41 L431.13 398.46 L431.63 398.52 L432.12 398.57 L432.62 398.62 L433.12 398.67 L433.62 398.72 L434.12 398.77 L434.62 398.82 L435.12 398.87 L435.62 398.92 L436.11 398.96 L436.61 399.01 L437.11 399.05 L437.61 399.10 L438.11 399.14 L438.61 399.18 L439.11 399.23 L439.60 399.27 L440.10 399.31 L440.60 399.35 L441.10 399.39 L441.60 399.43 L442.10 399.47 L442.60 399.51 L443.10 399.55 L443.59 399.59 L444.09 399.63 L444.59 399.67 L445.09 399.71 L445.59 399.74 L446.09 399.78 L446.59 399.82 L447.09 399.86 L447.58 399.90 L448.08 399.94 L448.58 399.97 L449.08 400.01 L449.58 400.05 L450.08 400.09 L450.58 400.12 L451.07 400.16 L451.57 400.20 L452.07 400.23 L452.57 400.27 L453.07 400.31 L453.57 400.34 L454.07 400.38 L454.57 400.41 L455.06 400.45 L455.56 400.48 L456.06 400.52 L456.56 400.55 L457.06 400.58 L457.56 400.62 L458.06 400.65 L458.56 400.68 L459.05 400.72 L459.55 400.75 L460.05 400.78 L460.55 400.81 L461.05 400.84 L461.55 400.87 L462.05 400.90 L462.54 400.93 L463.04 400.96 L463.54 400.99 L464.04 401.02 L464.54 401.05 L465.04 401.08 L465.54 401.11 L466.04 401.13 L466.53 401.16 L467.03 401.19 L467.53 401.21 L468.03 401.24 L468.53 401.26 L469.03 401.29 L469.53 401.31 L470.02 401.34 L470.52 401.36 L471.02 401.38 L471.52 401.41 L472.02 401.43 L472.52 401.45 L473.02 401.47 L473.52 401.49 L474.01 401.51 L474.51 401.53 L475.01 401.55 L475.51 401.57 L476.01 401.59 L476.51 401.61 L477.01 401.62 L477.51 401.64 L478.00 401.66 L478.50 401.67 L479.00 401.69 L479.50 401.70" fill="none" stroke="#ff0000" stroke-width="5.8" stroke-linejoin="miter" stroke-miterlimit="4" />
<path d="M58.00 432.50 L58.50 432.50 L59.00 432.50 L59.50 432.50 L59.99 432.50 L60.49 432.50 L60.99 432.50 L61.49 432.50 L61.99 432.50 L62.49 432.50 L62.99 432.50 L63.49 432.50 L63.98 432.50 L64.48 432.50 L64.98 432.50 L65.48 432.50 L65.98 432.50 L66.48 432.50 L66.98 432.50 L67.47 432.50 L67.97 432.50 L68.47 432.50 L68.97 432.50 L69.47 432.50 L69.97 432.50 L70.47 432.50 L70.96 432.50 L71.46 432.50 L71.96 432.50 L72.46 432.50 L72.96 432.50 L73.46 432.50 L73.96 432.50 L74.46 432.50 L74.95 432.50 L75.45 432.50 L75.95 432.50 L76.45 432.50 L76.95 432.50 L77.45 432.50 L77.95 432.50 L78.44 432.50 L78.94 432.50 L79.44 432.50 L79.94 432.50 L80.44 432.50 L80.94 432.50 L81.44 432.50 L81.94 432.50 L82.43 432.50 L82.93 432.50 L83.43 432.50 L83.93 432.50 L84.43 432.50 L84.93 432.50 L85.43 432.50 L85.92 432.50 L86.42 432.50 L86.92 432.50 L87.42 432.50 L87.92 432.50 L88.42 432.50 L88.92 432.50 L89.41 432.50 L89.91 432.50 L90.41 432.50 L90.91 432.50 L91.41 432.50 L91.91 432.50 L92.41 432.50 L92.91 432.50 L93.40 432.50 L93.90 432.50 L94.40 432.50 L94.90 432.50 L95.40 432.50 L95.90 432.50 L96.40 432.50 L96.89 432.50 L97.39 432.50 L97.89 432.50 L98.39 432.50 L98.89 432.50 L99.39 432.50 L99.89 432.50 L100.39 432.50 L100.88 432.50 L101.38 432.50 L101.88 432.50 L102.38 432.50 L102.88 432.50 L103.38 432.50 L103.88 432.50 L104.37 432.50 L104.87 432.50 L105.37 432.50 L105.87 432.50 L106.37 432.50 L106.87 432.50 L107.37 432.50 L107.86 432.50 L108.36 432.50 L108.86 432.50 L109.36 432.50 L109.86 432.50 L110.36 432.50 L110.86 432.53 L111.36 432.56 L111.85 432.61 L112.35 432.67 L112.85 432.74 L113.35 432.81 L113.85 432.89 L114.35 432.97 L114.85 433.06 L115.34 433.14 L115.84 433.22 L116.34 433.29 L116.84 433.35 L117.34 433.41 L117.84 433.45 L118.34 433.48 L118.84 433.50 L119.33 433.50 L119.83 433.48 L120.33 433.46 L120.83 433.43 L121.33 433.39 L121.83 433.35 L122.33 433.30 L122.82 433.24 L123.32 433.18 L123.82 433.13 L124.32 433.07 L124.82 433.01 L125.32 432.95 L125.82 432.90 L126.31 432.86 L126.81 432.81 L127.31 432.78 L127.81 432.74 L128.31 432.71 L128.81 432.68 L129.31 432.65 L129.81 432.62 L130.30 432.60 L130.80 432.57 L131.30 432.55 L131.80 432.52 L132.30 432.50 L132.80 432.48 L133.30 432.46 L133.79 432.44 L134.29 432.42 L134.79 432.40 L135.29 432.38 L135.79 432.36 L136.29 432.34 L136.79 432.32 L137.29 432.30 L137.78 432.28 L138.28 432.26 L138.78 432.24 L139.28 432.22 L139.78 432.20 L140.28 432.18 L140.78 432.16 L141.27 432.13 L141.77 432.11 L142.27 432.08 L142.77 432.06 L143.27 432.03 L143.77 432.00 L144.27 431.97 L144.76 431.94 L145.26 431.91 L145.76 431.87 L146.26 431.84 L146.76 431.80 L147.26 431.76 L147.76 431.72 L148.26 431.67 L148.75 431.63 L149.25 431.58 L149.75 431.53 L150.25 431.47 L150.75 431.38 L151.25 431.25 L151.75 431.10 L152.24 430.92 L152.74 430.72 L153.24 430.50 L153.74 430.27 L154.24 430.04 L154.74 429.80 L155.24 429.56 L155.74 429.33 L156.23 429.10 L156.73 428.90 L157.23 428.71 L157.73 428.54 L158.23 428.40 L158.73 428.30 L159.23 428.23 L159.72 428.20 L160.22 428.30 L160.72 428.66 L161.22 429.25 L161.72 430.05 L162.22 431.03 L162.72 432.17 L163.21 433.43 L163.71 434.80 L164.21 436.24 L164.71 437.73 L165.21 439.34 L165.71 441.39 L166.21 443.87 L166.71 446.71 L167.20 449.85 L167.70 453.24 L168.20 456.81 L168.70 460.50 L169.18 458.81 L169.67 456.69 L170.15 454.20 L170.64 451.37 L171.12 448.26 L171.61 444.92 L172.09 441.38 L172.58 437.70 L173.06 433.54 L173.55 428.78 L174.03 423.53 L174.52 417.90 L175.00 412.00 L175.50 411.79 L176.00 411.65 L176.50 411.56 L177.00 411.52 L177.50 411.50 L178.00 411.50 L178.50 411.60 L179.00 411.89 L179.50 412.33 L180.00 412.88 L180.50 414.10 L181.00 416.77 L181.50 420.09 L182.00 423.26 L182.50 425.45 L183.00 426.52 L183.50 427.48 L184.00 428.36 L184.50 429.16 L185.00 429.90 L185.50 430.56 L186.00 431.15 L186.50 431.67 L187.00 432.12 L187.50 432.51 L188.00 432.84 L188.50 433.10 L189.00 433.30 L189.50 433.47 L190.00 433.63 L190.50 433.79 L191.00 433.94 L191.50 434.08 L192.00 434.22 L192.50 434.35 L193.00 434.48 L193.50 434.60 L194.00 434.71 L194.50 434.82 L195.00 434.92 L195.50 435.02 L196.00 435.11 L196.50 435.20 L197.00 435.28 L197.50 435.35 L198.00 435.42 L198.50 435.48 L199.00 435.54 L199.50 435.59 L200.00 435.64 L200.50 435.68 L201.00 435.72 L201.50 435.74 L202.00 435.77 L202.50 435.79 L203.00 435.80 L203.50 435.81 L204.00 435.82 L204.50 435.83 L205.00 435.84 L205.50 435.85 L206.00 435.86 L206.50 435.87 L207.00 435.88 L207.50 435.89 L208.00 435.90 L208.50 435.90 L209.00 435.91 L209.50 435.92 L210.00 435.93 L210.50 435.94 L211.00 435.95 L211.50 435.96 L212.00 435.96 L212.50 435.97 L213.00 435.98 L213.50 435.99 L214.00 436.00 L214.50 436.00 L215.00 436.01 L215.50 436.02 L216.00 436.02 L216.50 436.03 L217.00 436.04 L217.50 436.05 L218.00 436.05 L218.50 436.06 L219.00 436.07 L219.50 436.07 L220.00 436.08 L220.50 436.08 L221.00 436.09 L221.50 436.10 L222.00 436.10 L222.50 436.11 L223.00 436.11 L223.50 436.12 L224.00 436.13 L224.50 436.13 L225.00 436.14 L225.50 436.14 L226.00 436.15 L226.50 436.15 L227.00 436.16 L227.50 436.16 L228.00 436.17 L228.50 436.17 L229.00 436.17 L229.50 436.18 L230.00 436.18 L230.50 436.19 L231.00 436.19 L231.50 436.20 L232.00 436.20 L232.50 436.20 L233.00 436.21 L233.50 436.21 L234.00 436.21 L234.50 436.22 L235.00 436.22 L235.50 436.23 L236.00 436.23 L236.50 436.23 L237.00 436.23 L237.50 436.24 L238.00 436.24 L238.50 436.24 L239.00 436.25 L239.50 436.25 L240.00 436.25 L240.50 436.25 L241.00 436.26 L241.50 436.26 L242.00 436.26 L242.50 436.26 L243.00 436.27 L243.50 436.27 L244.00 436.27 L244.50 436.27 L245.00 436.27 L245.50 436.28 L246.00 436.28 L246.50 436.28 L247.00 436.28 L247.50 436.28 L248.00 436.28 L248.50 436.29 L249.00 436.29 L249.50 436.29 L250.00 436.29 L250.50 436.29 L251.00 436.29 L251.50 436.29 L252.00 436.29 L252.50 436.29 L253.00 436.29 L253.50 436.30 L254.00 436.30 L254.50 436.30 L255.00 436.30 L255.50 436.30 L256.00 436.30 L256.50 436.30 L257.00 436.30 L257.50 436.30 L258.00 436.30 L258.50 436.30 L259.00 436.30 L259.50 436.30 L260.00 436.30 L260.50 436.30 L261.00 436.30 L261.50 436.30 L262.00 436.30 L262.50 436.30 L263.00 436.30 L263.50 436.30 L264.00 436.30 L264.50 436.30 L265.00 436.30 L265.50 436.30 L266.00 436.30 L266.50 436.30 L267.00 436.30 L267.50 436.30 L268.00 436.30 L268.50 436.30 L269.00 436.30 L269.50 436.30 L270.00 436.30 L270.50 436.30 L271.00 436.30 L271.50 436.30 L272.00 436.30 L272.50 436.30 L273.00 436.30 L273.50 436.30 L274.00 436.30 L274.50 436.30 L275.00 436.30 L275.50 436.30 L276.00 436.30 L276.50 436.30 L277.00 436.30 L277.50 436.30 L278.00 436.30 L278.50 436.30 L279.00 436.30 L279.50 436.30 L280.00 436.30 L280.50 436.30 L281.00 436.30 L281.50 436.30 L282.00 436.30 L282.50 436.30 L283.00 436.30 L283.50 436.30 L284.00 436.30 L284.50 436.30 L285.00 436.30 L285.50 436.30 L286.00 436.30 L286.50 436.30 L287.00 436.30 L287.50 436.30 L288.00 436.30 L288.50 436.30 L289.00 436.30 L289.50 436.30 L290.00 436.30 L290.50 436.30 L291.00 436.30 L291.50 436.30 L292.00 436.30 L292.50 436.30 L293.00 436.30 L293.50 436.30 L294.00 436.30 L294.50 436.30 L295.00 436.30 L295.50 436.30 L296.00 436.30 L296.50 436.30 L297.00 436.30 L297.50 436.30 L298.00 436.30 L298.50 436.30 L299.00 436.30 L299.50 436.30 L300.00 436.30 L300.50 436.30 L301.00 436.30 L301.50 436.30 L302.00 436.30 L302.50 436.30 L303.00 436.30 L303.50 436.30 L304.00 436.30 L304.50 436.30 L305.00 436.30 L305.50 436.30 L306.00 436.30 L306.50 436.30 L307.00 436.30 L307.50 436.30 L308.00 436.30 L308.50 436.30 L309.00 436.30 L309.50 436.30 L310.00 436.30 L310.50 436.30 L311.00 436.30 L311.50 436.30 L312.00 436.30 L312.50 436.30 L313.00 436.30 L313.50 436.30 L314.00 436.30 L314.50 436.30 L315.00 436.30 L315.50 436.30 L316.00 436.30 L316.50 436.30 L317.00 436.30 L317.50 436.30 L318.00 436.30 L318.50 436.30 L319.00 436.30 L319.50 436.30 L320.00 436.30 L320.50 436.30 L321.00 436.30 L321.50 436.30 L322.00 436.30 L322.50 436.30 L323.00 436.30 L323.50 436.30 L324.00 436.30 L324.50 436.30 L325.00 436.30 L325.50 436.30 L326.00 436.30 L326.50 436.30 L327.00 436.30 L327.50 436.30 L328.00 436.30 L328.50 436.30 L329.00 436.30 L329.50 436.30 L330.00 436.30 L330.50 436.30 L331.00 436.30 L331.50 436.30 L332.00 436.30 L332.50 436.30 L333.00 436.30 L333.50 436.30 L334.00 436.30 L334.50 436.30 L335.00 436.30 L335.50 436.30 L336.00 436.30 L336.50 436.30 L337.00 436.31 L337.50 436.31 L338.00 436.32 L338.50 436.33 L339.00 436.34 L339.50 436.36 L340.00 436.37 L340.50 436.39 L341.00 436.41 L341.50 436.43 L342.00 436.45 L342.50 436.48 L343.00 436.51 L343.50 436.54 L344.00 436.57 L344.50 436.60 L345.00 436.63 L345.50 436.67 L346.00 436.71 L346.50 436.75 L347.00 436.80 L347.50 436.84 L348.00 436.89 L348.50 436.98 L349.00 437.17 L349.50 437.47 L350.00 437.85 L350.50 438.31 L351.00 438.83 L351.50 439.41 L352.00 440.03 L352.50 440.69 L353.00 441.37 L353.50 442.05 L354.00 442.74 L354.50 443.41 L355.00 444.07 L355.50 444.68 L356.00 445.27 L356.50 445.88 L357.00 446.51 L357.50 447.14 L358.00 447.79 L358.50 448.46 L359.00 449.13 L359.50 449.81 L360.00 450.50 L360.48 448.70 L360.96 445.45 L361.44 441.18 L361.92 436.22 L362.40 428.27 L362.88 418.15 L363.36 408.16 L363.84 400.60 L364.32 394.71 L364.80 389.50 L365.28 385.89 L365.76 384.32 L366.24 383.27 L366.72 382.56 L367.20 382.30 L367.70 385.35 L368.20 388.98 L368.70 393.11 L369.20 397.94 L369.70 404.24 L370.19 410.93 L370.69 416.82 L371.19 420.89 L371.69 424.38 L372.19 427.50 L372.69 429.97 L373.19 431.50 L373.69 432.04 L374.19 432.45 L374.69 432.82 L375.19 433.16 L375.68 433.48 L376.18 433.78 L376.68 434.05 L377.18 434.29 L377.68 434.51 L378.18 434.71 L378.68 434.88 L379.18 435.04 L379.68 435.17 L380.18 435.29 L380.68 435.38 L381.18 435.46 L381.67 435.52 L382.17 435.56 L382.67 435.59 L383.17 435.60 L383.67 435.60 L384.17 435.60 L384.67 435.60 L385.17 435.60 L385.67 435.60 L386.17 435.60 L386.67 435.60 L387.16 435.60 L387.66 435.60 L388.16 435.60 L388.66 435.60 L389.16 435.60 L389.66 435.60 L390.16 435.60 L390.66 435.60 L391.16 435.60 L391.66 435.60 L392.16 435.60 L392.65 435.60 L393.15 435.60 L393.65 435.60 L394.15 435.60 L394.65 435.60 L395.15 435.60 L395.65 435.60 L396.15 435.60 L396.65 435.60 L397.15 435.60 L397.65 435.60 L398.14 435.60 L398.64 435.60 L399.14 435.60 L399.64 435.59 L400.14 435.59 L400.64 435.59 L401.14 435.59 L401.64 435.59 L402.14 435.59 L402.64 435.59 L403.14 435.59 L403.64 435.59 L404.13 435.59 L404.63 435.59 L405.13 435.59 L405.63 435.59 L406.13 435.59 L406.63 435.58 L407.13 435.58 L407.63 435.58 L408.13 435.58 L408.63 435.58 L409.13 435.58 L409.62 435.58 L410.12 435.58 L410.62 435.57 L411.12 435.57 L411.62 435.57 L412.12 435.57 L412.62 435.57 L413.12 435.57 L413.62 435.57 L414.12 435.56 L414.62 435.56 L415.11 435.56 L415.61 435.56 L416.11 435.56 L416.61 435.55 L417.11 435.55 L417.61 435.55 L418.11 435.55 L418.61 435.55 L419.11 435.54 L419.61 435.54 L420.11 435.54 L420.60 435.54 L421.10 435.53 L421.60 435.53 L422.10 435.53 L422.60 435.52 L423.10 435.52 L423.60 435.52 L424.10 435.52 L424.60 435.51 L425.10 435.51 L425.60 435.51 L426.10 435.50 L426.59 435.50 L427.09 435.50 L427.59 435.49 L428.09 435.49 L428.59 435.49 L429.09 435.48 L429.59 435.48 L430.09 435.47 L430.59 435.47 L431.09 435.47 L431.59 435.46 L432.08 435.46 L432.58 435.45 L433.08 435.45 L433.58 435.44 L434.08 435.44 L434.58 435.43 L435.08 435.43 L435.58 435.42 L436.08 435.42 L436.58 435.41 L437.08 435.41 L437.57 435.40 L438.07 435.40 L438.57 435.39 L439.07 435.39 L439.57 435.38 L440.07 435.37 L440.57 435.37 L441.07 435.36 L441.57 435.36 L442.07 435.35 L442.57 435.34 L443.06 435.34 L443.56 435.33 L444.06 435.32 L444.56 435.32 L445.06 435.31 L445.56 435.30 L446.06 435.29 L446.56 435.29 L447.06 435.28 L447.56 435.27 L448.06 435.26 L448.56 435.26 L449.05 435.25 L449.55 435.24 L450.05 435.23 L450.55 435.22 L451.05 435.22 L451.55 435.21 L452.05 435.20 L452.55 435.19 L453.05 435.18 L453.55 435.17 L454.05 435.16 L454.54 435.15 L455.04 435.14 L455.54 435.13 L456.04 435.12 L456.54 435.11 L457.04 435.10 L457.54 435.09 L458.04 435.08 L458.54 435.07 L459.04 435.06 L459.54 435.05 L460.03 435.04 L460.53 435.03 L461.03 435.02 L461.53 435.01 L462.03 435.00 L462.53 434.99 L463.03 434.97 L463.53 434.96 L464.03 434.95 L464.53 434.94 L465.03 434.93 L465.52 434.91 L466.02 434.90 L466.52 434.89 L467.02 434.87 L467.52 434.86 L468.02 434.85 L468.52 434.84 L469.02 434.82 L469.52 434.81 L470.02 434.79 L470.52 434.78 L471.02 434.77 L471.51 434.75 L472.01 434.74 L472.51 434.72 L473.01 434.71 L473.51 434.69 L474.01 434.68 L474.51 434.66 L475.01 434.65 L475.51 434.63 L476.01 434.62 L476.51 434.60 L477.00 434.58 L477.50 434.57 L478.00 434.55 L478.50 434.53 L479.00 434.52 L479.50 434.50" fill="none" stroke="#0000ff" stroke-width="5.5" stroke-dasharray="6.5 5.8" stroke-linejoin="bevel" stroke-miterlimit="4" />
<path d="M565.00 465.00 L565.50 464.94 L566.00 464.88 L566.50 464.82 L567.00 464.76 L567.50 464.70 L568.00 464.64 L568.50 464.58 L569.00 464.52 L569.50 464.46 L570.00 464.40 L570.50 464.34 L570.99 464.28 L571.49 464.22 L571.99 464.15 L572.49 464.09 L572.99 464.03 L573.49 463.97 L573.99 463.90 L574.49 463.84 L574.99 463.78 L575.49 463.71 L575.99 463.65 L576.49 463.59 L576.99 463.52 L577.49 463.46 L577.99 463.39 L578.49 463.33 L578.99 463.26 L579.49 463.20 L579.99 463.13 L580.49 463.07 L580.99 463.00 L581.49 462.94 L581.99 462.87 L582.49 462.80 L582.98 462.74 L583.48 462.67 L583.98 462.60 L584.48 462.53 L584.98 462.47 L585.48 462.40 L585.98 462.33 L586.48 462.26 L586.98 462.20 L587.48 462.13 L587.98 462.06 L588.48 461.99 L588.98 461.92 L589.48 461.85 L589.98 461.78 L590.48 461.71 L590.98 461.64 L591.48 461.57 L591.98 461.50 L592.48 461.44 L592.98 461.37 L593.48 461.30 L593.98 461.23 L594.48 461.16 L594.97 461.09 L595.47 461.01 L595.97 460.94 L596.47 460.87 L596.97 460.80 L597.47 460.73 L597.97 460.66 L598.47 460.59 L598.97 460.51 L599.47 460.44 L599.97 460.37 L600.47 460.29 L600.97 460.22 L601.47 460.15 L601.97 460.07 L602.47 460.00 L602.97 459.92 L603.47 459.85 L603.97 459.77 L604.47 459.69 L604.97 459.61 L605.47 459.54 L605.97 459.46 L606.46 459.38 L606.96 459.30 L607.46 459.22 L607.96 459.14 L608.46 459.06 L608.96 458.98 L609.46 458.89 L609.96 458.81 L610.46 458.73 L610.96 458.64 L611.46 458.56 L611.96 458.47 L612.46 458.39 L612.96 458.30 L613.46 458.22 L613.96 458.13 L614.46 458.05 L614.96 457.96 L615.46 457.87 L615.96 457.79 L616.46 457.70 L616.96 457.61 L617.46 457.53 L617.96 457.44 L618.45 457.35 L618.95 457.26 L619.45 457.17 L619.95 457.07 L620.45 456.98 L620.95 456.88 L621.45 456.79 L621.95 456.69 L622.45 456.59 L622.95 456.49 L623.45 456.39 L623.95 456.28 L624.45 456.18 L624.95 456.07 L625.45 455.96 L625.95 455.85 L626.45 455.73 L626.95 455.61 L627.45 455.49 L627.95 455.37 L628.45 455.25 L628.95 455.12 L629.45 454.99 L629.95 454.85 L630.44 454.72 L630.94 454.58 L631.44 454.43 L631.94 454.29 L632.44 454.14 L632.94 453.98 L633.44 453.82 L633.94 453.66 L634.44 453.50 L634.94 453.33 L635.44 453.15 L635.94 452.98 L636.44 452.80 L636.94 452.61 L637.44 452.42 L637.94 452.23 L638.44 452.03 L638.94 451.83 L639.44 451.62 L639.94 451.41 L640.44 451.19 L640.94 450.97 L641.44 450.74 L641.94 450.51 L642.43 450.28 L642.93 450.04 L643.43 449.79 L643.93 449.54 L644.43 449.29 L644.93 449.02 L645.43 448.74 L645.93 448.43 L646.43 448.11 L646.93 447.77 L647.43 447.42 L647.93 447.05 L648.43 446.67 L648.93 446.28 L649.43 445.89 L649.93 445.48 L650.43 445.07 L650.93 444.66 L651.43 444.25 L651.93 443.83 L652.43 443.41 L652.93 442.99 L653.43 442.56 L653.92 442.12 L654.42 441.66 L654.92 441.20 L655.42 440.72 L655.92 440.22 L656.42 439.71 L656.92 439.17 L657.42 438.61 L657.92 438.03 L658.42 437.41 L658.92 436.77 L659.42 436.10 L659.92 435.37 L660.42 434.59 L660.92 433.76 L661.42 432.88 L661.92 431.95 L662.42 430.96 L662.92 429.93 L663.42 428.85 L663.92 427.72 L664.42 426.55 L664.92 425.33 L665.42 424.06 L665.91 422.71 L666.41 421.23 L666.91 419.63 L667.41 417.93 L667.91 416.13 L668.41 414.23 L668.91 412.24 L669.41 410.17 L669.91 407.98 L670.41 405.58 L670.91 403.01 L671.41 400.30 L671.91 397.46 L672.41 394.53 L672.91 391.52 L673.41 388.33 L673.91 384.99 L674.41 381.51 L674.91 377.95 L675.41 374.32 L675.91 370.59 L676.41 366.60 L676.91 362.45 L677.41 358.28 L677.90 354.22 L678.40 350.40 L678.90 346.90 L679.40 343.41 L679.90 340.01 L680.40 336.86 L680.90 334.13 L681.40 331.99 L681.90 330.29 L682.40 328.79 L682.90 327.60 L683.40 326.80 L683.90 328.29 L684.40 331.63 L684.90 336.36 L685.40 342.05 L685.90 348.27 L686.40 357.05 L686.90 369.14 L687.40 382.06 L687.90 393.31 L688.39 402.78 L688.89 411.90 L689.39 420.40 L689.89 427.97 L690.39 434.32 L690.89 439.83 L691.39 445.07 L691.89 449.94 L692.39 454.37 L692.89 458.29 L693.39 461.59 L693.89 464.22 L694.39 466.19 L694.89 467.98 L695.39 469.65 L695.89 471.20 L696.39 472.62 L696.89 473.92 L697.39 475.10 L697.88 476.16 L698.38 477.10 L698.88 477.92 L699.38 478.62 L699.88 479.20 L700.38 479.66 L700.88 480.08 L701.38 480.48 L701.88 480.86 L702.38 481.22 L702.88 481.56 L703.38 481.89 L703.88 482.19 L704.38 482.48 L704.88 482.76 L705.38 483.01 L705.88 483.26 L706.38 483.49 L706.88 483.71 L707.37 483.92 L707.87 484.12 L708.37 484.31 L708.87 484.48 L709.37 484.66 L709.87 484.82 L710.37 484.98 L710.87 485.13 L711.37 485.28 L711.87 485.42 L712.37 485.56 L712.87 485.70 L713.37 485.84 L713.87 485.98 L714.37 486.11 L714.87 486.25 L715.37 486.38 L715.87 486.51 L716.37 486.64 L716.86 486.76 L717.36 486.88 L717.86 487.00 L718.36 487.12 L718.86 487.24 L719.36 487.35 L719.86 487.46 L720.36 487.56 L720.86 487.66 L721.36 487.76 L721.86 487.86 L722.36 487.95 L722.86 488.03 L723.36 488.12 L723.86 488.19 L724.36 488.27 L724.86 488.34 L725.36 488.40 L725.86 488.46 L726.35 488.51 L726.85 488.56 L727.35 488.60 L727.85 488.64 L728.35 488.67 L728.85 488.70 L729.35 488.72 L729.85 488.74 L730.35 488.76 L730.85 488.78 L731.35 488.81 L731.85 488.83 L732.35 488.85 L732.85 488.87 L733.35 488.89 L733.85 488.91 L734.35 488.93 L734.85 488.95 L735.35 488.97 L735.84 488.98 L736.34 489.00 L736.84 489.02 L737.34 489.04 L737.84 489.06 L738.34 489.07 L738.84 489.09 L739.34 489.11 L739.84 489.13 L740.34 489.14 L740.84 489.16 L741.34 489.17 L741.84 489.19 L742.34 489.21 L742.84 489.22 L743.34 489.24 L743.84 489.25 L744.34 489.27 L744.84 489.28 L745.33 489.29 L745.83 489.31 L746.33 489.32 L746.83 489.33 L747.33 489.35 L747.83 489.36 L748.33 489.37 L748.83 489.39 L749.33 489.40 L749.83 489.41 L750.33 489.42 L750.83 489.43 L751.33 489.44 L751.83 489.45 L752.33 489.46 L752.83 489.47 L753.33 489.49 L753.83 489.49 L754.33 489.50 L754.82 489.51 L755.32 489.52 L755.82 489.53 L756.32 489.54 L756.82 489.55 L757.32 489.56 L757.82 489.57 L758.32 489.57 L758.82 489.58 L759.32 489.59 L759.82 489.60 L760.32 489.60 L760.82 489.61 L761.32 489.62 L761.82 489.62 L762.32 489.63 L762.82 489.63 L763.32 489.64 L763.82 489.64 L764.31 489.65 L764.81 489.65 L765.31 489.66 L765.81 489.66 L766.31 489.67 L766.81 489.67 L767.31 489.67 L767.81 489.68 L768.31 489.68 L768.81 489.68 L769.31 489.69 L769.81 489.69 L770.31 489.69 L770.81 489.69 L771.31 489.69 L771.81 489.70 L772.31 489.70 L772.81 489.70 L773.31 489.70 L773.80 489.70 L774.30 489.70 L774.80 489.70 L775.30 489.70 L775.80 489.70 L776.30 489.70 L776.80 489.70 L777.30 489.70 L777.80 489.70 L778.30 489.69 L778.80 489.69 L779.30 489.69 L779.80 489.69 L780.30 489.68 L780.80 489.68 L781.30 489.68 L781.80 489.67 L782.30 489.67 L782.80 489.67 L783.29 489.66 L783.79 489.66 L784.29 489.65 L784.79 489.65 L785.29 489.64 L785.79 489.63 L786.29 489.63 L786.79 489.62 L787.29 489.61 L787.79 489.61 L788.29 489.60 L788.79 489.59 L789.29 489.58 L789.79 489.57 L790.29 489.56 L790.79 489.55 L791.29 489.54 L791.79 489.53 L792.29 489.52 L792.78 489.51 L793.28 489.50 L793.78 489.49 L794.28 489.48 L794.78 489.47 L795.28 489.45 L795.78 489.44 L796.28 489.43 L796.78 489.41 L797.28 489.40 L797.78 489.39 L798.28 489.37 L798.78 489.36 L799.28 489.34 L799.78 489.33 L800.28 489.31 L800.78 489.29 L801.28 489.28 L801.78 489.26 L802.27 489.24 L802.77 489.22 L803.27 489.20 L803.77 489.19 L804.27 489.17 L804.77 489.15 L805.27 489.13 L805.77 489.11 L806.27 489.08 L806.77 489.06 L807.27 489.04 L807.77 489.02 L808.27 489.00 L808.77 488.97 L809.27 488.95 L809.77 488.93 L810.27 488.90 L810.77 488.88 L811.27 488.85 L811.76 488.83 L812.26 488.80 L812.76 488.78 L813.26 488.75 L813.76 488.72 L814.26 488.69 L814.76 488.67 L815.26 488.64 L815.76 488.61 L816.26 488.58 L816.76 488.55 L817.26 488.52 L817.76 488.49 L818.26 488.46 L818.76 488.42 L819.26 488.39 L819.76 488.36 L820.26 488.33 L820.76 488.29 L821.25 488.26 L821.75 488.22 L822.25 488.19 L822.75 488.15 L823.25 488.12 L823.75 488.08 L824.25 488.04 L824.75 488.01 L825.25 487.97 L825.75 487.93 L826.25 487.89 L826.75 487.85 L827.25 487.81 L827.75 487.77 L828.25 487.70 L828.75 487.61 L829.25 487.50 L829.75 487.38 L830.25 487.24 L830.74 487.08 L831.24 486.92 L831.74 486.74 L832.24 486.55 L832.74 486.35 L833.24 486.15 L833.74 485.95 L834.24 485.74 L834.74 485.53 L835.24 485.32 L835.74 485.11 L836.24 484.90 L836.74 484.69 L837.24 484.48 L837.74 484.26 L838.24 484.03 L838.74 483.79 L839.24 483.55 L839.74 483.29 L840.23 483.03 L840.73 482.75 L841.23 482.47 L841.73 482.17 L842.23 481.86 L842.73 481.54 L843.23 481.20 L843.73 480.85 L844.23 480.48 L844.73 480.08 L845.23 479.66 L845.73 479.21 L846.23 478.72 L846.73 478.20 L847.23 477.65 L847.73 477.07 L848.23 476.45 L848.73 475.80 L849.23 475.12 L849.72 474.41 L850.22 473.66 L850.72 472.86 L851.22 472.00 L851.72 471.08 L852.22 470.08 L852.72 468.99 L853.22 467.81 L853.72 466.53 L854.22 465.15 L854.72 463.64 L855.22 461.87 L855.72 459.77 L856.22 457.36 L856.72 454.70 L857.22 451.82 L857.72 448.78 L858.22 445.60 L858.72 442.12 L859.21 438.29 L859.71 434.12 L860.21 429.59 L860.71 424.68 L861.21 419.40 L861.71 413.63 L862.21 407.37 L862.71 400.58 L863.21 393.28 L863.71 385.45 L864.21 377.07 L864.71 368.13 L865.21 358.63 L865.71 347.33 L866.21 333.75 L866.71 318.91 L867.21 303.82 L867.71 289.51 L868.21 276.99 L868.70 266.28 L869.20 255.91 L869.70 245.88 L870.20 236.24 L870.70 227.06 L871.20 218.38 L871.70 210.28 L872.20 202.79 L872.70 195.98 L873.20 189.90 L873.70 192.89 L874.20 197.98 L874.70 204.92 L875.20 213.47 L875.70 223.40 L876.20 234.48 L876.70 246.45 L877.20 259.09 L877.70 272.15 L878.20 288.14 L878.70 310.10 L879.19 333.34 L879.69 352.94 L880.19 365.82 L880.69 377.00 L881.19 387.06 L881.69 395.81 L882.19 403.08 L882.69 408.67 L883.19 412.50 L883.69 415.54 L884.19 418.12 L884.69 420.29 L885.19 422.12 L885.69 423.66 L886.19 424.98 L886.69 426.18 L887.19 427.28 L887.69 428.29 L888.19 429.20 L888.69 430.03 L889.19 430.76 L889.69 431.41 L890.19 431.98 L890.68 432.48 L891.18 432.94 L891.68 433.38 L892.18 433.79 L892.68 434.18 L893.18 434.55 L893.68 434.90 L894.18 435.23 L894.68 435.55 L895.18 435.85 L895.68 436.13 L896.18 436.41 L896.68 436.67 L897.18 436.93 L897.68 437.18 L898.18 437.42 L898.68 437.66 L899.18 437.90 L899.68 438.14 L900.18 438.38 L900.68 438.62 L901.18 438.86 L901.67 439.09 L902.17 439.31 L902.67 439.54 L903.17 439.76 L903.67 439.97 L904.17 440.18 L904.67 440.38 L905.17 440.59 L905.67 440.78 L906.17 440.97 L906.67 441.16 L907.17 441.34 L907.67 441.52 L908.17 441.70 L908.67 441.87 L909.17 442.03 L909.67 442.19 L910.17 442.34 L910.67 442.49 L911.17 442.63 L911.67 442.77 L912.17 442.91 L912.67 443.05 L913.16 443.18 L913.66 443.32 L914.16 443.45 L914.66 443.58 L915.16 443.72 L915.66 443.85 L916.16 443.98 L916.66 444.11 L917.16 444.23 L917.66 444.36 L918.16 444.48 L918.66 444.61 L919.16 444.73 L919.66 444.85 L920.16 444.97 L920.66 445.09 L921.16 445.21 L921.66 445.33 L922.16 445.44 L922.66 445.56 L923.16 445.67 L923.66 445.78 L924.16 445.89 L924.65 446.00 L925.15 446.11 L925.65 446.22 L926.15 446.32 L926.65 446.43 L927.15 446.53 L927.65 446.63 L928.15 446.73 L928.65 446.83 L929.15 446.93 L929.65 447.02 L930.15 447.12 L930.65 447.21 L931.15 447.30 L931.65 447.39 L932.15 447.48 L932.65 447.57 L933.15 447.65 L933.65 447.74 L934.15 447.82 L934.65 447.90 L935.15 447.98 L935.64 448.06 L936.14 448.14 L936.64 448.21 L937.14 448.28 L937.64 448.36 L938.14 448.43 L938.64 448.49 L939.14 448.56 L939.64 448.63 L940.14 448.69 L940.64 448.75 L941.14 448.81 L941.64 448.87 L942.14 448.93 L942.64 448.98 L943.14 449.04 L943.64 449.09 L944.14 449.14 L944.64 449.20 L945.14 449.25 L945.64 449.30 L946.14 449.36 L946.64 449.41 L947.13 449.46 L947.63 449.52 L948.13 449.57 L948.63 449.62 L949.13 449.67 L949.63 449.73 L950.13 449.78 L950.63 449.83 L951.13 449.88 L951.63 449.93 L952.13 449.98 L952.63 450.03 L953.13 450.08 L953.63 450.13 L954.13 450.18 L954.63 450.23 L955.13 450.28 L955.63 450.33 L956.13 450.38 L956.63 450.43 L957.13 450.48 L957.63 450.52 L958.13 450.57 L958.62 450.62 L959.12 450.66 L959.62 450.71 L960.12 450.75 L960.62 450.80 L961.12 450.84 L961.62 450.88 L962.12 450.93 L962.62 450.97 L963.12 451.01 L963.62 451.05 L964.12 451.09 L964.62 451.13 L965.12 451.17 L965.62 451.21 L966.12 451.25 L966.62 451.29 L967.12 451.32 L967.62 451.36 L968.12 451.39 L968.62 451.43 L969.12 451.46 L969.61 451.50 L970.11 451.53 L970.61 451.56 L971.11 451.59 L971.61 451.62 L972.11 451.65 L972.61 451.68 L973.11 451.71 L973.61 451.74 L974.11 451.76 L974.61 451.79 L975.11 451.81 L975.61 451.83 L976.11 451.86 L976.61 451.88 L977.11 451.90 L977.61 451.92 L978.11 451.94 L978.61 451.96 L979.11 451.97 L979.61 451.99 L980.11 452.00 L980.61 452.02 L981.10 452.03 L981.60 452.04 L982.10 452.05 L982.60 452.06 L983.10 452.07 L983.60 452.08 L984.10 452.09 L984.60 452.09 L985.10 452.09 L985.60 452.10 L986.10 452.10 L986.60 452.10" fill="none" stroke="#ff00ff" stroke-width="5.8" stroke-linejoin="miter" stroke-miterlimit="4"/>
<path d="M565.00 467.30 L565.50 467.28 L566.00 467.27 L566.50 467.25 L567.00 467.23 L567.50 467.21 L567.99 467.19 L568.49 467.18 L568.99 467.16 L569.49 467.14 L569.99 467.12 L570.49 467.10 L570.99 467.08 L571.49 467.06 L571.99 467.04 L572.49 467.02 L572.99 467.00 L573.48 466.98 L573.98 466.96 L574.48 466.94 L574.98 466.92 L575.48 466.90 L575.98 466.88 L576.48 466.86 L576.98 466.84 L577.48 466.82 L577.98 466.80 L578.48 466.77 L578.98 466.75 L579.47 466.73 L579.97 466.71 L580.47 466.69 L580.97 466.67 L581.47 466.64 L581.97 466.62 L582.47 466.60 L582.97 466.58 L583.47 466.56 L583.97 466.54 L584.47 466.51 L584.96 466.49 L585.46 466.47 L585.96 466.45 L586.46 466.42 L586.96 466.40 L587.46 466.38 L587.96 466.35 L588.46 466.33 L588.96 466.30 L589.46 466.28 L589.96 466.25 L590.45 466.22 L590.95 466.19 L591.45 466.16 L591.95 466.13 L592.45 466.10 L592.95 466.07 L593.45 466.04 L593.95 466.00 L594.45 465.97 L594.95 465.93 L595.45 465.90 L595.94 465.86 L596.44 465.82 L596.94 465.78 L597.44 465.74 L597.94 465.70 L598.44 465.66 L598.94 465.61 L599.44 465.57 L599.94 465.52 L600.44 465.47 L600.94 465.42 L601.44 465.37 L601.93 465.32 L602.43 465.27 L602.93 465.21 L603.43 465.16 L603.93 465.10 L604.43 465.04 L604.93 464.98 L605.43 464.92 L605.93 464.86 L606.43 464.80 L606.93 464.73 L607.42 464.66 L607.92 464.59 L608.42 464.51 L608.92 464.43 L609.42 464.34 L609.92 464.25 L610.42 464.15 L610.92 464.05 L611.42 463.94 L611.92 463.82 L612.42 463.69 L612.91 463.53 L613.41 463.36 L613.91 463.16 L614.41 462.95 L614.91 462.73 L615.41 462.50 L615.91 462.27 L616.41 462.04 L616.91 461.81 L617.41 461.55 L617.91 461.28 L618.40 461.01 L618.90 460.72 L619.40 460.43 L619.90 460.14 L620.40 459.85 L620.90 459.57 L621.40 459.30 L621.90 459.05 L622.40 458.80 L622.90 458.55 L623.40 458.29 L623.90 458.04 L624.39 457.79 L624.89 457.56 L625.39 457.34 L625.89 457.14 L626.39 456.97 L626.89 456.83 L627.39 456.71 L627.89 456.60 L628.39 456.50 L628.89 456.41 L629.39 456.33 L629.88 456.25 L630.38 456.17 L630.88 456.10 L631.38 456.03 L631.88 455.97 L632.38 455.91 L632.88 455.85 L633.38 455.79 L633.88 455.74 L634.38 455.68 L634.88 455.62 L635.37 455.57 L635.87 455.51 L636.37 455.45 L636.87 455.38 L637.37 455.31 L637.87 455.24 L638.37 455.16 L638.87 455.08 L639.37 454.99 L639.87 454.89 L640.37 454.80 L640.86 454.71 L641.36 454.61 L641.86 454.51 L642.36 454.41 L642.86 454.31 L643.36 454.20 L643.86 454.09 L644.36 453.98 L644.86 453.87 L645.36 453.75 L645.86 453.63 L646.36 453.50 L646.85 453.37 L647.35 453.24 L647.85 453.10 L648.35 452.95 L648.85 452.81 L649.35 452.65 L649.85 452.49 L650.35 452.33 L650.85 452.15 L651.35 451.98 L651.85 451.79 L652.34 451.60 L652.84 451.40 L653.34 451.19 L653.84 450.97 L654.34 450.74 L654.84 450.50 L655.34 450.24 L655.84 449.97 L656.34 449.69 L656.84 449.40 L657.34 449.09 L657.83 448.76 L658.33 448.42 L658.83 448.06 L659.33 447.68 L659.83 447.28 L660.33 446.86 L660.83 446.42 L661.33 445.96 L661.83 445.47 L662.33 444.91 L662.83 444.27 L663.32 443.55 L663.82 442.75 L664.32 441.86 L664.82 440.89 L665.32 439.84 L665.82 438.70 L666.32 437.47 L666.82 436.15 L667.32 434.74 L667.82 433.08 L668.32 430.93 L668.82 428.41 L669.31 425.63 L669.81 422.72 L670.31 419.74 L670.81 416.41 L671.31 412.33 L671.81 406.83 L672.31 399.03 L672.81 389.57 L673.31 379.20 L673.81 368.32 L674.31 355.00 L674.80 340.73 L675.30 327.80 L675.80 318.14 L676.30 310.07 L676.80 303.27 L677.30 298.10 L677.80 298.83 L678.30 300.86 L678.80 303.96 L679.30 307.90 L679.80 312.60 L680.30 322.15 L680.80 335.77 L681.30 349.85 L681.80 362.96 L682.30 377.21 L682.80 391.38 L683.30 404.09 L683.80 414.00 L684.30 421.43 L684.80 427.76 L685.30 433.26 L685.80 438.16 L686.30 442.70 L686.80 446.95 L687.30 450.75 L687.80 453.88 L688.30 456.27 L688.80 458.31 L689.30 460.11 L689.80 461.70 L690.30 463.14 L690.80 464.48 L691.30 465.78 L691.80 467.06 L692.30 468.27 L692.80 469.38 L693.30 470.33 L693.80 471.07 L694.30 471.60 L694.80 472.09 L695.30 472.56 L695.80 473.00 L696.30 473.41 L696.80 473.81 L697.30 474.18 L697.80 474.53 L698.30 474.87 L698.80 475.18 L699.30 475.47 L699.80 475.74 L700.30 475.99 L700.80 476.23 L701.30 476.44 L701.80 476.64 L702.30 476.83 L702.80 476.99 L703.30 477.14 L703.80 477.28 L704.30 477.40 L704.80 477.51 L705.30 477.62 L705.80 477.73 L706.30 477.84 L706.80 477.94 L707.30 478.04 L707.80 478.14 L708.30 478.23 L708.80 478.33 L709.30 478.42 L709.80 478.51 L710.30 478.60 L710.80 478.68 L711.30 478.77 L711.80 478.85 L712.30 478.93 L712.80 479.00 L713.30 479.08 L713.80 479.15 L714.30 479.22 L714.80 479.29 L715.30 479.36 L715.80 479.42 L716.30 479.49 L716.80 479.55 L717.30 479.61 L717.80 479.66 L718.30 479.72 L718.80 479.77 L719.30 479.82 L719.80 479.87 L720.30 479.92 L720.80 479.97 L721.30 480.01 L721.80 480.06 L722.30 480.10 L722.80 480.14 L723.30 480.18 L723.80 480.21 L724.30 480.25 L724.80 480.28 L725.30 480.31 L725.80 480.34 L726.30 480.37 L726.80 480.40 L727.30 480.42 L727.80 480.45 L728.30 480.47 L728.80 480.49 L729.30 480.51 L729.80 480.53 L730.30 480.55 L730.80 480.57 L731.30 480.59 L731.80 480.61 L732.30 480.63 L732.80 480.65 L733.30 480.67 L733.80 480.68 L734.30 480.70 L734.80 480.72 L735.30 480.74 L735.80 480.76 L736.30 480.77 L736.80 480.79 L737.30 480.81 L737.80 480.83 L738.30 480.84 L738.80 480.86 L739.30 480.88 L739.80 480.89 L740.30 480.91 L740.80 480.92 L741.30 480.94 L741.80 480.96 L742.30 480.97 L742.80 480.99 L743.30 481.00 L743.80 481.02 L744.30 481.03 L744.80 481.04 L745.30 481.06 L745.80 481.07 L746.30 481.09 L746.80 481.10 L747.30 481.11 L747.80 481.13 L748.30 481.14 L748.80 481.15 L749.30 481.17 L749.80 481.18 L750.30 481.19 L750.80 481.20 L751.30 481.21 L751.80 481.22 L752.30 481.24 L752.80 481.25 L753.30 481.26 L753.80 481.27 L754.30 481.28 L754.80 481.29 L755.30 481.30 L755.80 481.31 L756.30 481.32 L756.80 481.33 L757.30 481.34 L757.80 481.35 L758.30 481.35 L758.80 481.36 L759.30 481.37 L759.80 481.38 L760.30 481.39 L760.80 481.39 L761.30 481.40 L761.80 481.41 L762.30 481.41 L762.80 481.42 L763.30 481.43 L763.80 481.43 L764.30 481.44 L764.80 481.44 L765.30 481.45 L765.80 481.45 L766.30 481.46 L766.80 481.46 L767.30 481.47 L767.80 481.47 L768.30 481.48 L768.80 481.48 L769.30 481.48 L769.80 481.49 L770.30 481.49 L770.80 481.49 L771.30 481.49 L771.80 481.49 L772.30 481.50 L772.80 481.50 L773.30 481.50 L773.80 481.50 L774.30 481.50 L774.80 481.50 L775.30 481.50 L775.80 481.50 L776.30 481.50 L776.80 481.50 L777.30 481.50 L777.80 481.49 L778.30 481.49 L778.80 481.49 L779.30 481.49 L779.80 481.48 L780.30 481.48 L780.80 481.48 L781.30 481.47 L781.80 481.47 L782.30 481.46 L782.80 481.46 L783.30 481.45 L783.80 481.44 L784.30 481.44 L784.80 481.43 L785.30 481.42 L785.80 481.41 L786.30 481.41 L786.80 481.40 L787.30 481.39 L787.80 481.38 L788.30 481.37 L788.80 481.36 L789.30 481.35 L789.80 481.34 L790.30 481.33 L790.80 481.31 L791.30 481.30 L791.80 481.29 L792.30 481.28 L792.80 481.26 L793.30 481.25 L793.80 481.24 L794.30 481.22 L794.80 481.21 L795.30 481.19 L795.80 481.18 L796.30 481.16 L796.80 481.15 L797.30 481.13 L797.80 481.11 L798.30 481.09 L798.80 481.08 L799.30 481.06 L799.80 481.04 L800.30 481.02 L800.80 481.00 L801.30 480.98 L801.80 480.96 L802.30 480.94 L802.80 480.92 L803.30 480.90 L803.80 480.88 L804.30 480.86 L804.80 480.83 L805.30 480.81 L805.80 480.79 L806.30 480.76 L806.80 480.74 L807.30 480.71 L807.80 480.69 L808.30 480.66 L808.80 480.64 L809.30 480.61 L809.80 480.59 L810.30 480.56 L810.80 480.53 L811.30 480.50 L811.80 480.48 L812.30 480.45 L812.80 480.42 L813.30 480.39 L813.80 480.36 L814.30 480.33 L814.80 480.30 L815.30 480.27 L815.80 480.24 L816.30 480.21 L816.80 480.17 L817.30 480.14 L817.80 480.11 L818.30 480.08 L818.80 480.04 L819.30 480.01 L819.80 479.97 L820.30 479.94 L820.80 479.90 L821.30 479.87 L821.80 479.83 L822.30 479.80 L822.80 479.76 L823.30 479.72 L823.80 479.68 L824.30 479.65 L824.80 479.61 L825.30 479.57 L825.80 479.53 L826.30 479.49 L826.80 479.45 L827.30 479.41 L827.80 479.36 L828.30 479.31 L828.80 479.26 L829.30 479.19 L829.80 479.12 L830.30 479.03 L830.80 478.95 L831.30 478.85 L831.80 478.75 L832.30 478.64 L832.80 478.52 L833.30 478.40 L833.80 478.27 L834.30 478.13 L834.80 477.99 L835.30 477.84 L835.80 477.68 L836.30 477.52 L836.80 477.35 L837.30 477.18 L837.80 477.00 L838.30 476.81 L838.80 476.62 L839.30 476.42 L839.80 476.22 L840.30 476.01 L840.80 475.79 L841.30 475.57 L841.80 475.35 L842.30 475.12 L842.80 474.88 L843.30 474.64 L843.80 474.40 L844.30 474.15 L844.80 473.89 L845.30 473.61 L845.80 473.31 L846.30 472.99 L846.80 472.64 L847.30 472.26 L847.80 471.85 L848.30 471.41 L848.80 470.93 L849.30 470.41 L849.80 469.85 L850.30 469.24 L850.80 468.59 L851.30 467.89 L851.80 467.13 L852.30 466.32 L852.80 465.41 L853.30 464.10 L853.80 462.38 L854.30 460.33 L854.80 458.04 L855.30 455.58 L855.80 453.03 L856.30 450.41 L856.80 447.55 L857.30 444.39 L857.80 440.93 L858.30 437.16 L858.80 433.06 L859.30 428.53 L859.80 423.39 L860.30 417.73 L860.80 411.62 L861.30 405.12 L861.80 398.33 L862.30 391.31 L862.80 384.14 L863.30 376.80 L863.80 368.60 L864.30 359.80 L864.80 350.92 L865.30 342.46 L865.80 334.85 L866.30 327.66 L866.80 320.76 L867.30 314.16 L867.80 307.90 L868.30 302.00 L868.80 304.42 L869.30 307.05 L869.80 309.90 L870.30 312.94 L870.80 316.17 L871.29 319.56 L871.79 323.16 L872.29 327.14 L872.79 331.45 L873.29 336.00 L873.79 340.71 L874.29 345.51 L874.79 350.31 L875.29 355.02 L875.79 359.59 L876.29 364.27 L876.79 369.13 L877.28 374.06 L877.78 378.96 L878.28 383.69 L878.78 388.16 L879.28 392.24 L879.78 395.83 L880.28 398.93 L880.78 401.79 L881.28 404.42 L881.78 406.85 L882.28 409.09 L882.78 411.14 L883.27 413.03 L883.77 414.84 L884.27 416.56 L884.77 418.16 L885.27 419.59 L885.77 420.82 L886.27 421.83 L886.77 422.70 L887.27 423.52 L887.77 424.28 L888.27 424.98 L888.77 425.65 L889.26 426.26 L889.76 426.85 L890.26 427.39 L890.76 427.91 L891.26 428.41 L891.76 428.88 L892.26 429.34 L892.76 429.79 L893.26 430.23 L893.76 430.66 L894.26 431.08 L894.76 431.49 L895.25 431.89 L895.75 432.28 L896.25 432.65 L896.75 433.01 L897.25 433.36 L897.75 433.69 L898.25 434.01 L898.75 434.31 L899.25 434.59 L899.75 434.86 L900.25 435.11 L900.75 435.33 L901.24 435.54 L901.74 435.75 L902.24 435.94 L902.74 436.13 L903.24 436.32 L903.74 436.50 L904.24 436.67 L904.74 436.83 L905.24 437.00 L905.74 437.15 L906.24 437.31 L906.74 437.45 L907.23 437.60 L907.73 437.74 L908.23 437.87 L908.73 438.01 L909.23 438.14 L909.73 438.26 L910.23 438.39 L910.73 438.51 L911.23 438.63 L911.73 438.75 L912.23 438.86 L912.72 438.98 L913.22 439.10 L913.72 439.21 L914.22 439.32 L914.72 439.44 L915.22 439.55 L915.72 439.66 L916.22 439.78 L916.72 439.89 L917.22 440.00 L917.72 440.11 L918.22 440.22 L918.71 440.33 L919.21 440.44 L919.71 440.54 L920.21 440.65 L920.71 440.75 L921.21 440.85 L921.71 440.96 L922.21 441.06 L922.71 441.16 L923.21 441.25 L923.71 441.35 L924.21 441.44 L924.70 441.54 L925.20 441.63 L925.70 441.72 L926.20 441.80 L926.70 441.89 L927.20 441.97 L927.70 442.06 L928.20 442.13 L928.70 442.21 L929.20 442.29 L929.70 442.36 L930.20 442.43 L930.69 442.50 L931.19 442.56 L931.69 442.63 L932.19 442.69 L932.69 442.75 L933.19 442.80 L933.69 442.86 L934.19 442.92 L934.69 442.98 L935.19 443.04 L935.69 443.10 L936.19 443.15 L936.68 443.21 L937.18 443.27 L937.68 443.33 L938.18 443.39 L938.68 443.44 L939.18 443.50 L939.68 443.56 L940.18 443.62 L940.68 443.67 L941.18 443.73 L941.68 443.79 L942.18 443.84 L942.67 443.90 L943.17 443.95 L943.67 444.01 L944.17 444.07 L944.67 444.12 L945.17 444.18 L945.67 444.23 L946.17 444.28 L946.67 444.34 L947.17 444.39 L947.67 444.45 L948.16 444.50 L948.66 444.55 L949.16 444.60 L949.66 444.66 L950.16 444.71 L950.66 444.76 L951.16 444.81 L951.66 444.86 L952.16 444.91 L952.66 444.96 L953.16 445.01 L953.66 445.06 L954.15 445.11 L954.65 445.16 L955.15 445.21 L955.65 445.25 L956.15 445.30 L956.65 445.35 L957.15 445.39 L957.65 445.44 L958.15 445.48 L958.65 445.53 L959.15 445.57 L959.65 445.61 L960.14 445.66 L960.64 445.70 L961.14 445.74 L961.64 445.78 L962.14 445.82 L962.64 445.86 L963.14 445.90 L963.64 445.94 L964.14 445.98 L964.64 446.02 L965.14 446.05 L965.64 446.09 L966.13 446.12 L966.63 446.16 L967.13 446.19 L967.63 446.23 L968.13 446.26 L968.63 446.29 L969.13 446.32 L969.63 446.35 L970.13 446.38 L970.63 446.41 L971.13 446.44 L971.63 446.47 L972.12 446.50 L972.62 446.52 L973.12 446.55 L973.62 446.57 L974.12 446.60 L974.62 446.62 L975.12 446.64 L975.62 446.66 L976.12 446.68 L976.62 446.70 L977.12 446.72 L977.62 446.74 L978.11 446.76 L978.61 446.77 L979.11 446.79 L979.61 446.80 L980.11 446.81 L980.61 446.83 L981.11 446.84 L981.61 446.85 L982.11 446.86 L982.61 446.87 L983.11 446.87 L983.61 446.88 L984.10 446.89 L984.60 446.89 L985.10 446.90 L985.60 446.90 L986.10 446.90 L986.60 446.90" fill="none" stroke="#00ffff" stroke-width="5.5" stroke-dasharray="6.5 5.8" stroke-linejoin="bevel" stroke-miterlimit="4" />
<path d="M58.00 919.50 L58.50 919.62 L59.00 919.73 L59.50 919.85 L60.00 919.96 L60.50 920.07 L61.00 920.19 L61.49 920.30 L61.99 920.42 L62.49 920.53 L62.99 920.64 L63.49 920.75 L63.99 920.87 L64.49 920.98 L64.99 921.09 L65.49 921.20 L65.99 921.31 L66.49 921.42 L66.99 921.53 L67.49 921.64 L67.99 921.75 L68.48 921.86 L68.98 921.97 L69.48 922.08 L69.98 922.19 L70.48 922.30 L70.98 922.41 L71.48 922.51 L71.98 922.62 L72.48 922.73 L72.98 922.83 L73.48 922.94 L73.98 923.05 L74.48 923.15 L74.98 923.26 L75.47 923.36 L75.97 923.47 L76.47 923.57 L76.97 923.67 L77.47 923.78 L77.97 923.88 L78.47 923.98 L78.97 924.09 L79.47 924.19 L79.97 924.29 L80.47 924.39 L80.97 924.49 L81.47 924.59 L81.96 924.69 L82.46 924.79 L82.96 924.89 L83.46 924.99 L83.96 925.09 L84.46 925.19 L84.96 925.29 L85.46 925.38 L85.96 925.48 L86.46 925.58 L86.96 925.67 L87.46 925.77 L87.96 925.86 L88.46 925.96 L88.95 926.05 L89.45 926.15 L89.95 926.24 L90.45 926.33 L90.95 926.43 L91.45 926.52 L91.95 926.61 L92.45 926.70 L92.95 926.80 L93.45 926.89 L93.95 926.98 L94.45 927.07 L94.95 927.16 L95.45 927.25 L95.94 927.34 L96.44 927.42 L96.94 927.51 L97.44 927.60 L97.94 927.69 L98.44 927.77 L98.94 927.86 L99.44 927.94 L99.94 928.03 L100.44 928.11 L100.94 928.19 L101.44 928.27 L101.94 928.35 L102.44 928.42 L102.93 928.50 L103.43 928.57 L103.93 928.65 L104.43 928.72 L104.93 928.79 L105.43 928.86 L105.93 928.93 L106.43 929.00 L106.93 929.07 L107.43 929.14 L107.93 929.21 L108.43 929.27 L108.93 929.34 L109.42 929.40 L109.92 929.47 L110.42 929.53 L110.92 929.60 L111.42 929.66 L111.92 929.72 L112.42 929.78 L112.92 929.85 L113.42 929.91 L113.92 929.97 L114.42 930.03 L114.92 930.09 L115.42 930.16 L115.92 930.22 L116.41 930.28 L116.91 930.34 L117.41 930.40 L117.91 930.46 L118.41 930.53 L118.91 930.59 L119.41 930.65 L119.91 930.71 L120.41 930.78 L120.91 930.84 L121.41 930.90 L121.91 930.97 L122.41 931.03 L122.91 931.10 L123.40 931.17 L123.90 931.23 L124.40 931.30 L124.90 931.37 L125.40 931.44 L125.90 931.51 L126.40 931.58 L126.90 931.65 L127.40 931.72 L127.90 931.79 L128.40 931.87 L128.90 931.94 L129.40 932.02 L129.89 932.10 L130.39 932.18 L130.89 932.26 L131.39 932.34 L131.89 932.42 L132.39 932.50 L132.89 932.59 L133.39 932.68 L133.89 932.76 L134.39 932.85 L134.89 932.94 L135.39 933.04 L135.89 933.13 L136.39 933.23 L136.88 933.33 L137.38 933.43 L137.88 933.53 L138.38 933.63 L138.88 933.74 L139.38 933.84 L139.88 933.95 L140.38 934.06 L140.88 934.18 L141.38 934.30 L141.88 934.43 L142.38 934.56 L142.88 934.69 L143.38 934.84 L143.87 934.98 L144.37 935.13 L144.87 935.29 L145.37 935.45 L145.87 935.61 L146.37 935.78 L146.87 935.95 L147.37 936.13 L147.87 936.31 L148.37 936.49 L148.87 936.68 L149.37 936.87 L149.87 937.07 L150.36 937.27 L150.86 937.47 L151.36 937.67 L151.86 937.88 L152.36 938.10 L152.86 938.32 L153.36 938.55 L153.86 938.80 L154.36 939.07 L154.86 939.35 L155.36 939.64 L155.86 939.93 L156.36 940.23 L156.86 940.52 L157.35 940.82 L157.85 941.12 L158.35 941.41 L158.85 941.73 L159.35 942.06 L159.85 942.39 L160.35 942.71 L160.85 943.01 L161.35 943.29 L161.85 943.54 L162.35 943.75 L162.85 943.97 L163.35 944.17 L163.85 944.35 L164.34 944.46 L164.84 944.50 L165.34 944.41 L165.84 944.20 L166.34 943.89 L166.84 943.53 L167.34 943.13 L167.84 942.70 L168.34 942.13 L168.84 941.46 L169.34 940.69 L169.84 939.84 L170.34 938.93 L170.84 937.91 L171.33 936.71 L171.83 935.37 L172.33 933.90 L172.83 932.30 L173.33 930.56 L173.83 928.66 L174.33 926.59 L174.83 924.34 L175.33 921.89 L175.83 919.13 L176.33 915.82 L176.83 912.15 L177.33 908.33 L177.82 904.49 L178.32 900.44 L178.82 896.26 L179.32 892.07 L179.82 887.84 L180.32 883.55 L180.82 879.22 L181.32 874.87 L181.82 870.53 L182.32 866.20 L182.82 861.99 L183.32 857.95 L183.82 853.98 L184.32 850.00 L184.81 845.89 L185.31 841.57 L185.81 836.93 L186.31 831.87 L186.81 826.03 L187.31 819.44 L187.81 812.50 L188.31 805.62 L188.81 799.04 L189.31 792.36 L189.81 785.71 L190.31 779.22 L190.81 773.07 L191.31 767.37 L191.80 762.03 L192.30 756.92 L192.80 751.95 L193.30 747.03 L193.80 742.23 L194.30 737.55 L194.80 733.00 L195.30 734.87 L195.80 739.47 L196.30 745.77 L196.79 753.34 L197.29 765.41 L197.79 778.66 L198.29 793.57 L198.79 809.10 L199.29 823.83 L199.79 836.51 L200.29 848.18 L200.78 859.12 L201.28 869.14 L201.78 878.06 L202.28 885.75 L202.78 892.45 L203.28 898.55 L203.78 904.45 L204.27 910.27 L204.77 915.68 L205.27 920.37 L205.77 924.06 L206.27 927.26 L206.77 930.16 L207.27 932.75 L207.76 935.04 L208.26 937.02 L208.76 938.69 L209.26 940.19 L209.76 941.60 L210.26 942.92 L210.76 944.15 L211.26 945.29 L211.75 946.34 L212.25 947.31 L212.75 948.19 L213.25 949.00 L213.75 949.72 L214.25 950.36 L214.75 950.95 L215.24 951.52 L215.74 952.07 L216.24 952.59 L216.74 953.08 L217.24 953.56 L217.74 954.01 L218.24 954.43 L218.74 954.84 L219.23 955.22 L219.73 955.57 L220.23 955.91 L220.73 956.22 L221.23 956.52 L221.73 956.79 L222.23 957.04 L222.72 957.27 L223.22 957.48 L223.72 957.69 L224.22 957.89 L224.72 958.08 L225.22 958.27 L225.72 958.46 L226.22 958.64 L226.71 958.81 L227.21 958.98 L227.71 959.14 L228.21 959.29 L228.71 959.44 L229.21 959.59 L229.71 959.73 L230.20 959.86 L230.70 959.99 L231.20 960.12 L231.70 960.24 L232.20 960.35 L232.70 960.46 L233.20 960.57 L233.69 960.67 L234.19 960.77 L234.69 960.86 L235.19 960.95 L235.69 961.03 L236.19 961.11 L236.69 961.18 L237.19 961.26 L237.68 961.33 L238.18 961.39 L238.68 961.46 L239.18 961.53 L239.68 961.59 L240.18 961.66 L240.68 961.72 L241.17 961.78 L241.67 961.84 L242.17 961.90 L242.67 961.95 L243.17 962.01 L243.67 962.06 L244.17 962.11 L244.67 962.16 L245.16 962.21 L245.66 962.25 L246.16 962.30 L246.66 962.34 L247.16 962.38 L247.66 962.42 L248.16 962.46 L248.65 962.49 L249.15 962.53 L249.65 962.56 L250.15 962.59 L250.65 962.62 L251.15 962.64 L251.65 962.67 L252.15 962.69 L252.64 962.71 L253.14 962.72 L253.64 962.74 L254.14 962.76 L254.64 962.78 L255.14 962.80 L255.64 962.81 L256.13 962.83 L256.63 962.85 L257.13 962.86 L257.63 962.88 L258.13 962.89 L258.63 962.91 L259.13 962.92 L259.62 962.94 L260.12 962.95 L260.62 962.97 L261.12 962.98 L261.62 962.99 L262.12 963.00 L262.62 963.01 L263.12 963.02 L263.61 963.03 L264.11 963.04 L264.61 963.05 L265.11 963.06 L265.61 963.07 L266.11 963.07 L266.61 963.08 L267.10 963.09 L267.60 963.09 L268.10 963.09 L268.60 963.10 L269.10 963.10 L269.60 963.10 L270.10 963.10 L270.60 963.10 L271.09 963.09 L271.59 963.09 L272.09 963.08 L272.59 963.07 L273.09 963.06 L273.59 963.05 L274.09 963.03 L274.58 963.01 L275.08 963.00 L275.58 962.97 L276.08 962.95 L276.58 962.93 L277.08 962.90 L277.58 962.88 L278.08 962.85 L278.57 962.82 L279.07 962.78 L279.57 962.75 L280.07 962.72 L280.57 962.68 L281.07 962.64 L281.57 962.60 L282.06 962.56 L282.56 962.52 L283.06 962.48 L283.56 962.43 L284.06 962.39 L284.56 962.34 L285.06 962.30 L285.55 962.25 L286.05 962.20 L286.55 962.15 L287.05 962.10 L287.55 962.05 L288.05 961.99 L288.55 961.94 L289.05 961.89 L289.54 961.83 L290.04 961.78 L290.54 961.72 L291.04 961.66 L291.54 961.60 L292.04 961.55 L292.54 961.49 L293.03 961.43 L293.53 961.37 L294.03 961.31 L294.53 961.25 L295.03 961.19 L295.53 961.13 L296.03 961.07 L296.53 961.01 L297.02 960.95 L297.52 960.88 L298.02 960.82 L298.52 960.76 L299.02 960.70 L299.52 960.63 L300.02 960.57 L300.51 960.50 L301.01 960.43 L301.51 960.36 L302.01 960.28 L302.51 960.21 L303.01 960.13 L303.51 960.05 L304.01 959.97 L304.50 959.88 L305.00 959.80 L305.50 959.71 L306.00 959.61 L306.50 959.52 L307.00 959.42 L307.50 959.31 L307.99 959.21 L308.49 959.10 L308.99 958.98 L309.49 958.87 L309.99 958.74 L310.49 958.62 L310.99 958.49 L311.48 958.36 L311.98 958.22 L312.48 958.08 L312.98 957.93 L313.48 957.78 L313.98 957.62 L314.48 957.46 L314.98 957.29 L315.47 957.12 L315.97 956.94 L316.47 956.76 L316.97 956.57 L317.47 956.36 L317.97 956.10 L318.47 955.81 L318.96 955.49 L319.46 955.13 L319.96 954.75 L320.46 954.34 L320.96 953.92 L321.46 953.47 L321.96 953.01 L322.46 952.53 L322.95 952.05 L323.45 951.54 L323.95 951.00 L324.45 950.41 L324.95 949.78 L325.45 949.11 L325.95 948.40 L326.44 947.63 L326.94 946.82 L327.44 945.95 L327.94 945.00 L328.44 943.96 L328.94 942.82 L329.44 941.58 L329.94 940.24 L330.43 938.79 L330.93 937.22 L331.43 935.50 L331.93 933.53 L332.43 931.30 L332.93 928.78 L333.43 925.95 L333.92 922.71 L334.42 918.94 L334.92 914.68 L335.42 909.96 L335.92 904.85 L336.42 899.36 L336.92 893.56 L337.41 887.48 L337.91 880.97 L338.41 872.76 L338.91 863.50 L339.41 854.27 L339.91 846.13 L340.41 839.93 L340.91 834.45 L341.40 829.42 L341.90 824.99 L342.40 821.27 L342.90 818.40 L343.39 821.39 L343.88 824.36 L344.38 827.31 L344.87 830.25 L345.36 833.17 L345.85 836.11 L346.34 839.08 L346.84 842.04 L347.33 844.92 L347.82 847.65 L348.31 850.25 L348.81 852.89 L349.30 855.54 L349.79 858.14 L350.28 860.62 L350.77 862.91 L351.27 864.97 L351.76 866.73 L352.25 868.13 L352.74 869.37 L353.23 870.58 L353.73 871.67 L354.22 872.57 L354.71 873.21 L355.20 873.49 L355.69 873.34 L356.19 872.77 L356.68 871.90 L357.17 870.85 L357.66 869.73 L358.16 868.67 L358.65 867.53 L359.14 866.27 L359.63 864.90 L360.12 863.42 L360.62 861.84 L361.11 860.17 L361.60 858.40 L362.10 861.70 L362.60 865.05 L363.10 868.45 L363.60 871.90 L364.10 875.40 L364.60 878.96 L365.10 882.67 L365.60 886.67 L366.10 890.83 L366.60 895.04 L367.10 899.16 L367.59 903.07 L368.09 906.65 L368.59 909.78 L369.09 912.39 L369.59 914.76 L370.09 916.88 L370.59 918.73 L371.09 920.26 L371.59 921.65 L372.09 922.89 L372.59 923.87 L373.09 924.48 L373.59 924.93 L374.09 925.34 L374.59 925.71 L375.09 926.05 L375.59 926.34 L376.09 926.60 L376.59 926.80 L377.09 926.96 L377.59 927.06 L378.09 927.10 L378.59 927.10 L379.09 927.10 L379.58 927.09 L380.08 927.08 L380.58 927.07 L381.08 927.06 L381.58 927.05 L382.08 927.03 L382.58 927.01 L383.08 926.99 L383.58 926.97 L384.08 926.94 L384.58 926.92 L385.08 926.89 L385.58 926.86 L386.08 926.83 L386.58 926.79 L387.08 926.76 L387.58 926.72 L388.08 926.69 L388.58 926.65 L389.08 926.61 L389.58 926.57 L390.08 926.53 L390.58 926.48 L391.08 926.44 L391.57 926.39 L392.07 926.35 L392.57 926.30 L393.07 926.25 L393.57 926.20 L394.07 926.15 L394.57 926.10 L395.07 926.05 L395.57 926.00 L396.07 925.95 L396.57 925.90 L397.07 925.85 L397.57 925.80 L398.07 925.74 L398.57 925.69 L399.07 925.64 L399.57 925.58 L400.07 925.53 L400.57 925.48 L401.07 925.43 L401.57 925.37 L402.07 925.32 L402.57 925.27 L403.06 925.22 L403.56 925.17 L404.06 925.12 L404.56 925.07 L405.06 925.02 L405.56 924.97 L406.06 924.92 L406.56 924.88 L407.06 924.83 L407.56 924.78 L408.06 924.74 L408.56 924.70 L409.06 924.65 L409.56 924.61 L410.06 924.57 L410.56 924.54 L411.06 924.50 L411.56 924.46 L412.06 924.43 L412.56 924.40 L413.06 924.36 L413.56 924.33 L414.06 924.30 L414.56 924.27 L415.05 924.24 L415.55 924.20 L416.05 924.17 L416.55 924.14 L417.05 924.11 L417.55 924.08 L418.05 924.05 L418.55 924.02 L419.05 923.98 L419.55 923.95 L420.05 923.92 L420.55 923.89 L421.05 923.86 L421.55 923.83 L422.05 923.80 L422.55 923.77 L423.05 923.73 L423.55 923.70 L424.05 923.67 L424.55 923.64 L425.05 923.61 L425.55 923.58 L426.05 923.55 L426.54 923.52 L427.04 923.49 L427.54 923.46 L428.04 923.43 L428.54 923.40 L429.04 923.37 L429.54 923.34 L430.04 923.31 L430.54 923.28 L431.04 923.25 L431.54 923.22 L432.04 923.19 L432.54 923.16 L433.04 923.13 L433.54 923.10 L434.04 923.07 L434.54 923.04 L435.04 923.02 L435.54 922.99 L436.04 922.96 L436.54 922.93 L437.04 922.90 L437.54 922.87 L438.04 922.84 L438.53 922.82 L439.03 922.79 L439.53 922.76 L440.03 922.73 L440.53 922.70 L441.03 922.67 L441.53 922.65 L442.03 922.62 L442.53 922.59 L443.03 922.56 L443.53 922.54 L444.03 922.51 L444.53 922.48 L445.03 922.46 L445.53 922.43 L446.03 922.40 L446.53 922.37 L447.03 922.35 L447.53 922.32 L448.03 922.30 L448.53 922.27 L449.03 922.24 L449.53 922.22 L450.02 922.19 L450.52 922.17 L451.02 922.14 L451.52 922.11 L452.02 922.09 L452.52 922.06 L453.02 922.04 L453.52 922.01 L454.02 921.99 L454.52 921.96 L455.02 921.94 L455.52 921.91 L456.02 921.89 L456.52 921.86 L457.02 921.84 L457.52 921.82 L458.02 921.79 L458.52 921.77 L459.02 921.75 L459.52 921.72 L460.02 921.70 L460.52 921.67 L461.02 921.65 L461.52 921.63 L462.01 921.61 L462.51 921.58 L463.01 921.56 L463.51 921.54 L464.01 921.52 L464.51 921.49 L465.01 921.47 L465.51 921.45 L466.01 921.43 L466.51 921.41 L467.01 921.38 L467.51 921.36 L468.01 921.34 L468.51 921.32 L469.01 921.30 L469.51 921.28 L470.01 921.26 L470.51 921.24 L471.01 921.22 L471.51 921.20 L472.01 921.18 L472.51 921.16 L473.01 921.14 L473.51 921.12 L474.00 921.10 L474.50 921.08 L475.00 921.06 L475.50 921.04 L476.00 921.03 L476.50 921.01 L477.00 920.99 L477.50 920.97 L478.00 920.95 L478.50 920.94 L479.00 920.92 L479.50 920.90" fill="none" stroke="#ff0000" stroke-width="5.8" stroke-linejoin="miter" stroke-miterlimit="4" />
<path d="M58.60 966.00 L480.00 966.00" fill="none" stroke="#0000ff" stroke-width="5.5" stroke-dasharray="6.5 5.8" stroke-linejoin="bevel" stroke-miterlimit="4" />
<path d="M563.00 917.70 L563.50 917.79 L564.00 917.88 L564.50 917.96 L564.99 918.05 L565.49 918.14 L565.99 918.23 L566.49 918.32 L566.99 918.40 L567.49 918.49 L567.98 918.58 L568.48 918.67 L568.98 918.75 L569.48 918.84 L569.98 918.93 L570.48 919.02 L570.98 919.11 L571.47 919.19 L571.97 919.28 L572.47 919.37 L572.97 919.46 L573.47 919.54 L573.97 919.63 L574.46 919.72 L574.96 919.81 L575.46 919.90 L575.96 919.98 L576.46 920.07 L576.96 920.16 L577.46 920.25 L577.95 920.33 L578.45 920.42 L578.95 920.51 L579.45 920.60 L579.95 920.68 L580.45 920.77 L580.94 920.86 L581.44 920.95 L581.94 921.03 L582.44 921.12 L582.94 921.21 L583.44 921.30 L583.94 921.38 L584.43 921.47 L584.93 921.56 L585.43 921.65 L585.93 921.73 L586.43 921.82 L586.93 921.91 L587.42 922.00 L587.92 922.08 L588.42 922.17 L588.92 922.26 L589.42 922.35 L589.92 922.43 L590.42 922.52 L590.91 922.61 L591.41 922.69 L591.91 922.78 L592.41 922.87 L592.91 922.96 L593.41 923.04 L593.90 923.13 L594.40 923.22 L594.90 923.31 L595.40 923.39 L595.90 923.48 L596.40 923.57 L596.90 923.65 L597.39 923.74 L597.89 923.83 L598.39 923.92 L598.89 924.00 L599.39 924.09 L599.89 924.18 L600.38 924.26 L600.88 924.35 L601.38 924.44 L601.88 924.53 L602.38 924.61 L602.88 924.70 L603.38 924.79 L603.87 924.87 L604.37 924.96 L604.87 925.05 L605.37 925.13 L605.87 925.22 L606.37 925.30 L606.86 925.39 L607.36 925.47 L607.86 925.55 L608.36 925.63 L608.86 925.72 L609.36 925.80 L609.86 925.88 L610.35 925.95 L610.85 926.03 L611.35 926.11 L611.85 926.19 L612.35 926.27 L612.85 926.35 L613.34 926.42 L613.84 926.50 L614.34 926.57 L614.84 926.65 L615.34 926.73 L615.84 926.80 L616.34 926.88 L616.83 926.95 L617.33 927.03 L617.83 927.10 L618.33 927.18 L618.83 927.25 L619.33 927.33 L619.82 927.40 L620.32 927.48 L620.82 927.55 L621.32 927.63 L621.82 927.70 L622.32 927.78 L622.82 927.86 L623.31 927.93 L623.81 928.01 L624.31 928.08 L624.81 928.16 L625.31 928.24 L625.81 928.32 L626.30 928.40 L626.80 928.47 L627.30 928.55 L627.80 928.63 L628.30 928.71 L628.80 928.80 L629.30 928.88 L629.79 928.96 L630.29 929.04 L630.79 929.13 L631.29 929.21 L631.79 929.30 L632.29 929.38 L632.78 929.47 L633.28 929.56 L633.78 929.64 L634.28 929.73 L634.78 929.82 L635.28 929.92 L635.78 930.01 L636.27 930.10 L636.77 930.20 L637.27 930.29 L637.77 930.39 L638.27 930.49 L638.77 930.58 L639.26 930.69 L639.76 930.79 L640.26 930.89 L640.76 930.99 L641.26 931.10 L641.76 931.21 L642.26 931.31 L642.75 931.42 L643.25 931.54 L643.75 931.65 L644.25 931.76 L644.75 931.88 L645.25 932.00 L645.74 932.11 L646.24 932.23 L646.74 932.36 L647.24 932.49 L647.74 932.62 L648.24 932.76 L648.74 932.90 L649.23 933.04 L649.73 933.19 L650.23 933.34 L650.73 933.50 L651.23 933.66 L651.73 933.82 L652.22 933.99 L652.72 934.16 L653.22 934.33 L653.72 934.51 L654.22 934.69 L654.72 934.87 L655.22 935.06 L655.71 935.25 L656.21 935.44 L656.71 935.64 L657.21 935.83 L657.71 936.03 L658.21 936.24 L658.70 936.44 L659.20 936.67 L659.70 936.91 L660.20 937.16 L660.70 937.42 L661.20 937.69 L661.70 937.95 L662.19 938.21 L662.69 938.46 L663.19 938.69 L663.69 938.92 L664.19 939.16 L664.69 939.39 L665.18 939.60 L665.68 939.80 L666.18 939.97 L666.68 940.11 L667.18 940.26 L667.68 940.39 L668.18 940.47 L668.67 940.50 L669.17 940.40 L669.67 940.17 L670.17 939.84 L670.67 939.45 L671.17 939.03 L671.66 938.51 L672.16 937.80 L672.66 936.96 L673.16 936.04 L673.66 935.11 L674.16 934.23 L674.66 933.38 L675.15 932.51 L675.65 931.56 L676.15 930.46 L676.65 929.18 L677.15 927.74 L677.65 926.15 L678.14 924.40 L678.64 922.50 L679.14 920.45 L679.64 918.27 L680.14 915.94 L680.64 913.47 L681.14 910.87 L681.63 908.14 L682.13 905.29 L682.63 902.29 L683.13 898.82 L683.63 894.84 L684.13 890.44 L684.62 885.72 L685.12 880.77 L685.62 875.69 L686.12 870.57 L686.62 865.51 L687.12 860.49 L687.62 855.38 L688.11 850.12 L688.61 844.65 L689.11 838.91 L689.61 832.83 L690.11 826.34 L690.61 819.36 L691.10 811.94 L691.60 804.11 L692.10 795.92 L692.60 787.40 L693.10 790.78 L693.59 794.28 L694.09 797.89 L694.58 801.60 L695.08 805.31 L695.57 809.21 L696.07 813.62 L696.56 818.92 L697.06 824.85 L697.55 830.91 L698.04 837.05 L698.54 843.54 L699.03 848.87 L699.53 852.51 L700.02 855.55 L700.52 858.06 L701.01 860.05 L701.51 861.71 L702.00 863.06 L702.50 864.00 L703.00 863.55 L703.50 863.11 L704.00 862.68 L704.50 862.27 L705.00 861.88 L705.50 861.50 L706.00 861.14 L706.50 860.78 L707.00 860.44 L707.50 860.11 L708.00 859.80 L708.50 859.50 L709.00 860.69 L709.50 862.20 L710.00 863.99 L710.50 865.98 L710.99 868.24 L711.49 870.89 L711.99 873.93 L712.49 877.39 L712.99 881.58 L713.49 886.95 L713.99 893.07 L714.49 899.48 L714.98 905.73 L715.48 911.37 L715.98 916.13 L716.48 920.63 L716.98 924.86 L717.48 928.65 L717.98 931.87 L718.48 934.70 L718.98 937.38 L719.47 939.83 L719.97 941.95 L720.47 943.65 L720.97 944.84 L721.47 945.78 L721.97 946.66 L722.47 947.49 L722.97 948.25 L723.47 948.96 L723.96 949.62 L724.46 950.23 L724.96 950.79 L725.46 951.31 L725.96 951.79 L726.46 952.22 L726.96 952.62 L727.46 952.98 L727.95 953.31 L728.45 953.61 L728.95 953.88 L729.45 954.12 L729.95 954.36 L730.45 954.59 L730.95 954.82 L731.45 955.04 L731.95 955.25 L732.44 955.46 L732.94 955.66 L733.44 955.86 L733.94 956.04 L734.44 956.23 L734.94 956.40 L735.44 956.58 L735.94 956.74 L736.44 956.90 L736.93 957.05 L737.43 957.20 L737.93 957.34 L738.43 957.48 L738.93 957.60 L739.43 957.73 L739.93 957.85 L740.43 957.96 L740.92 958.06 L741.42 958.16 L741.92 958.26 L742.42 958.34 L742.92 958.43 L743.42 958.50 L743.92 958.57 L744.42 958.64 L744.92 958.70 L745.41 958.75 L745.91 958.80 L746.41 958.85 L746.91 958.89 L747.41 958.93 L747.91 958.98 L748.41 959.02 L748.91 959.06 L749.41 959.11 L749.90 959.15 L750.40 959.19 L750.90 959.23 L751.40 959.27 L751.90 959.31 L752.40 959.34 L752.90 959.38 L753.40 959.42 L753.89 959.45 L754.39 959.49 L754.89 959.52 L755.39 959.56 L755.89 959.59 L756.39 959.62 L756.89 959.66 L757.39 959.69 L757.89 959.72 L758.38 959.75 L758.88 959.78 L759.38 959.81 L759.88 959.84 L760.38 959.86 L760.88 959.89 L761.38 959.91 L761.88 959.94 L762.37 959.96 L762.87 959.99 L763.37 960.01 L763.87 960.03 L764.37 960.05 L764.87 960.07 L765.37 960.09 L765.87 960.11 L766.37 960.13 L766.86 960.15 L767.36 960.16 L767.86 960.18 L768.36 960.19 L768.86 960.20 L769.36 960.22 L769.86 960.23 L770.36 960.24 L770.86 960.25 L771.35 960.26 L771.85 960.27 L772.35 960.27 L772.85 960.28 L773.35 960.29 L773.85 960.29 L774.35 960.29 L774.85 960.30 L775.34 960.30 L775.84 960.30 L776.34 960.30 L776.84 960.30 L777.34 960.30 L777.84 960.29 L778.34 960.29 L778.84 960.28 L779.34 960.27 L779.83 960.27 L780.33 960.26 L780.83 960.25 L781.33 960.23 L781.83 960.22 L782.33 960.21 L782.83 960.19 L783.33 960.18 L783.83 960.16 L784.32 960.14 L784.82 960.12 L785.32 960.10 L785.82 960.08 L786.32 960.06 L786.82 960.03 L787.32 960.01 L787.82 959.98 L788.31 959.96 L788.81 959.93 L789.31 959.90 L789.81 959.87 L790.31 959.84 L790.81 959.81 L791.31 959.77 L791.81 959.74 L792.31 959.71 L792.80 959.67 L793.30 959.63 L793.80 959.59 L794.30 959.55 L794.80 959.51 L795.30 959.47 L795.80 959.43 L796.30 959.39 L796.79 959.34 L797.29 959.30 L797.79 959.25 L798.29 959.20 L798.79 959.16 L799.29 959.11 L799.79 959.06 L800.29 959.01 L800.79 958.95 L801.28 958.90 L801.78 958.85 L802.28 958.79 L802.78 958.74 L803.28 958.68 L803.78 958.62 L804.28 958.56 L804.78 958.50 L805.28 958.44 L805.77 958.38 L806.27 958.32 L806.77 958.26 L807.27 958.19 L807.77 958.12 L808.27 958.03 L808.77 957.93 L809.27 957.82 L809.76 957.70 L810.26 957.56 L810.76 957.41 L811.26 957.25 L811.76 957.08 L812.26 956.90 L812.76 956.70 L813.26 956.50 L813.76 956.28 L814.25 956.05 L814.75 955.82 L815.25 955.57 L815.75 955.31 L816.25 955.04 L816.75 954.76 L817.25 954.48 L817.75 954.18 L818.25 953.88 L818.74 953.56 L819.24 953.24 L819.74 952.90 L820.24 952.50 L820.74 952.02 L821.24 951.47 L821.74 950.87 L822.24 950.23 L822.73 949.56 L823.23 948.87 L823.73 948.18 L824.23 947.49 L824.73 946.79 L825.23 946.02 L825.73 945.17 L826.23 944.18 L826.73 943.04 L827.22 941.61 L827.72 939.59 L828.22 937.12 L828.72 934.39 L829.22 931.56 L829.72 928.78 L830.22 925.87 L830.72 922.79 L831.22 919.56 L831.71 916.19 L832.21 912.68 L832.71 908.61 L833.21 904.08 L833.71 899.45 L834.21 895.08 L834.71 891.34 L835.21 888.57 L835.70 886.47 L836.20 884.54 L836.70 882.92 L837.20 881.70 L837.70 881.00 L838.19 881.41 L838.69 881.97 L839.18 882.66 L839.68 883.45 L840.17 884.34 L840.67 885.63 L841.16 887.19 L841.66 888.75 L842.15 890.07 L842.65 890.90 L843.14 891.55 L843.64 892.17 L844.13 892.74 L844.62 893.24 L845.12 893.66 L845.61 893.99 L846.11 894.20 L846.60 894.30 L847.10 894.09 L847.59 893.33 L848.09 892.10 L848.58 890.53 L849.08 888.73 L849.57 886.81 L850.07 884.90 L850.56 883.10 L851.06 881.42 L851.55 879.43 L852.04 877.27 L852.54 875.15 L853.03 873.32 L853.53 872.01 L854.02 871.42 L854.52 871.13 L855.01 870.93 L855.51 870.78 L856.00 870.66 L856.50 870.54 L856.99 870.40 L857.49 870.22 L857.98 869.97 L858.48 869.58 L858.97 868.94 L859.46 868.12 L859.96 867.21 L860.45 866.28 L860.95 865.40 L861.44 864.64 L861.94 863.90 L862.43 863.17 L862.93 862.45 L863.42 861.74 L863.92 861.04 L864.41 860.35 L864.91 859.67 L865.40 859.00 L865.90 859.23 L866.40 859.89 L866.90 860.91 L867.39 862.24 L867.89 863.82 L868.39 865.59 L868.89 867.49 L869.39 869.46 L869.89 871.79 L870.39 875.04 L870.89 878.92 L871.38 883.12 L871.88 887.31 L872.38 891.19 L872.88 894.59 L873.38 897.99 L873.88 901.36 L874.38 904.57 L874.88 907.50 L875.37 910.03 L875.87 912.07 L876.37 913.98 L876.87 915.85 L877.37 917.61 L877.87 919.20 L878.37 920.59 L878.87 921.70 L879.36 922.48 L879.86 922.89 L880.36 923.04 L880.86 923.19 L881.36 923.32 L881.86 923.43 L882.36 923.54 L882.86 923.63 L883.35 923.70 L883.85 923.77 L884.35 923.82 L884.85 923.86 L885.35 923.89 L885.85 923.90 L886.35 923.90 L886.85 923.90 L887.34 923.89 L887.84 923.89 L888.34 923.88 L888.84 923.88 L889.34 923.87 L889.84 923.86 L890.34 923.84 L890.84 923.83 L891.33 923.81 L891.83 923.80 L892.33 923.78 L892.83 923.76 L893.33 923.74 L893.83 923.72 L894.33 923.70 L894.83 923.68 L895.32 923.65 L895.82 923.63 L896.32 923.60 L896.82 923.57 L897.32 923.54 L897.82 923.52 L898.32 923.49 L898.82 923.45 L899.31 923.42 L899.81 923.39 L900.31 923.36 L900.81 923.32 L901.31 923.29 L901.81 923.26 L902.31 923.22 L902.81 923.18 L903.30 923.15 L903.80 923.11 L904.30 923.07 L904.80 923.04 L905.30 923.00 L905.80 922.96 L906.30 922.92 L906.80 922.88 L907.29 922.84 L907.79 922.80 L908.29 922.77 L908.79 922.73 L909.29 922.69 L909.79 922.65 L910.29 922.61 L910.79 922.57 L911.28 922.53 L911.78 922.49 L912.28 922.45 L912.78 922.41 L913.28 922.37 L913.78 922.33 L914.28 922.30 L914.78 922.26 L915.27 922.22 L915.77 922.18 L916.27 922.15 L916.77 922.11 L917.27 922.08 L917.77 922.04 L918.27 922.01 L918.77 921.97 L919.26 921.94 L919.76 921.91 L920.26 921.88 L920.76 921.84 L921.26 921.81 L921.76 921.78 L922.26 921.76 L922.76 921.73 L923.25 921.70 L923.75 921.67 L924.25 921.64 L924.75 921.61 L925.25 921.58 L925.75 921.55 L926.25 921.52 L926.75 921.49 L927.24 921.46 L927.74 921.43 L928.24 921.40 L928.74 921.37 L929.24 921.34 L929.74 921.31 L930.24 921.28 L930.74 921.26 L931.23 921.23 L931.73 921.20 L932.23 921.17 L932.73 921.14 L933.23 921.11 L933.73 921.08 L934.23 921.05 L934.73 921.02 L935.22 920.99 L935.72 920.96 L936.22 920.93 L936.72 920.90 L937.22 920.87 L937.72 920.84 L938.22 920.81 L938.72 920.79 L939.21 920.76 L939.71 920.73 L940.21 920.70 L940.71 920.67 L941.21 920.64 L941.71 920.61 L942.21 920.58 L942.71 920.55 L943.20 920.52 L943.70 920.49 L944.20 920.46 L944.70 920.43 L945.20 920.40 L945.70 920.38 L946.20 920.35 L946.70 920.32 L947.19 920.29 L947.69 920.26 L948.19 920.23 L948.69 920.20 L949.19 920.17 L949.69 920.14 L950.19 920.11 L950.69 920.08 L951.18 920.05 L951.68 920.02 L952.18 919.99 L952.68 919.97 L953.18 919.94 L953.68 919.91 L954.18 919.88 L954.68 919.85 L955.17 919.82 L955.67 919.79 L956.17 919.76 L956.67 919.73 L957.17 919.70 L957.67 919.67 L958.17 919.64 L958.67 919.61 L959.16 919.59 L959.66 919.56 L960.16 919.53 L960.66 919.50 L961.16 919.47 L961.66 919.44 L962.16 919.41 L962.66 919.38 L963.15 919.35 L963.65 919.32 L964.15 919.29 L964.65 919.26 L965.15 919.23 L965.65 919.21 L966.15 919.18 L966.65 919.15 L967.14 919.12 L967.64 919.09 L968.14 919.06 L968.64 919.03 L969.14 919.00 L969.64 918.97 L970.14 918.94 L970.64 918.91 L971.13 918.89 L971.63 918.86 L972.13 918.83 L972.63 918.80 L973.13 918.77 L973.63 918.74 L974.13 918.71 L974.63 918.68 L975.12 918.65 L975.62 918.62 L976.12 918.59 L976.62 918.56 L977.12 918.54 L977.62 918.51 L978.12 918.48 L978.62 918.45 L979.11 918.42 L979.61 918.39 L980.11 918.36 L980.61 918.33 L981.11 918.30 L981.61 918.27 L982.11 918.25 L982.61 918.22 L983.10 918.19 L983.60 918.16 L984.10 918.13 L984.60 918.10" fill="none" stroke="#ff0000" stroke-width="5.8" stroke-linejoin="miter" stroke-miterlimit="4" />
<clipPath id="clipd"><rect x="563.0" y="618.3" width="421.9" height="422.10000000000014"/></clipPath>
<path d="M563.00 962.40 L563.50 962.40 L564.00 962.40 L564.50 962.40 L565.00 962.40 L565.50 962.40 L566.00 962.40 L566.49 962.40 L566.99 962.40 L567.49 962.40 L567.99 962.40 L568.49 962.40 L568.99 962.40 L569.49 962.40 L569.99 962.40 L570.49 962.40 L570.99 962.40 L571.49 962.40 L571.99 962.40 L572.49 962.40 L572.98 962.40 L573.48 962.40 L573.98 962.40 L574.48 962.40 L574.98 962.40 L575.48 962.40 L575.98 962.40 L576.48 962.40 L576.98 962.40 L577.48 962.39 L577.98 962.39 L578.48 962.39 L578.98 962.39 L579.47 962.39 L579.97 962.39 L580.47 962.39 L580.97 962.39 L581.47 962.39 L581.97 962.39 L582.47 962.39 L582.97 962.39 L583.47 962.39 L583.97 962.39 L584.47 962.39 L584.97 962.39 L585.47 962.39 L585.96 962.39 L586.46 962.38 L586.96 962.38 L587.46 962.38 L587.96 962.38 L588.46 962.38 L588.96 962.38 L589.46 962.38 L589.96 962.38 L590.46 962.38 L590.96 962.38 L591.46 962.38 L591.96 962.37 L592.45 962.37 L592.95 962.37 L593.45 962.37 L593.95 962.37 L594.45 962.37 L594.95 962.37 L595.45 962.37 L595.95 962.37 L596.45 962.36 L596.95 962.36 L597.45 962.36 L597.95 962.36 L598.45 962.36 L598.95 962.36 L599.44 962.36 L599.94 962.35 L600.44 962.35 L600.94 962.35 L601.44 962.35 L601.94 962.35 L602.44 962.35 L602.94 962.34 L603.44 962.34 L603.94 962.34 L604.44 962.34 L604.94 962.34 L605.44 962.34 L605.93 962.33 L606.43 962.33 L606.93 962.33 L607.43 962.33 L607.93 962.33 L608.43 962.32 L608.93 962.32 L609.43 962.32 L609.93 962.32 L610.43 962.32 L610.93 962.31 L611.43 962.31 L611.93 962.31 L612.42 962.31 L612.92 962.30 L613.42 962.30 L613.92 962.30 L614.42 962.30 L614.92 962.29 L615.42 962.29 L615.92 962.29 L616.42 962.29 L616.92 962.28 L617.42 962.28 L617.92 962.28 L618.42 962.28 L618.91 962.27 L619.41 962.27 L619.91 962.27 L620.41 962.26 L620.91 962.26 L621.41 962.26 L621.91 962.25 L622.41 962.25 L622.91 962.25 L623.41 962.24 L623.91 962.24 L624.41 962.24 L624.91 962.23 L625.40 962.23 L625.90 962.23 L626.40 962.22 L626.90 962.22 L627.40 962.22 L627.90 962.21 L628.40 962.21 L628.90 962.21 L629.40 962.20 L629.90 962.20 L630.40 962.19 L630.90 962.19 L631.40 962.19 L631.89 962.18 L632.39 962.18 L632.89 962.17 L633.39 962.17 L633.89 962.17 L634.39 962.16 L634.89 962.16 L635.39 962.15 L635.89 962.15 L636.39 962.14 L636.89 962.14 L637.39 962.13 L637.89 962.13 L638.38 962.13 L638.88 962.12 L639.38 962.12 L639.88 962.11 L640.38 962.11 L640.88 962.10 L641.38 962.10 L641.88 962.09 L642.38 962.09 L642.88 962.08 L643.38 962.08 L643.88 962.07 L644.38 962.06 L644.87 962.06 L645.37 962.05 L645.87 962.05 L646.37 962.04 L646.87 962.04 L647.37 962.03 L647.87 962.03 L648.37 962.02 L648.87 962.01 L649.37 962.01 L649.87 962.00 L650.37 961.99 L650.87 961.97 L651.36 961.93 L651.86 961.88 L652.36 961.82 L652.86 961.75 L653.36 961.68 L653.86 961.59 L654.36 961.50 L654.86 961.41 L655.36 961.32 L655.86 961.22 L656.36 961.12 L656.86 961.03 L657.36 960.93 L657.85 960.83 L658.35 960.72 L658.85 960.61 L659.35 960.50 L659.85 960.37 L660.35 960.24 L660.85 960.11 L661.35 959.97 L661.85 959.82 L662.35 959.66 L662.85 959.50 L663.35 959.33 L663.85 959.16 L664.35 958.97 L664.84 958.78 L665.34 958.58 L665.84 958.36 L666.34 958.12 L666.84 957.86 L667.34 957.59 L667.84 957.30 L668.34 957.00 L668.84 956.69 L669.34 956.37 L669.84 956.03 L670.34 955.69 L670.84 955.33 L671.33 954.97 L671.83 954.60 L672.33 954.23 L672.83 953.85 L673.33 953.46 L673.83 953.07 L674.33 952.68 L674.83 952.29 L675.33 951.90 L675.83 951.51 L676.33 951.11 L676.83 950.70 L677.33 950.27 L677.82 949.82 L678.32 949.33 L678.82 948.80 L679.32 948.22 L679.82 947.58 L680.32 946.88 L680.82 946.09 L681.32 945.19 L681.82 944.19 L682.32 943.05 L682.82 941.72 L683.32 940.06 L683.82 938.09 L684.31 935.88 L684.81 933.48 L685.31 930.96 L685.81 928.26 L686.31 925.08 L686.81 921.63 L687.31 918.16 L687.81 914.91 L688.31 911.70 L688.81 908.46 L689.31 905.27 L689.81 902.24 L690.31 899.44 L690.80 896.98 L691.30 894.77 L691.80 892.68 L692.30 890.73 L692.80 888.96 L693.30 887.37 L693.80 886.00 L694.29 888.39 L694.78 892.86 L695.27 898.71 L695.76 905.56 L696.25 916.11 L696.74 928.32 L697.23 939.13 L697.72 949.63 L698.21 959.83 L698.70 969.19 L699.19 977.20 L699.68 984.29 L700.17 990.85 L700.66 996.92 L701.14 1002.54 L701.63 1007.75 L702.12 1012.58 L702.61 1017.12 L703.10 1021.42 L703.59 1025.43 L704.08 1029.13 L704.57 1032.44 L705.06 1035.35 L705.55 1037.99 L706.04 1040.48 L706.53 1042.77 L707.02 1044.81 L707.51 1046.57 L708.00 1048.00 L708.50 1045.68 L709.00 1043.10 L709.50 1040.27 L710.00 1037.24 L710.50 1034.03 L711.00 1030.44 L711.49 1026.44 L711.99 1022.28 L712.49 1018.23 L712.99 1014.31 L713.49 1010.23 L713.99 1006.06 L714.49 1001.93 L714.99 997.93 L715.49 994.18 L715.99 990.79 L716.49 987.86 L716.99 985.46 L717.49 983.34 L717.98 981.42 L718.48 979.71 L718.98 978.25 L719.48 977.04 L719.98 976.01 L720.48 975.08 L720.98 974.24 L721.48 973.48 L721.98 972.81 L722.48 972.23 L722.98 971.72 L723.48 971.26 L723.98 970.82 L724.47 970.38 L724.97 969.95 L725.47 969.54 L725.97 969.14 L726.47 968.75 L726.97 968.38 L727.47 968.03 L727.97 967.69 L728.47 967.38 L728.97 967.08 L729.47 966.80 L729.97 966.55 L730.47 966.32 L730.96 966.12 L731.46 965.94 L731.96 965.78 L732.46 965.66 L732.96 965.56 L733.46 965.49 L733.96 965.44 L734.46 965.39 L734.96 965.33 L735.46 965.28 L735.96 965.23 L736.46 965.19 L736.96 965.14 L737.45 965.09 L737.95 965.05 L738.45 965.00 L738.95 964.96 L739.45 964.92 L739.95 964.87 L740.45 964.83 L740.95 964.80 L741.45 964.76 L741.95 964.72 L742.45 964.68 L742.95 964.65 L743.45 964.61 L743.94 964.58 L744.44 964.54 L744.94 964.51 L745.44 964.48 L745.94 964.45 L746.44 964.42 L746.94 964.39 L747.44 964.36 L747.94 964.33 L748.44 964.31 L748.94 964.28 L749.44 964.25 L749.94 964.23 L750.43 964.20 L750.93 964.18 L751.43 964.16 L751.93 964.13 L752.43 964.11 L752.93 964.09 L753.43 964.07 L753.93 964.05 L754.43 964.03 L754.93 964.01 L755.43 963.99 L755.93 963.97 L756.43 963.95 L756.92 963.93 L757.42 963.92 L757.92 963.90 L758.42 963.88 L758.92 963.87 L759.42 963.85 L759.92 963.83 L760.42 963.82 L760.92 963.80 L761.42 963.79 L761.92 963.77 L762.42 963.76 L762.92 963.75 L763.41 963.73 L763.91 963.72 L764.41 963.70 L764.91 963.69 L765.41 963.68 L765.91 963.66 L766.41 963.65 L766.91 963.64 L767.41 963.63 L767.91 963.61 L768.41 963.60 L768.91 963.59 L769.41 963.57 L769.90 963.56 L770.40 963.55 L770.90 963.54 L771.40 963.52 L771.90 963.51 L772.40 963.50 L772.90 963.48 L773.40 963.47 L773.90 963.46 L774.40 963.44 L774.90 963.43 L775.40 963.42 L775.89 963.40 L776.39 963.39 L776.89 963.38 L777.39 963.36 L777.89 963.35 L778.39 963.34 L778.89 963.33 L779.39 963.32 L779.89 963.31 L780.39 963.30 L780.89 963.29 L781.39 963.28 L781.89 963.27 L782.38 963.26 L782.88 963.25 L783.38 963.24 L783.88 963.24 L784.38 963.23 L784.88 963.22 L785.38 963.21 L785.88 963.21 L786.38 963.20 L786.88 963.19 L787.38 963.19 L787.88 963.18 L788.38 963.17 L788.87 963.17 L789.37 963.16 L789.87 963.15 L790.37 963.15 L790.87 963.14 L791.37 963.13 L791.87 963.13 L792.37 963.12 L792.87 963.11 L793.37 963.10 L793.87 963.10 L794.37 963.09 L794.87 963.08 L795.36 963.07 L795.86 963.06 L796.36 963.05 L796.86 963.04 L797.36 963.03 L797.86 963.02 L798.36 963.01 L798.86 963.00 L799.36 962.98 L799.86 962.97 L800.36 962.96 L800.86 962.94 L801.36 962.93 L801.85 962.91 L802.35 962.90 L802.85 962.88 L803.35 962.86 L803.85 962.84 L804.35 962.83 L804.85 962.81 L805.35 962.78 L805.85 962.76 L806.35 962.73 L806.85 962.69 L807.35 962.65 L807.85 962.60 L808.34 962.55 L808.84 962.49 L809.34 962.43 L809.84 962.36 L810.34 962.29 L810.84 962.21 L811.34 962.13 L811.84 962.05 L812.34 961.96 L812.84 961.86 L813.34 961.77 L813.84 961.67 L814.34 961.56 L814.83 961.45 L815.33 961.34 L815.83 961.21 L816.33 961.06 L816.83 960.87 L817.33 960.66 L817.83 960.43 L818.33 960.18 L818.83 959.92 L819.33 959.65 L819.83 959.37 L820.33 959.10 L820.83 958.82 L821.32 958.55 L821.82 958.28 L822.32 958.00 L822.82 957.69 L823.32 957.36 L823.82 956.98 L824.32 956.56 L824.82 956.08 L825.32 955.52 L825.82 954.85 L826.32 954.07 L826.82 953.17 L827.32 952.17 L827.81 951.04 L828.31 949.80 L828.81 948.44 L829.31 946.95 L829.81 945.34 L830.31 943.47 L830.81 940.92 L831.31 937.78 L831.81 934.20 L832.31 930.32 L832.81 926.28 L833.31 922.08 L833.81 916.75 L834.30 911.01 L834.80 905.93 L835.30 902.55 L835.80 900.02 L836.30 897.83 L836.80 896.24 L837.30 895.50 L837.80 895.56 L838.30 895.74 L838.79 896.02 L839.29 896.39 L839.79 896.86 L840.29 897.40 L840.79 898.02 L841.28 898.69 L841.78 899.54 L842.28 901.08 L842.78 903.26 L843.28 905.97 L843.77 909.06 L844.27 912.43 L844.77 915.95 L845.27 919.49 L845.77 922.98 L846.26 926.92 L846.76 931.31 L847.26 935.95 L847.76 940.61 L848.26 945.11 L848.75 949.22 L849.25 953.17 L849.75 957.09 L850.25 960.91 L850.75 964.54 L851.24 967.88 L851.74 970.85 L852.24 973.46 L852.74 975.95 L853.24 978.32 L853.73 980.55 L854.23 982.61 L854.73 984.49 L855.23 986.16 L855.73 987.61 L856.22 988.82 L856.72 989.93 L857.22 990.93 L857.72 991.82 L858.22 992.59 L858.71 993.21 L859.21 993.70 L859.71 994.14 L860.21 994.56 L860.71 994.92 L861.20 995.21 L861.70 995.41 L862.20 995.50 L862.70 995.01 L863.20 994.31 L863.70 993.41 L864.20 992.34 L864.70 991.14 L865.20 989.81 L865.70 988.40 L866.20 986.92 L866.70 985.24 L867.20 982.86 L867.70 980.05 L868.20 977.16 L868.69 974.53 L869.19 972.50 L869.69 971.33 L870.19 970.48 L870.69 969.74 L871.19 969.10 L871.69 968.55 L872.19 968.09 L872.69 967.71 L873.19 967.38 L873.69 967.09 L874.19 966.82 L874.69 966.58 L875.19 966.37 L875.69 966.17 L876.19 965.99 L876.69 965.82 L877.19 965.67 L877.69 965.53 L878.19 965.40 L878.69 965.26 L879.19 965.13 L879.69 965.00 L880.19 964.87 L880.68 964.75 L881.18 964.63 L881.68 964.51 L882.18 964.39 L882.68 964.28 L883.18 964.18 L883.68 964.08 L884.18 963.98 L884.68 963.89 L885.18 963.81 L885.68 963.73 L886.18 963.66 L886.68 963.59 L887.18 963.54 L887.68 963.49 L888.18 963.45 L888.68 963.42 L889.18 963.40 L889.68 963.39 L890.18 963.38 L890.68 963.36 L891.18 963.35 L891.68 963.34 L892.18 963.33 L892.68 963.32 L893.17 963.30 L893.67 963.29 L894.17 963.28 L894.67 963.27 L895.17 963.26 L895.67 963.24 L896.17 963.23 L896.67 963.22 L897.17 963.21 L897.67 963.20 L898.17 963.19 L898.67 963.18 L899.17 963.16 L899.67 963.15 L900.17 963.14 L900.67 963.13 L901.17 963.12 L901.67 963.11 L902.17 963.10 L902.67 963.09 L903.17 963.08 L903.67 963.07 L904.17 963.06 L904.67 963.05 L905.16 963.04 L905.66 963.03 L906.16 963.02 L906.66 963.01 L907.16 963.00 L907.66 962.99 L908.16 962.98 L908.66 962.97 L909.16 962.97 L909.66 962.96 L910.16 962.95 L910.66 962.94 L911.16 962.93 L911.66 962.92 L912.16 962.91 L912.66 962.90 L913.16 962.90 L913.66 962.89 L914.16 962.88 L914.66 962.87 L915.16 962.86 L915.66 962.86 L916.16 962.85 L916.66 962.84 L917.16 962.83 L917.65 962.83 L918.15 962.82 L918.65 962.81 L919.15 962.80 L919.65 962.80 L920.15 962.79 L920.65 962.78 L921.15 962.77 L921.65 962.77 L922.15 962.76 L922.65 962.75 L923.15 962.75 L923.65 962.74 L924.15 962.73 L924.65 962.73 L925.15 962.72 L925.65 962.71 L926.15 962.71 L926.65 962.70 L927.15 962.70 L927.65 962.69 L928.15 962.68 L928.65 962.68 L929.15 962.67 L929.64 962.67 L930.14 962.66 L930.64 962.66 L931.14 962.65 L931.64 962.64 L932.14 962.64 L932.64 962.63 L933.14 962.63 L933.64 962.62 L934.14 962.62 L934.64 962.61 L935.14 962.61 L935.64 962.60 L936.14 962.60 L936.64 962.59 L937.14 962.59 L937.64 962.59 L938.14 962.58 L938.64 962.58 L939.14 962.57 L939.64 962.57 L940.14 962.56 L940.64 962.56 L941.14 962.56 L941.64 962.55 L942.13 962.55 L942.63 962.54 L943.13 962.54 L943.63 962.54 L944.13 962.53 L944.63 962.53 L945.13 962.52 L945.63 962.52 L946.13 962.52 L946.63 962.51 L947.13 962.51 L947.63 962.51 L948.13 962.50 L948.63 962.50 L949.13 962.50 L949.63 962.49 L950.13 962.49 L950.63 962.49 L951.13 962.49 L951.63 962.48 L952.13 962.48 L952.63 962.48 L953.13 962.48 L953.63 962.47 L954.12 962.47 L954.62 962.47 L955.12 962.46 L955.62 962.46 L956.12 962.46 L956.62 962.46 L957.12 962.46 L957.62 962.45 L958.12 962.45 L958.62 962.45 L959.12 962.45 L959.62 962.45 L960.12 962.44 L960.62 962.44 L961.12 962.44 L961.62 962.44 L962.12 962.44 L962.62 962.43 L963.12 962.43 L963.62 962.43 L964.12 962.43 L964.62 962.43 L965.12 962.43 L965.62 962.42 L966.12 962.42 L966.61 962.42 L967.11 962.42 L967.61 962.42 L968.11 962.42 L968.61 962.42 L969.11 962.42 L969.61 962.42 L970.11 962.41 L970.61 962.41 L971.11 962.41 L971.61 962.41 L972.11 962.41 L972.61 962.41 L973.11 962.41 L973.61 962.41 L974.11 962.41 L974.61 962.41 L975.11 962.41 L975.61 962.41 L976.11 962.40 L976.61 962.40 L977.11 962.40 L977.61 962.40 L978.11 962.40 L978.60 962.40 L979.10 962.40 L979.60 962.40 L980.10 962.40 L980.60 962.40 L981.10 962.40 L981.60 962.40 L982.10 962.40 L982.60 962.40 L983.10 962.40 L983.60 962.40 L984.10 962.40 L984.60 962.40" fill="none" stroke="#0000ff" stroke-width="5.5" stroke-dasharray="6.5 5.8" stroke-linejoin="bevel" stroke-miterlimit="4" clip-path="url(#clipd)"/>
<path d="M57.50 1454.50 L58.00 1454.59 L58.50 1454.68 L59.00 1454.77 L59.49 1454.86 L59.99 1454.95 L60.49 1455.04 L60.99 1455.13 L61.49 1455.22 L61.99 1455.31 L62.49 1455.39 L62.98 1455.48 L63.48 1455.57 L63.98 1455.66 L64.48 1455.75 L64.98 1455.84 L65.48 1455.93 L65.98 1456.02 L66.47 1456.11 L66.97 1456.20 L67.47 1456.29 L67.97 1456.38 L68.47 1456.46 L68.97 1456.55 L69.47 1456.64 L69.96 1456.73 L70.46 1456.82 L70.96 1456.91 L71.46 1457.00 L71.96 1457.09 L72.46 1457.18 L72.95 1457.26 L73.45 1457.35 L73.95 1457.44 L74.45 1457.53 L74.95 1457.62 L75.45 1457.71 L75.95 1457.80 L76.44 1457.89 L76.94 1457.97 L77.44 1458.06 L77.94 1458.15 L78.44 1458.24 L78.94 1458.33 L79.44 1458.42 L79.93 1458.51 L80.43 1458.59 L80.93 1458.68 L81.43 1458.77 L81.93 1458.86 L82.43 1458.95 L82.93 1459.04 L83.42 1459.12 L83.92 1459.21 L84.42 1459.30 L84.92 1459.39 L85.42 1459.48 L85.92 1459.57 L86.42 1459.65 L86.91 1459.74 L87.41 1459.83 L87.91 1459.92 L88.41 1460.01 L88.91 1460.09 L89.41 1460.18 L89.91 1460.27 L90.40 1460.36 L90.90 1460.45 L91.40 1460.53 L91.90 1460.62 L92.40 1460.71 L92.90 1460.80 L93.40 1460.89 L93.89 1460.97 L94.39 1461.06 L94.89 1461.15 L95.39 1461.24 L95.89 1461.32 L96.39 1461.41 L96.89 1461.50 L97.38 1461.59 L97.88 1461.67 L98.38 1461.76 L98.88 1461.85 L99.38 1461.94 L99.88 1462.02 L100.37 1462.11 L100.87 1462.19 L101.37 1462.27 L101.87 1462.36 L102.37 1462.44 L102.87 1462.52 L103.37 1462.60 L103.86 1462.68 L104.36 1462.76 L104.86 1462.84 L105.36 1462.92 L105.86 1463.00 L106.36 1463.07 L106.86 1463.15 L107.35 1463.23 L107.85 1463.31 L108.35 1463.38 L108.85 1463.46 L109.35 1463.53 L109.85 1463.61 L110.35 1463.69 L110.84 1463.76 L111.34 1463.84 L111.84 1463.91 L112.34 1463.99 L112.84 1464.06 L113.34 1464.14 L113.84 1464.21 L114.33 1464.29 L114.83 1464.36 L115.33 1464.44 L115.83 1464.51 L116.33 1464.59 L116.83 1464.66 L117.33 1464.74 L117.82 1464.82 L118.32 1464.89 L118.82 1464.97 L119.32 1465.05 L119.82 1465.12 L120.32 1465.20 L120.82 1465.28 L121.31 1465.36 L121.81 1465.44 L122.31 1465.52 L122.81 1465.60 L123.31 1465.68 L123.81 1465.77 L124.31 1465.85 L124.80 1465.93 L125.30 1466.02 L125.80 1466.10 L126.30 1466.19 L126.80 1466.27 L127.30 1466.36 L127.79 1466.45 L128.29 1466.54 L128.79 1466.63 L129.29 1466.72 L129.79 1466.81 L130.29 1466.91 L130.79 1467.00 L131.28 1467.10 L131.78 1467.19 L132.28 1467.29 L132.78 1467.39 L133.28 1467.49 L133.78 1467.59 L134.28 1467.69 L134.77 1467.80 L135.27 1467.90 L135.77 1468.01 L136.27 1468.12 L136.77 1468.23 L137.27 1468.34 L137.77 1468.45 L138.26 1468.57 L138.76 1468.68 L139.26 1468.80 L139.76 1468.92 L140.26 1469.04 L140.76 1469.16 L141.26 1469.29 L141.75 1469.42 L142.25 1469.56 L142.75 1469.70 L143.25 1469.84 L143.75 1469.99 L144.25 1470.14 L144.75 1470.30 L145.24 1470.46 L145.74 1470.62 L146.24 1470.79 L146.74 1470.96 L147.24 1471.13 L147.74 1471.31 L148.24 1471.49 L148.73 1471.67 L149.23 1471.86 L149.73 1472.05 L150.23 1472.24 L150.73 1472.44 L151.23 1472.63 L151.73 1472.84 L152.22 1473.04 L152.72 1473.25 L153.22 1473.47 L153.72 1473.71 L154.22 1473.95 L154.72 1474.21 L155.21 1474.47 L155.71 1474.74 L156.21 1475.01 L156.71 1475.29 L157.21 1475.56 L157.71 1475.84 L158.21 1476.11 L158.70 1476.41 L159.20 1476.71 L159.70 1477.02 L160.20 1477.32 L160.70 1477.61 L161.20 1477.86 L161.70 1478.09 L162.19 1478.32 L162.69 1478.54 L163.19 1478.71 L163.69 1478.80 L164.19 1478.75 L164.69 1478.56 L165.19 1478.26 L165.68 1477.89 L166.18 1477.47 L166.68 1477.04 L167.18 1476.50 L167.68 1475.84 L168.18 1475.08 L168.68 1474.21 L169.17 1473.25 L169.67 1472.15 L170.17 1470.77 L170.67 1469.18 L171.17 1467.46 L171.67 1465.69 L172.17 1463.85 L172.66 1461.93 L173.16 1459.94 L173.66 1457.85 L174.16 1455.67 L174.66 1453.38 L175.16 1450.97 L175.66 1448.44 L176.15 1445.79 L176.65 1442.99 L177.15 1440.05 L177.65 1436.94 L178.15 1433.39 L178.65 1429.40 L179.15 1425.05 L179.64 1420.43 L180.14 1415.64 L180.64 1410.75 L181.14 1405.87 L181.64 1401.09 L182.14 1396.40 L182.63 1391.70 L183.13 1386.97 L183.63 1382.19 L184.13 1377.35 L184.63 1372.43 L185.13 1367.41 L185.63 1362.27 L186.12 1357.00 L186.62 1351.58 L187.12 1345.94 L187.62 1339.71 L188.12 1333.01 L188.62 1326.08 L189.12 1319.13 L189.61 1312.39 L190.11 1306.08 L190.61 1300.42 L191.11 1295.61 L191.61 1291.23 L192.11 1287.08 L192.61 1283.20 L193.10 1279.61 L193.60 1276.35 L194.10 1273.47 L194.60 1271.00 L195.10 1276.16 L195.60 1281.69 L196.10 1287.55 L196.60 1293.69 L197.09 1299.94 L197.59 1306.47 L198.09 1314.13 L198.59 1324.31 L199.09 1337.66 L199.59 1352.41 L200.09 1366.76 L200.59 1378.94 L201.09 1389.54 L201.59 1399.31 L202.08 1408.12 L202.58 1416.03 L203.08 1423.40 L203.58 1430.14 L204.08 1436.13 L204.58 1441.34 L205.08 1446.07 L205.58 1450.35 L206.08 1454.15 L206.58 1457.47 L207.07 1460.42 L207.57 1463.10 L208.07 1465.52 L208.57 1467.69 L209.07 1469.65 L209.57 1471.48 L210.07 1473.19 L210.57 1474.78 L211.07 1476.22 L211.57 1477.51 L212.06 1478.64 L212.56 1479.64 L213.06 1480.56 L213.56 1481.41 L214.06 1482.19 L214.56 1482.91 L215.06 1483.59 L215.56 1484.22 L216.06 1484.83 L216.55 1485.41 L217.05 1485.98 L217.55 1486.52 L218.05 1487.03 L218.55 1487.52 L219.05 1487.98 L219.55 1488.42 L220.05 1488.82 L220.55 1489.19 L221.05 1489.53 L221.54 1489.85 L222.04 1490.16 L222.54 1490.46 L223.04 1490.75 L223.54 1491.04 L224.04 1491.31 L224.54 1491.57 L225.04 1491.82 L225.54 1492.06 L226.04 1492.29 L226.53 1492.51 L227.03 1492.71 L227.53 1492.90 L228.03 1493.07 L228.53 1493.23 L229.03 1493.38 L229.53 1493.51 L230.03 1493.63 L230.53 1493.74 L231.03 1493.86 L231.52 1493.97 L232.02 1494.07 L232.52 1494.17 L233.02 1494.27 L233.52 1494.37 L234.02 1494.46 L234.52 1494.54 L235.02 1494.63 L235.52 1494.71 L236.02 1494.79 L236.51 1494.86 L237.01 1494.93 L237.51 1495.00 L238.01 1495.07 L238.51 1495.13 L239.01 1495.19 L239.51 1495.25 L240.01 1495.30 L240.51 1495.36 L241.00 1495.41 L241.50 1495.45 L242.00 1495.50 L242.50 1495.54 L243.00 1495.59 L243.50 1495.63 L244.00 1495.68 L244.50 1495.72 L245.00 1495.76 L245.50 1495.81 L245.99 1495.85 L246.49 1495.89 L246.99 1495.93 L247.49 1495.97 L247.99 1496.01 L248.49 1496.04 L248.99 1496.08 L249.49 1496.12 L249.99 1496.15 L250.49 1496.18 L250.98 1496.21 L251.48 1496.24 L251.98 1496.26 L252.48 1496.29 L252.98 1496.31 L253.48 1496.33 L253.98 1496.35 L254.48 1496.36 L254.98 1496.38 L255.48 1496.39 L255.97 1496.39 L256.47 1496.40 L256.97 1496.40 L257.47 1496.40 L257.97 1496.40 L258.47 1496.40 L258.97 1496.40 L259.47 1496.40 L259.97 1496.39 L260.46 1496.39 L260.96 1496.39 L261.46 1496.39 L261.96 1496.38 L262.46 1496.38 L262.96 1496.37 L263.46 1496.37 L263.96 1496.37 L264.46 1496.36 L264.96 1496.36 L265.45 1496.35 L265.95 1496.35 L266.45 1496.34 L266.95 1496.34 L267.45 1496.33 L267.95 1496.33 L268.45 1496.32 L268.95 1496.31 L269.45 1496.31 L269.95 1496.30 L270.44 1496.29 L270.94 1496.29 L271.44 1496.28 L271.94 1496.27 L272.44 1496.25 L272.94 1496.24 L273.44 1496.23 L273.94 1496.21 L274.44 1496.20 L274.94 1496.18 L275.43 1496.16 L275.93 1496.14 L276.43 1496.12 L276.93 1496.10 L277.43 1496.08 L277.93 1496.05 L278.43 1496.03 L278.93 1496.00 L279.43 1495.97 L279.92 1495.95 L280.42 1495.92 L280.92 1495.89 L281.42 1495.85 L281.92 1495.82 L282.42 1495.79 L282.92 1495.76 L283.42 1495.72 L283.92 1495.68 L284.42 1495.65 L284.91 1495.61 L285.41 1495.57 L285.91 1495.53 L286.41 1495.49 L286.91 1495.45 L287.41 1495.41 L287.91 1495.36 L288.41 1495.32 L288.91 1495.27 L289.41 1495.23 L289.90 1495.18 L290.40 1495.13 L290.90 1495.09 L291.40 1495.04 L291.90 1494.99 L292.40 1494.94 L292.90 1494.89 L293.40 1494.83 L293.90 1494.78 L294.40 1494.73 L294.89 1494.68 L295.39 1494.62 L295.89 1494.56 L296.39 1494.51 L296.89 1494.45 L297.39 1494.39 L297.89 1494.34 L298.39 1494.28 L298.89 1494.22 L299.38 1494.15 L299.88 1494.08 L300.38 1494.00 L300.88 1493.92 L301.38 1493.84 L301.88 1493.75 L302.38 1493.66 L302.88 1493.56 L303.38 1493.46 L303.88 1493.36 L304.37 1493.25 L304.87 1493.13 L305.37 1493.01 L305.87 1492.89 L306.37 1492.77 L306.87 1492.63 L307.37 1492.50 L307.87 1492.36 L308.37 1492.22 L308.87 1492.07 L309.36 1491.92 L309.86 1491.76 L310.36 1491.60 L310.86 1491.43 L311.36 1491.27 L311.86 1491.09 L312.36 1490.91 L312.86 1490.73 L313.36 1490.55 L313.86 1490.36 L314.35 1490.16 L314.85 1489.96 L315.35 1489.76 L315.85 1489.55 L316.35 1489.34 L316.85 1489.12 L317.35 1488.89 L317.85 1488.63 L318.35 1488.33 L318.85 1488.01 L319.34 1487.67 L319.84 1487.30 L320.34 1486.91 L320.84 1486.49 L321.34 1486.06 L321.84 1485.61 L322.34 1485.15 L322.84 1484.67 L323.34 1484.17 L323.83 1483.63 L324.33 1483.05 L324.83 1482.43 L325.33 1481.77 L325.83 1481.07 L326.33 1480.32 L326.83 1479.51 L327.33 1478.65 L327.83 1477.71 L328.33 1476.66 L328.82 1475.50 L329.32 1474.22 L329.82 1472.82 L330.32 1471.29 L330.82 1469.63 L331.32 1467.81 L331.82 1465.72 L332.32 1463.30 L332.82 1460.50 L333.32 1457.23 L333.81 1453.28 L334.31 1448.08 L334.81 1441.80 L335.31 1434.69 L335.81 1427.02 L336.31 1419.01 L336.81 1410.58 L337.31 1399.70 L337.81 1388.00 L338.31 1377.92 L338.80 1371.77 L339.30 1367.51 L339.80 1363.91 L340.30 1361.43 L340.80 1360.50 L341.30 1360.97 L341.79 1361.76 L342.29 1362.79 L342.78 1363.95 L343.28 1365.44 L343.77 1367.39 L344.27 1369.64 L344.76 1372.03 L345.26 1374.54 L345.75 1377.42 L346.25 1380.58 L346.74 1383.89 L347.24 1387.24 L347.73 1390.49 L348.23 1393.54 L348.72 1396.24 L349.22 1398.51 L349.71 1400.71 L350.21 1402.95 L350.70 1405.14 L351.20 1407.21 L351.70 1409.05 L352.19 1410.58 L352.69 1411.72 L353.18 1412.37 L353.68 1412.47 L354.17 1412.13 L354.67 1411.48 L355.16 1410.63 L355.66 1409.67 L356.15 1408.69 L356.65 1407.45 L357.14 1405.96 L357.64 1404.32 L358.13 1402.66 L358.63 1401.07 L359.12 1399.47 L359.62 1397.84 L360.11 1396.18 L360.61 1394.49 L361.10 1392.76 L361.60 1391.00 L362.10 1394.74 L362.60 1398.48 L363.10 1402.23 L363.60 1405.99 L364.10 1409.75 L364.60 1413.52 L365.10 1417.40 L365.60 1421.53 L366.10 1425.79 L366.60 1430.05 L367.10 1434.17 L367.59 1438.03 L368.09 1441.51 L368.59 1444.46 L369.09 1446.84 L369.59 1448.91 L370.09 1450.73 L370.59 1452.33 L371.09 1453.75 L371.59 1455.16 L372.09 1456.46 L372.59 1457.46 L373.09 1457.95 L373.59 1458.21 L374.09 1458.46 L374.59 1458.67 L375.09 1458.87 L375.59 1459.04 L376.09 1459.18 L376.59 1459.31 L377.09 1459.41 L377.59 1459.49 L378.09 1459.55 L378.59 1459.58 L379.09 1459.60 L379.58 1459.60 L380.08 1459.60 L380.58 1459.59 L381.08 1459.59 L381.58 1459.58 L382.08 1459.57 L382.58 1459.56 L383.08 1459.55 L383.58 1459.53 L384.08 1459.52 L384.58 1459.50 L385.08 1459.48 L385.58 1459.46 L386.08 1459.44 L386.58 1459.42 L387.08 1459.39 L387.58 1459.37 L388.08 1459.34 L388.58 1459.31 L389.08 1459.28 L389.58 1459.25 L390.08 1459.22 L390.58 1459.19 L391.08 1459.16 L391.57 1459.13 L392.07 1459.09 L392.57 1459.06 L393.07 1459.02 L393.57 1458.98 L394.07 1458.95 L394.57 1458.91 L395.07 1458.87 L395.57 1458.83 L396.07 1458.79 L396.57 1458.75 L397.07 1458.71 L397.57 1458.67 L398.07 1458.63 L398.57 1458.59 L399.07 1458.55 L399.57 1458.51 L400.07 1458.46 L400.57 1458.42 L401.07 1458.38 L401.57 1458.34 L402.07 1458.30 L402.57 1458.25 L403.06 1458.21 L403.56 1458.17 L404.06 1458.13 L404.56 1458.09 L405.06 1458.05 L405.56 1458.01 L406.06 1457.97 L406.56 1457.93 L407.06 1457.89 L407.56 1457.85 L408.06 1457.81 L408.56 1457.77 L409.06 1457.73 L409.56 1457.70 L410.06 1457.66 L410.56 1457.63 L411.06 1457.59 L411.56 1457.56 L412.06 1457.53 L412.56 1457.50 L413.06 1457.47 L413.56 1457.43 L414.06 1457.40 L414.56 1457.37 L415.05 1457.34 L415.55 1457.31 L416.05 1457.28 L416.55 1457.25 L417.05 1457.22 L417.55 1457.19 L418.05 1457.15 L418.55 1457.12 L419.05 1457.09 L419.55 1457.06 L420.05 1457.03 L420.55 1457.00 L421.05 1456.97 L421.55 1456.94 L422.05 1456.91 L422.55 1456.88 L423.05 1456.85 L423.55 1456.81 L424.05 1456.78 L424.55 1456.75 L425.05 1456.72 L425.55 1456.69 L426.05 1456.66 L426.54 1456.63 L427.04 1456.60 L427.54 1456.57 L428.04 1456.54 L428.54 1456.51 L429.04 1456.47 L429.54 1456.44 L430.04 1456.41 L430.54 1456.38 L431.04 1456.35 L431.54 1456.32 L432.04 1456.29 L432.54 1456.26 L433.04 1456.23 L433.54 1456.20 L434.04 1456.17 L434.54 1456.14 L435.04 1456.10 L435.54 1456.07 L436.04 1456.04 L436.54 1456.01 L437.04 1455.98 L437.54 1455.95 L438.04 1455.92 L438.53 1455.89 L439.03 1455.86 L439.53 1455.83 L440.03 1455.80 L440.53 1455.77 L441.03 1455.74 L441.53 1455.70 L442.03 1455.67 L442.53 1455.64 L443.03 1455.61 L443.53 1455.58 L444.03 1455.55 L444.53 1455.52 L445.03 1455.49 L445.53 1455.46 L446.03 1455.43 L446.53 1455.40 L447.03 1455.37 L447.53 1455.34 L448.03 1455.31 L448.53 1455.28 L449.03 1455.25 L449.53 1455.22 L450.02 1455.18 L450.52 1455.15 L451.02 1455.12 L451.52 1455.09 L452.02 1455.06 L452.52 1455.03 L453.02 1455.00 L453.52 1454.97 L454.02 1454.94 L454.52 1454.91 L455.02 1454.88 L455.52 1454.85 L456.02 1454.82 L456.52 1454.79 L457.02 1454.76 L457.52 1454.73 L458.02 1454.70 L458.52 1454.67 L459.02 1454.64 L459.52 1454.61 L460.02 1454.58 L460.52 1454.55 L461.02 1454.52 L461.52 1454.48 L462.01 1454.45 L462.51 1454.42 L463.01 1454.39 L463.51 1454.36 L464.01 1454.33 L464.51 1454.30 L465.01 1454.27 L465.51 1454.24 L466.01 1454.21 L466.51 1454.18 L467.01 1454.15 L467.51 1454.12 L468.01 1454.09 L468.51 1454.06 L469.01 1454.03 L469.51 1454.00 L470.01 1453.97 L470.51 1453.94 L471.01 1453.91 L471.51 1453.88 L472.01 1453.85 L472.51 1453.82 L473.01 1453.79 L473.51 1453.76 L474.00 1453.73 L474.50 1453.70 L475.00 1453.67 L475.50 1453.64 L476.00 1453.61 L476.50 1453.58 L477.00 1453.55 L477.50 1453.52 L478.00 1453.49 L478.50 1453.46 L479.00 1453.43 L479.50 1453.40" fill="none" stroke="#ff0000" stroke-width="5.8" stroke-linejoin="miter" stroke-miterlimit="4" />
<path d="M57.60 1499.60 L478.90 1499.60" fill="none" stroke="#0000ff" stroke-width="5.5" stroke-dasharray="6.5 5.8" stroke-linejoin="bevel" stroke-miterlimit="4" />
<path d="M562.50 1450.70 L563.00 1450.78 L563.50 1450.85 L564.00 1450.93 L564.50 1451.00 L565.00 1451.08 L565.50 1451.15 L566.00 1451.23 L566.50 1451.31 L567.00 1451.38 L567.50 1451.46 L568.00 1451.53 L568.50 1451.61 L569.00 1451.68 L569.50 1451.76 L570.00 1451.84 L570.50 1451.91 L571.00 1451.99 L571.50 1452.06 L572.00 1452.14 L572.50 1452.21 L573.00 1452.29 L573.50 1452.37 L574.00 1452.44 L574.50 1452.52 L575.00 1452.59 L575.50 1452.67 L576.00 1452.74 L576.50 1452.82 L577.00 1452.89 L577.50 1452.97 L578.00 1453.05 L578.50 1453.12 L579.00 1453.20 L579.50 1453.27 L580.00 1453.35 L580.50 1453.42 L581.00 1453.50 L581.50 1453.57 L582.00 1453.65 L582.50 1453.72 L583.00 1453.80 L583.50 1453.88 L584.00 1453.95 L584.50 1454.03 L585.00 1454.10 L585.50 1454.18 L586.00 1454.25 L586.50 1454.33 L587.00 1454.40 L587.50 1454.48 L588.00 1454.55 L588.50 1454.63 L589.00 1454.70 L589.50 1454.78 L590.00 1454.86 L590.50 1454.93 L591.00 1455.01 L591.50 1455.08 L592.00 1455.16 L592.50 1455.23 L593.00 1455.31 L593.50 1455.38 L594.00 1455.46 L594.50 1455.53 L595.00 1455.61 L595.50 1455.68 L596.00 1455.76 L596.50 1455.83 L597.00 1455.91 L597.50 1455.98 L598.00 1456.06 L598.50 1456.13 L599.00 1456.21 L599.50 1456.28 L600.00 1456.36 L600.50 1456.43 L601.00 1456.51 L601.50 1456.58 L602.00 1456.66 L602.50 1456.73 L603.00 1456.81 L603.50 1456.88 L604.00 1456.96 L604.50 1457.03 L605.00 1457.11 L605.50 1457.18 L606.00 1457.26 L606.50 1457.33 L607.00 1457.40 L607.50 1457.48 L608.00 1457.55 L608.50 1457.62 L609.00 1457.70 L609.50 1457.77 L610.00 1457.84 L610.50 1457.91 L611.00 1457.98 L611.50 1458.06 L612.00 1458.13 L612.50 1458.20 L613.00 1458.27 L613.50 1458.34 L614.00 1458.41 L614.50 1458.48 L615.00 1458.56 L615.50 1458.63 L616.00 1458.70 L616.50 1458.77 L617.00 1458.84 L617.50 1458.91 L618.00 1458.98 L618.50 1459.05 L619.00 1459.12 L619.50 1459.19 L620.00 1459.26 L620.50 1459.34 L621.00 1459.41 L621.50 1459.48 L622.00 1459.55 L622.50 1459.62 L623.00 1459.69 L623.50 1459.76 L624.00 1459.83 L624.50 1459.91 L625.00 1459.98 L625.50 1460.05 L626.00 1460.12 L626.50 1460.19 L627.00 1460.27 L627.50 1460.34 L628.00 1460.41 L628.50 1460.49 L629.00 1460.56 L629.50 1460.63 L630.00 1460.71 L630.50 1460.78 L631.00 1460.85 L631.50 1460.93 L632.00 1461.00 L632.50 1461.08 L633.00 1461.15 L633.50 1461.23 L634.00 1461.31 L634.50 1461.38 L635.00 1461.46 L635.50 1461.54 L636.00 1461.61 L636.50 1461.69 L637.00 1461.77 L637.50 1461.85 L638.00 1461.93 L638.50 1462.01 L639.00 1462.09 L639.50 1462.17 L640.00 1462.25 L640.50 1462.33 L641.00 1462.41 L641.50 1462.49 L642.00 1462.58 L642.50 1462.66 L643.00 1462.74 L643.50 1462.83 L644.00 1462.91 L644.50 1463.00 L645.00 1463.08 L645.50 1463.17 L646.00 1463.26 L646.50 1463.34 L647.00 1463.43 L647.50 1463.52 L648.00 1463.61 L648.50 1463.70 L649.00 1463.79 L649.50 1463.89 L650.00 1463.98 L650.50 1464.08 L651.00 1464.17 L651.50 1464.27 L652.00 1464.37 L652.50 1464.47 L653.00 1464.57 L653.50 1464.68 L654.00 1464.78 L654.50 1464.89 L655.00 1465.00 L655.50 1465.11 L656.00 1465.23 L656.50 1465.35 L657.00 1465.47 L657.50 1465.59 L658.00 1465.72 L658.50 1465.85 L659.00 1465.98 L659.50 1466.11 L660.00 1466.24 L660.50 1466.37 L661.00 1466.50 L661.50 1466.64 L662.00 1466.81 L662.50 1466.99 L663.00 1467.15 L663.50 1467.30 L664.00 1467.42 L664.50 1467.49 L665.00 1467.49 L665.50 1467.36 L666.00 1467.12 L666.50 1466.79 L667.00 1466.41 L667.50 1466.00 L668.00 1465.46 L668.50 1464.72 L669.00 1463.84 L669.50 1462.91 L670.00 1462.00 L670.50 1461.12 L671.00 1460.22 L671.50 1459.24 L672.00 1458.14 L672.50 1456.89 L673.00 1455.53 L673.50 1454.05 L674.00 1452.46 L674.50 1450.78 L675.00 1449.00 L675.50 1447.15 L676.00 1445.21 L676.50 1443.21 L677.00 1441.14 L677.50 1439.02 L678.00 1436.86 L678.50 1434.65 L679.00 1432.34 L679.50 1429.89 L680.00 1427.32 L680.50 1424.63 L681.00 1421.84 L681.50 1418.97 L682.00 1416.01 L682.50 1412.99 L683.00 1409.91 L683.50 1406.78 L684.00 1403.62 L684.50 1400.44 L685.00 1397.19 L685.50 1393.79 L686.00 1390.26 L686.50 1386.64 L687.00 1382.94 L687.50 1379.20 L688.00 1375.45 L688.50 1371.72 L689.00 1368.03 L689.50 1364.42 L690.00 1360.90 L690.50 1357.42 L691.00 1353.97 L691.50 1350.54 L692.00 1347.13 L692.50 1343.74 L693.00 1340.37 L693.50 1337.03 L694.00 1333.70 L694.50 1337.83 L695.00 1342.16 L695.50 1346.68 L696.00 1351.37 L696.50 1356.22 L697.00 1361.23 L697.50 1366.37 L698.00 1371.63 L698.50 1377.24 L699.00 1383.46 L699.50 1389.99 L700.00 1396.51 L700.50 1402.67 L701.00 1408.17 L701.50 1412.84 L702.00 1417.16 L702.50 1420.97 L703.00 1424.00 L703.50 1426.37 L704.00 1428.40 L704.50 1430.18 L705.00 1431.78 L705.50 1433.30 L706.00 1434.78 L706.50 1436.19 L707.00 1437.48 L707.50 1438.60 L708.00 1439.50 L708.50 1440.24 L709.00 1440.92 L709.50 1441.54 L710.00 1442.09 L710.50 1442.58 L711.00 1442.99 L711.50 1443.34 L712.00 1443.64 L712.50 1443.93 L713.00 1444.20 L713.50 1444.44 L714.00 1444.63 L714.50 1444.76 L715.00 1444.80 L715.50 1444.75 L716.00 1444.64 L716.50 1444.47 L717.00 1444.28 L717.50 1444.09 L718.00 1443.94 L718.50 1443.83 L719.00 1443.81 L719.50 1444.18 L720.00 1444.95 L720.50 1445.94 L721.00 1447.00 L721.50 1448.22 L722.00 1449.76 L722.50 1451.52 L723.00 1453.41 L723.50 1455.51 L724.00 1458.03 L724.50 1460.85 L725.00 1463.79 L725.50 1466.73 L726.00 1469.51 L726.50 1471.97 L727.00 1473.96 L727.50 1475.45 L728.00 1476.74 L728.50 1477.90 L729.00 1478.95 L729.50 1479.88 L730.00 1480.73 L730.50 1481.50 L731.00 1482.23 L731.50 1482.92 L732.00 1483.58 L732.50 1484.20 L733.00 1484.75 L733.50 1485.24 L734.00 1485.66 L734.50 1486.00 L735.00 1486.29 L735.50 1486.57 L736.00 1486.84 L736.50 1487.11 L737.00 1487.37 L737.50 1487.62 L738.00 1487.86 L738.50 1488.09 L739.00 1488.32 L739.50 1488.53 L740.00 1488.74 L740.50 1488.94 L741.00 1489.13 L741.50 1489.32 L742.00 1489.49 L742.50 1489.66 L743.00 1489.81 L743.50 1489.96 L744.00 1490.10 L744.50 1490.23 L745.00 1490.35 L745.50 1490.47 L746.00 1490.57 L746.50 1490.66 L747.00 1490.75 L747.50 1490.83 L748.00 1490.89 L748.50 1490.95 L749.00 1491.00 L749.50 1491.04 L750.00 1491.09 L750.50 1491.13 L751.00 1491.17 L751.50 1491.21 L752.00 1491.25 L752.50 1491.29 L753.00 1491.33 L753.50 1491.37 L754.00 1491.40 L754.50 1491.44 L755.00 1491.47 L755.50 1491.51 L756.00 1491.54 L756.50 1491.58 L757.00 1491.61 L757.50 1491.64 L758.00 1491.67 L758.50 1491.70 L759.00 1491.73 L759.50 1491.76 L760.00 1491.78 L760.50 1491.81 L761.00 1491.84 L761.50 1491.86 L762.00 1491.89 L762.50 1491.91 L763.00 1491.93 L763.50 1491.95 L764.00 1491.97 L764.50 1491.99 L765.00 1492.01 L765.50 1492.03 L766.00 1492.05 L766.50 1492.06 L767.00 1492.08 L767.50 1492.09 L768.00 1492.11 L768.50 1492.12 L769.00 1492.13 L769.50 1492.14 L770.00 1492.15 L770.50 1492.16 L771.00 1492.17 L771.50 1492.18 L772.00 1492.18 L772.50 1492.19 L773.00 1492.19 L773.50 1492.20 L774.00 1492.20 L774.50 1492.20 L775.00 1492.20 L775.50 1492.20 L776.00 1492.20 L776.50 1492.19 L777.00 1492.19 L777.50 1492.18 L778.00 1492.17 L778.50 1492.16 L779.00 1492.15 L779.50 1492.13 L780.00 1492.12 L780.50 1492.10 L781.00 1492.08 L781.50 1492.06 L782.00 1492.04 L782.50 1492.02 L783.00 1492.00 L783.50 1491.97 L784.00 1491.94 L784.50 1491.92 L785.00 1491.89 L785.50 1491.85 L786.00 1491.82 L786.50 1491.79 L787.00 1491.75 L787.50 1491.71 L788.00 1491.68 L788.50 1491.64 L789.00 1491.60 L789.50 1491.55 L790.00 1491.51 L790.50 1491.46 L791.00 1491.42 L791.50 1491.37 L792.00 1491.32 L792.50 1491.27 L793.00 1491.22 L793.50 1491.17 L794.00 1491.12 L794.50 1491.06 L795.00 1491.00 L795.50 1490.95 L796.00 1490.89 L796.50 1490.83 L797.00 1490.77 L797.50 1490.71 L798.00 1490.64 L798.50 1490.58 L799.00 1490.51 L799.50 1490.45 L800.00 1490.38 L800.50 1490.31 L801.00 1490.24 L801.50 1490.17 L802.00 1490.10 L802.50 1490.02 L803.00 1489.93 L803.50 1489.83 L804.00 1489.72 L804.50 1489.59 L805.00 1489.45 L805.50 1489.30 L806.00 1489.14 L806.50 1488.96 L807.00 1488.78 L807.50 1488.58 L808.00 1488.37 L808.50 1488.15 L809.00 1487.91 L809.50 1487.67 L810.00 1487.41 L810.50 1487.14 L811.00 1486.86 L811.50 1486.56 L812.00 1486.25 L812.50 1485.93 L813.00 1485.54 L813.50 1485.04 L814.00 1484.47 L814.50 1483.84 L815.00 1483.16 L815.50 1482.44 L816.00 1481.70 L816.50 1480.90 L817.00 1480.01 L817.50 1479.04 L818.00 1477.99 L818.50 1476.84 L819.00 1475.52 L819.50 1473.91 L820.00 1472.09 L820.50 1470.15 L821.00 1468.18 L821.50 1466.25 L822.00 1464.46 L822.50 1462.90 L823.00 1461.61 L823.50 1460.43 L824.00 1459.32 L824.50 1458.27 L825.00 1457.30 L825.50 1456.43 L826.00 1455.66 L826.50 1455.00 L827.00 1455.25 L827.49 1455.50 L827.99 1455.75 L828.48 1456.00 L828.98 1456.25 L829.47 1456.51 L829.97 1456.77 L830.46 1457.03 L830.96 1457.29 L831.45 1457.55 L831.95 1457.82 L832.44 1458.10 L832.94 1458.41 L833.43 1458.73 L833.93 1459.04 L834.42 1459.30 L834.92 1459.48 L835.41 1459.60 L835.91 1459.70 L836.40 1459.80 L836.90 1459.88 L837.39 1459.94 L837.89 1459.98 L838.38 1460.00 L838.88 1459.93 L839.37 1459.73 L839.87 1459.42 L840.36 1459.04 L840.86 1458.60 L841.35 1458.14 L841.85 1457.64 L842.34 1457.03 L842.84 1456.29 L843.33 1455.43 L843.83 1454.45 L844.32 1453.36 L844.82 1452.11 L845.31 1450.41 L845.81 1448.31 L846.30 1445.90 L846.80 1443.30 L847.30 1440.60 L847.79 1437.93 L848.29 1435.39 L848.78 1433.08 L849.28 1430.88 L849.77 1428.61 L850.27 1426.37 L850.76 1424.27 L851.26 1422.40 L851.75 1420.88 L852.25 1419.72 L852.74 1418.76 L853.24 1417.93 L853.73 1417.17 L854.23 1416.42 L854.72 1415.66 L855.22 1414.97 L855.71 1414.32 L856.21 1413.65 L856.70 1412.90 L857.20 1412.01 L857.69 1410.98 L858.19 1409.82 L858.68 1408.55 L859.18 1407.16 L859.67 1405.66 L860.17 1404.05 L860.66 1402.34 L861.16 1400.53 L861.65 1398.62 L862.15 1396.63 L862.64 1394.50 L863.14 1392.12 L863.63 1389.51 L864.13 1386.67 L864.62 1383.63 L865.12 1380.40 L865.61 1377.01 L866.11 1373.46 L866.60 1369.79 L867.10 1366.00 L867.60 1369.98 L868.10 1373.94 L868.60 1377.89 L869.10 1381.82 L869.60 1385.73 L870.10 1389.62 L870.60 1393.50 L871.10 1397.43 L871.60 1401.44 L872.10 1405.48 L872.60 1409.49 L873.10 1413.42 L873.60 1417.19 L874.10 1420.76 L874.60 1424.07 L875.10 1427.13 L875.60 1430.03 L876.10 1432.71 L876.60 1435.12 L877.10 1437.26 L877.60 1439.28 L878.10 1441.10 L878.60 1442.64 L879.10 1443.85 L879.60 1444.91 L880.10 1445.87 L880.60 1446.72 L881.10 1447.46 L881.60 1448.09 L882.10 1448.59 L882.60 1449.05 L883.10 1449.48 L883.60 1449.88 L884.10 1450.26 L884.60 1450.60 L885.10 1450.90 L885.60 1451.17 L886.10 1451.39 L886.60 1451.56 L887.10 1451.68 L887.60 1451.77 L888.10 1451.85 L888.60 1451.92 L889.10 1452.00 L889.60 1452.08 L890.10 1452.15 L890.60 1452.22 L891.10 1452.29 L891.60 1452.35 L892.10 1452.42 L892.60 1452.48 L893.10 1452.54 L893.60 1452.60 L894.10 1452.65 L894.60 1452.71 L895.10 1452.76 L895.60 1452.81 L896.10 1452.86 L896.60 1452.90 L897.10 1452.95 L897.60 1452.99 L898.10 1453.03 L898.60 1453.07 L899.10 1453.11 L899.60 1453.15 L900.10 1453.18 L900.60 1453.21 L901.10 1453.24 L901.60 1453.27 L902.10 1453.30 L902.60 1453.32 L903.10 1453.35 L903.60 1453.37 L904.10 1453.39 L904.60 1453.41 L905.10 1453.42 L905.60 1453.44 L906.10 1453.45 L906.60 1453.46 L907.10 1453.47 L907.60 1453.48 L908.10 1453.49 L908.60 1453.49 L909.10 1453.50 L909.60 1453.50 L910.10 1453.50 L910.60 1453.50 L911.10 1453.50 L911.60 1453.50 L912.10 1453.50 L912.60 1453.50 L913.10 1453.50 L913.60 1453.50 L914.10 1453.50 L914.60 1453.50 L915.10 1453.50 L915.60 1453.50 L916.10 1453.50 L916.60 1453.50 L917.10 1453.50 L917.60 1453.50 L918.10 1453.50 L918.60 1453.49 L919.10 1453.49 L919.60 1453.49 L920.10 1453.49 L920.60 1453.49 L921.10 1453.49 L921.60 1453.49 L922.10 1453.49 L922.60 1453.48 L923.10 1453.48 L923.60 1453.48 L924.10 1453.48 L924.60 1453.47 L925.10 1453.47 L925.60 1453.47 L926.10 1453.47 L926.60 1453.46 L927.10 1453.46 L927.60 1453.45 L928.10 1453.45 L928.60 1453.45 L929.10 1453.44 L929.60 1453.44 L930.10 1453.43 L930.60 1453.43 L931.10 1453.42 L931.60 1453.42 L932.10 1453.41 L932.60 1453.40 L933.10 1453.40 L933.60 1453.39 L934.10 1453.38 L934.60 1453.38 L935.10 1453.37 L935.60 1453.36 L936.10 1453.35 L936.60 1453.34 L937.10 1453.33 L937.60 1453.32 L938.10 1453.31 L938.60 1453.30 L939.10 1453.29 L939.60 1453.28 L940.10 1453.27 L940.60 1453.26 L941.10 1453.25 L941.60 1453.24 L942.10 1453.22 L942.60 1453.21 L943.10 1453.20 L943.60 1453.18 L944.10 1453.17 L944.60 1453.15 L945.10 1453.14 L945.60 1453.12 L946.10 1453.11 L946.60 1453.09 L947.10 1453.07 L947.60 1453.05 L948.10 1453.04 L948.60 1453.02 L949.10 1453.00 L949.60 1452.98 L950.10 1452.96 L950.60 1452.94 L951.10 1452.92 L951.60 1452.90 L952.10 1452.87 L952.60 1452.85 L953.10 1452.83 L953.60 1452.80 L954.10 1452.78 L954.60 1452.75 L955.10 1452.73 L955.60 1452.70 L956.10 1452.68 L956.60 1452.65 L957.10 1452.62 L957.60 1452.59 L958.10 1452.56 L958.60 1452.53 L959.10 1452.50 L959.60 1452.47 L960.10 1452.44 L960.60 1452.41 L961.10 1452.38 L961.60 1452.34 L962.10 1452.31 L962.60 1452.28 L963.10 1452.24 L963.60 1452.20 L964.10 1452.17 L964.60 1452.13 L965.10 1452.09 L965.60 1452.05 L966.10 1452.01 L966.60 1451.97 L967.10 1451.93 L967.60 1451.89 L968.10 1451.85 L968.60 1451.81 L969.10 1451.76 L969.60 1451.72 L970.10 1451.67 L970.60 1451.63 L971.10 1451.58 L971.60 1451.53 L972.10 1451.48 L972.60 1451.43 L973.10 1451.38 L973.60 1451.33 L974.10 1451.28 L974.60 1451.23 L975.10 1451.18 L975.60 1451.12 L976.10 1451.07 L976.60 1451.01 L977.10 1450.95 L977.60 1450.90 L978.10 1450.84 L978.60 1450.78 L979.10 1450.72 L979.60 1450.66 L980.10 1450.60 L980.60 1450.53 L981.10 1450.47 L981.60 1450.41 L982.10 1450.34 L982.60 1450.27 L983.10 1450.21 L983.60 1450.14 L984.10 1450.07 L984.60 1450.00" fill="none" stroke="#ff0000" stroke-width="5.8" stroke-linejoin="miter" stroke-miterlimit="4" />
<path d="M563.15 1495.80 L984.80 1495.80" fill="none" stroke="#0000ff" stroke-width="5.5" stroke-dasharray="6.5 5.8" stroke-linejoin="bevel" stroke-miterlimit="4" />
<text x="79" y="129.5" font-size="46" text-anchor="start" fill="#000" >(a)</text>
<text x="583" y="129.3" font-size="46" text-anchor="start" fill="#000" >(b)</text>
<text x="77" y="671" font-size="46" text-anchor="start" fill="#000" >(c)</text>
<text x="586.3" y="675.5" font-size="46" text-anchor="start" fill="#000" >(d)</text>
<text x="75.4" y="1206" font-size="46" text-anchor="start" fill="#000" >(e)</text>
<text x="584.3" y="1207.6" font-size="46" text-anchor="start" fill="#000" >(f)</text>
<text transform="translate(65.33,599.57) scale(1.052,1)" font-size="43.29" fill="#000" font-style="italic">d</text>
<text transform="translate(89.36,607.40) scale(1.084,1)" font-size="32.75" fill="#000" font-style="italic">x</text>
<text transform="translate(109.74,606.22) scale(1.264,1)" font-size="30.15" fill="#000" font-style="italic">y</text>
<text x="132.6" y="599.5" font-size="45" text-anchor="start" fill="#000" >-wave altermagnet</text>
<text transform="translate(543.41,596.25) scale(1.041,1)" font-size="44.57" fill="#000" font-style="italic">d</text>
<text transform="translate(568.19,604.20) scale(1.091,1)" font-size="36.04" fill="#000" font-style="italic">x</text>
<text transform="translate(587.16,594.80) scale(1.296,1)" font-size="21.21" fill="#000">2</text>
<text transform="translate(605.59,609.28) scale(1.000,1)" font-size="40.22" fill="#000">−</text>
<text transform="translate(635.93,602.88) scale(0.934,1)" font-size="33.13" fill="#000" font-style="italic">y</text>
<text transform="translate(650.54,594.80) scale(1.532,1)" font-size="21.21" fill="#000">2</text>
<text x="667.6" y="593.6" font-size="45" text-anchor="start" fill="#000" >-wave altermagnet</text>
<text transform="translate(117.53,1128.22) scale(1.123,1)" font-size="38.97" fill="#000" font-style="italic">p</text>
<text transform="translate(139.49,1134.80) scale(1.525,1)" font-size="25.49" fill="#000" font-style="italic">x</text>
<text x="169.3" y="1129.8" font-size="45" text-anchor="start" fill="#000" >-wave magnet</text>
<text transform="translate(619.95,1133.22) scale(1.177,1)" font-size="38.97" fill="#000" font-style="italic">p</text>
<text transform="translate(645.26,1138.86) scale(1.195,1)" font-size="27.16" fill="#000" font-style="italic">y</text>
<text x="662.7" y="1136.4" font-size="45" text-anchor="start" fill="#000" >-wave magnet</text>
<text transform="translate(219.64,1655.30) scale(1.131,1)" font-size="47.94" fill="#000" font-style="italic">E</text>
<line x1="256.6" y1="1665" x2="271.1" y2="1621.8" stroke="#000" stroke-width="2.1"/>
<text transform="translate(275.63,1654.60) scale(1.159,1)" font-size="49.01" fill="#000">Δ</text>
<text transform="translate(730.54,1655.30) scale(1.131,1)" font-size="47.94" fill="#000" font-style="italic">E</text>
<line x1="767.5" y1="1665" x2="782.0" y2="1621.8" stroke="#000" stroke-width="2.1"/>
<text transform="translate(786.53,1654.60) scale(1.159,1)" font-size="49.01" fill="#000">Δ</text>
<path d="M83.82 332.45 L83.90 332.11 L83.99 331.65 L84.10 331.09 L84.26 330.48 L84.46 329.84 L84.74 329.20 L85.11 328.53 L85.54 327.80 L86.03 327.04 L86.56 326.29 L87.11 325.58 L87.65 324.95 L88.22 324.39 L88.81 323.87 L89.42 323.39 L90.04 322.96 L90.65 322.59 L91.23 322.29 L91.78 322.05 L92.31 321.87 L92.83 321.75 L93.35 321.68 L93.87 321.67 L94.42 321.70 L94.99 321.78 L95.59 321.90 L96.20 322.08 L96.80 322.32 L97.37 322.62 L97.90 322.99 L98.41 323.46 L98.91 324.02 L99.39 324.64 L99.82 325.31 L100.20 325.98 L100.52 326.62 L100.76 327.24 L100.96 327.87 L101.11 328.49 L101.19 329.14 L101.23 329.80 L101.20 330.49 L101.11 331.23 L100.97 332.00 L100.77 332.80 L100.51 333.60 L100.21 334.38 L99.85 335.12 L99.43 335.83 L98.94 336.54 L98.40 337.23 L97.83 337.89 L97.24 338.50 L96.64 339.07 L96.03 339.60 L95.37 340.10 L94.70 340.57 L94.03 340.98 L93.38 341.33 L92.77 341.62 L92.20 341.85 L91.65 342.00 L91.13 342.11 L90.62 342.16 L90.10 342.16 L89.58 342.12 L89.03 342.02 L88.44 341.86 L87.86 341.65 L87.31 341.41 L86.81 341.17 L86.39 340.95 L86.06 340.73 L85.81 340.48 L85.60 340.23 L85.44 340.00 L85.32 339.80 L85.21 339.66 L82.99 349.83 L82.58 350.85 L81.41 351.00 L80.23 350.71 L79.80 349.83 Z M86.39 337.08 L86.38 336.43 L86.44 335.70 L86.55 334.91 L86.70 334.09 L86.87 333.27 L87.05 332.45 L87.25 331.63 L87.47 330.78 L87.71 329.93 L87.99 329.08 L88.29 328.28 L88.62 327.53 L88.98 326.83 L89.39 326.15 L89.82 325.51 L90.28 324.92 L90.75 324.40 L91.23 323.96 L91.74 323.59 L92.28 323.30 L92.85 323.07 L93.40 322.91 L93.93 322.82 L94.42 322.78 L94.86 322.82 L95.29 322.92 L95.69 323.09 L96.05 323.32 L96.37 323.61 L96.64 323.96 L96.86 324.37 L97.03 324.86 L97.17 325.41 L97.26 326.00 L97.31 326.61 L97.33 327.24 L97.31 327.89 L97.25 328.57 L97.15 329.29 L97.01 330.01 L96.84 330.74 L96.64 331.46 L96.40 332.17 L96.11 332.89 L95.79 333.62 L95.45 334.33 L95.09 335.03 L94.72 335.71 L94.33 336.38 L93.91 337.07 L93.47 337.73 L93.03 338.36 L92.60 338.91 L92.19 339.37 L91.80 339.72 L91.43 339.99 L91.06 340.19 L90.70 340.33 L90.34 340.41 L89.97 340.45 L89.57 340.45 L89.16 340.39 L88.75 340.29 L88.35 340.13 L87.98 339.92 L87.65 339.66 L87.36 339.36 L87.08 339.01 L86.84 338.61 L86.63 338.16 L86.48 337.65 Z" fill="#0535ff" fill-rule="evenodd"/>
<text transform="translate(103.58,348.00) scale(1.195,1)" font-size="31.74" fill="#0535ff" font-style="italic">z</text>
<path d="M237.95 327.90 L238.03 327.55 L238.13 327.08 L238.24 326.52 L238.40 325.90 L238.62 325.25 L238.91 324.60 L239.28 323.93 L239.73 323.18 L240.24 322.41 L240.78 321.65 L241.35 320.93 L241.91 320.30 L242.49 319.73 L243.10 319.20 L243.74 318.71 L244.38 318.28 L245.00 317.90 L245.60 317.59 L246.17 317.35 L246.72 317.17 L247.25 317.05 L247.79 316.98 L248.33 316.96 L248.89 317.00 L249.49 317.08 L250.11 317.21 L250.73 317.39 L251.35 317.62 L251.95 317.93 L252.50 318.31 L253.02 318.78 L253.54 319.35 L254.03 319.98 L254.47 320.66 L254.87 321.33 L255.19 321.99 L255.45 322.62 L255.65 323.25 L255.80 323.89 L255.89 324.54 L255.93 325.21 L255.90 325.91 L255.81 326.66 L255.66 327.44 L255.46 328.25 L255.19 329.06 L254.88 329.85 L254.51 330.60 L254.07 331.33 L253.57 332.04 L253.01 332.74 L252.42 333.41 L251.81 334.03 L251.19 334.61 L250.56 335.15 L249.88 335.66 L249.19 336.12 L248.50 336.54 L247.83 336.90 L247.19 337.20 L246.60 337.42 L246.04 337.58 L245.50 337.68 L244.97 337.74 L244.44 337.74 L243.90 337.70 L243.33 337.60 L242.73 337.43 L242.12 337.22 L241.55 336.98 L241.04 336.74 L240.61 336.51 L240.27 336.29 L240.00 336.04 L239.79 335.79 L239.63 335.55 L239.50 335.35 L239.39 335.21 L237.09 345.51 L236.67 346.55 L235.46 346.70 L234.24 346.40 L233.80 345.51 Z M240.61 332.59 L240.60 331.93 L240.65 331.19 L240.77 330.39 L240.92 329.56 L241.10 328.72 L241.29 327.90 L241.49 327.07 L241.72 326.21 L241.97 325.34 L242.25 324.48 L242.56 323.67 L242.91 322.91 L243.28 322.20 L243.70 321.51 L244.15 320.86 L244.62 320.26 L245.10 319.73 L245.60 319.29 L246.13 318.92 L246.69 318.62 L247.27 318.39 L247.85 318.23 L248.40 318.13 L248.89 318.10 L249.35 318.13 L249.79 318.24 L250.21 318.41 L250.58 318.64 L250.91 318.94 L251.19 319.29 L251.42 319.71 L251.60 320.20 L251.73 320.76 L251.83 321.35 L251.88 321.98 L251.90 322.61 L251.88 323.27 L251.82 323.97 L251.71 324.69 L251.58 325.43 L251.40 326.16 L251.19 326.89 L250.94 327.61 L250.65 328.35 L250.32 329.08 L249.96 329.80 L249.59 330.51 L249.20 331.20 L248.80 331.88 L248.37 332.57 L247.92 333.25 L247.47 333.89 L247.02 334.45 L246.60 334.91 L246.20 335.27 L245.81 335.54 L245.43 335.74 L245.06 335.88 L244.68 335.97 L244.30 336.01 L243.89 336.01 L243.47 335.95 L243.04 335.84 L242.63 335.68 L242.25 335.47 L241.91 335.21 L241.61 334.90 L241.32 334.55 L241.07 334.14 L240.85 333.68 L240.70 333.17 Z" fill="#ff0000" fill-rule="evenodd"/>
<path d="M827.41 206.06 L827.49 205.72 L827.57 205.25 L827.68 204.69 L827.83 204.07 L828.03 203.42 L828.30 202.78 L828.66 202.10 L829.08 201.36 L829.56 200.59 L830.07 199.84 L830.60 199.12 L831.13 198.49 L831.68 197.92 L832.26 197.39 L832.85 196.91 L833.45 196.47 L834.04 196.10 L834.61 195.79 L835.14 195.55 L835.66 195.37 L836.16 195.25 L836.67 195.18 L837.18 195.16 L837.71 195.20 L838.26 195.28 L838.85 195.41 L839.44 195.58 L840.02 195.82 L840.58 196.13 L841.10 196.50 L841.59 196.97 L842.08 197.54 L842.54 198.17 L842.96 198.84 L843.33 199.52 L843.63 200.17 L843.88 200.80 L844.07 201.43 L844.21 202.06 L844.29 202.71 L844.33 203.38 L844.30 204.08 L844.22 204.82 L844.08 205.61 L843.88 206.41 L843.63 207.22 L843.34 208.01 L842.99 208.76 L842.58 209.48 L842.11 210.19 L841.58 210.89 L841.02 211.55 L840.45 212.18 L839.87 212.75 L839.27 213.29 L838.64 213.79 L837.99 214.26 L837.33 214.68 L836.70 215.04 L836.10 215.33 L835.55 215.55 L835.02 215.71 L834.51 215.81 L834.01 215.87 L833.51 215.87 L833.01 215.83 L832.47 215.73 L831.90 215.57 L831.33 215.35 L830.79 215.11 L830.31 214.87 L829.91 214.65 L829.59 214.42 L829.34 214.17 L829.14 213.92 L828.99 213.69 L828.86 213.49 L828.76 213.34 L826.60 223.62 L826.20 224.65 L825.06 224.80 L823.92 224.50 L823.50 223.62 Z M829.91 210.74 L829.90 210.08 L829.95 209.35 L830.06 208.55 L830.20 207.72 L830.37 206.88 L830.55 206.06 L830.74 205.24 L830.95 204.38 L831.19 203.51 L831.46 202.66 L831.75 201.84 L832.07 201.09 L832.43 200.38 L832.82 199.70 L833.24 199.05 L833.68 198.45 L834.14 197.92 L834.61 197.48 L835.10 197.11 L835.63 196.82 L836.18 196.59 L836.72 196.42 L837.24 196.33 L837.71 196.30 L838.14 196.33 L838.55 196.44 L838.94 196.61 L839.29 196.84 L839.61 197.13 L839.87 197.48 L840.08 197.90 L840.25 198.39 L840.38 198.94 L840.47 199.54 L840.52 200.16 L840.54 200.79 L840.52 201.45 L840.46 202.14 L840.36 202.86 L840.23 203.60 L840.07 204.33 L839.87 205.06 L839.63 205.78 L839.36 206.51 L839.05 207.24 L838.71 207.96 L838.36 208.67 L838.00 209.35 L837.62 210.03 L837.21 210.72 L836.79 211.40 L836.36 212.03 L835.94 212.59 L835.54 213.05 L835.17 213.40 L834.80 213.68 L834.45 213.88 L834.10 214.02 L833.74 214.10 L833.38 214.14 L833.00 214.14 L832.60 214.08 L832.20 213.98 L831.81 213.82 L831.45 213.60 L831.13 213.34 L830.85 213.04 L830.58 212.69 L830.34 212.28 L830.14 211.83 L829.99 211.31 Z" fill="#ff00ff" fill-rule="evenodd"/>
<path d="M636.44 291.60 L636.51 291.25 L636.59 290.78 L636.70 290.22 L636.85 289.60 L637.05 288.95 L637.31 288.30 L637.66 287.63 L638.07 286.88 L638.54 286.11 L639.04 285.35 L639.57 284.63 L640.09 284.00 L640.62 283.43 L641.19 282.90 L641.77 282.41 L642.36 281.98 L642.94 281.60 L643.49 281.29 L644.02 281.05 L644.52 280.87 L645.02 280.75 L645.51 280.68 L646.01 280.66 L646.53 280.70 L647.08 280.78 L647.65 280.91 L648.23 281.09 L648.80 281.32 L649.35 281.63 L649.86 282.01 L650.34 282.48 L650.82 283.05 L651.27 283.68 L651.68 284.36 L652.05 285.03 L652.35 285.69 L652.58 286.32 L652.77 286.95 L652.91 287.59 L652.99 288.24 L653.02 288.91 L653.00 289.61 L652.92 290.36 L652.78 291.14 L652.59 291.95 L652.35 292.76 L652.05 293.55 L651.71 294.30 L651.31 295.03 L650.85 295.74 L650.34 296.44 L649.79 297.11 L649.22 297.73 L648.65 298.31 L648.07 298.85 L647.45 299.36 L646.81 299.82 L646.17 300.24 L645.55 300.60 L644.96 300.90 L644.42 301.12 L643.90 301.28 L643.40 301.38 L642.91 301.44 L642.42 301.44 L641.92 301.40 L641.39 301.30 L640.84 301.13 L640.28 300.92 L639.75 300.68 L639.28 300.44 L638.88 300.21 L638.57 299.99 L638.33 299.74 L638.13 299.49 L637.98 299.25 L637.86 299.05 L637.76 298.91 L635.64 309.21 L635.25 310.25 L634.13 310.40 L633.01 310.10 L632.60 309.21 Z M638.88 296.29 L638.87 295.63 L638.93 294.89 L639.03 294.09 L639.17 293.26 L639.34 292.42 L639.52 291.60 L639.70 290.77 L639.91 289.91 L640.14 289.04 L640.40 288.18 L640.69 287.37 L641.00 286.61 L641.36 285.90 L641.74 285.21 L642.15 284.56 L642.59 283.96 L643.04 283.43 L643.49 282.99 L643.98 282.62 L644.50 282.32 L645.04 282.09 L645.57 281.93 L646.07 281.83 L646.53 281.80 L646.96 281.83 L647.36 281.94 L647.74 282.11 L648.09 282.34 L648.40 282.64 L648.65 282.99 L648.86 283.41 L649.03 283.90 L649.15 284.46 L649.24 285.05 L649.29 285.68 L649.31 286.31 L649.29 286.97 L649.23 287.67 L649.14 288.39 L649.01 289.13 L648.85 289.86 L648.65 290.59 L648.42 291.31 L648.15 292.05 L647.85 292.78 L647.52 293.50 L647.17 294.21 L646.82 294.90 L646.45 295.58 L646.05 296.27 L645.63 296.95 L645.21 297.59 L644.80 298.15 L644.41 298.61 L644.04 298.97 L643.69 299.24 L643.34 299.44 L642.99 299.58 L642.65 299.67 L642.29 299.71 L641.92 299.71 L641.52 299.65 L641.13 299.54 L640.75 299.38 L640.40 299.17 L640.09 298.91 L639.81 298.60 L639.54 298.25 L639.31 297.84 L639.11 297.38 L638.97 296.87 Z" fill="#00ffff" fill-rule="evenodd"/>
<path d="M853.9 201.7V228.2 M845.9 209.0 Q850.3 206.2 853.9 201.2 Q857.5 206.2 861.9 209.0" fill="none" stroke="#ff00ff" stroke-width="1.6" stroke-linecap="round"/>
<path d="M663.2 312.5V286 M655.2 305.2 Q659.6 308 663.2 313 Q666.8000000000001 308 671.2 305.2" fill="none" stroke="#00ffff" stroke-width="1.6" stroke-linecap="round"/>
<line x1="96.3" y1="364.6" x2="121.5" y2="413" stroke="#0535ff" stroke-width="4.5"/>
<polygon points="113.9,416.3 129.5,409.5 129,428" fill="#0535ff"/>
<line x1="237.8" y1="352.9" x2="212.5" y2="402" stroke="#ff0000" stroke-width="4.5"/>
<polygon points="205.2,396.7 220.6,404.3 205.2,415.6" fill="#ff0000"/>
</svg>
</body></html>
